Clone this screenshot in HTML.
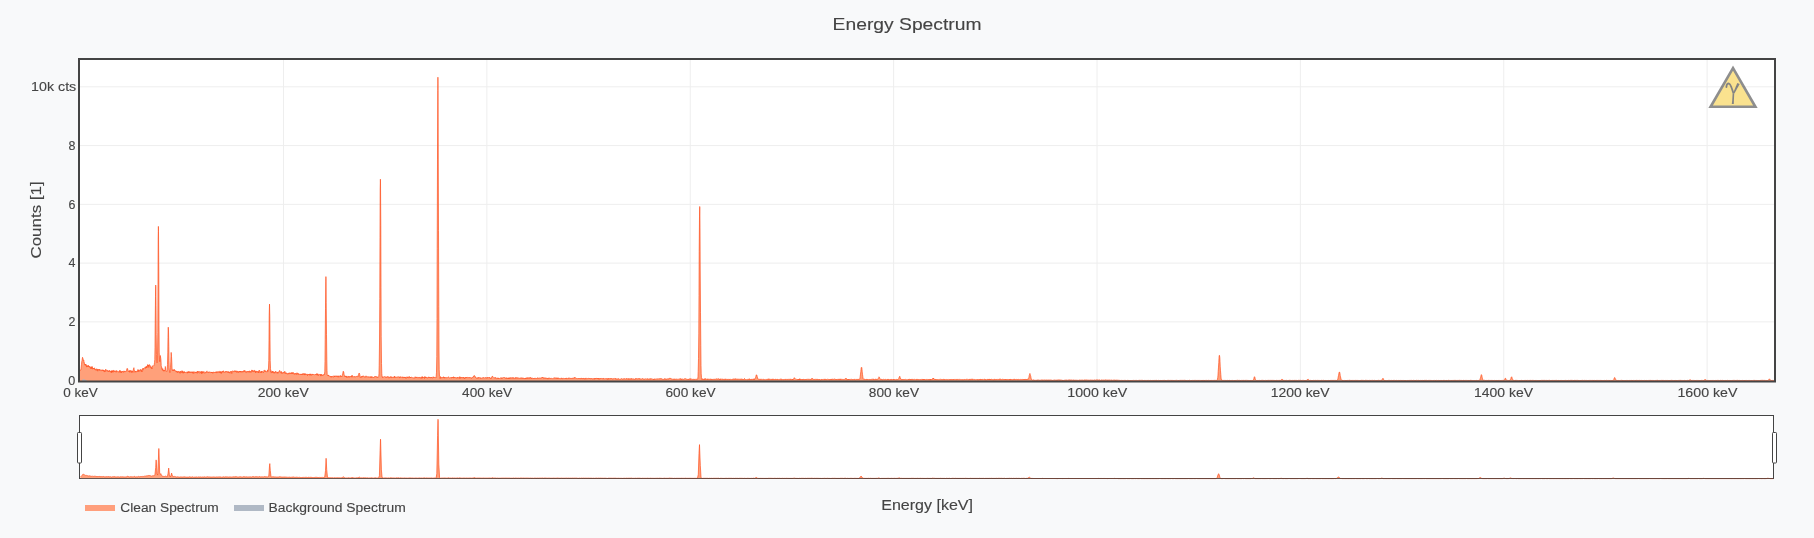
<!DOCTYPE html><html><head><meta charset="utf-8"><title>Energy Spectrum</title><style>html,body{margin:0;padding:0;background:#f8f9fa;overflow:hidden;}svg{display:block;will-change:transform;font-family:"Liberation Sans",sans-serif;}</style></head><body><svg width="1814" height="538" viewBox="0 0 1814 538">
<rect width="1814" height="538" fill="#f8f9fa"/>
<rect x="79.0" y="59.0" width="1696.0" height="322.0" fill="#fff"/>
<path d="M283.50,59.0V381.0 M486.88,59.0V381.0 M690.25,59.0V381.0 M893.62,59.0V381.0 M1097.00,59.0V381.0 M1300.38,59.0V381.0 M1503.75,59.0V381.0 M1707.12,59.0V381.0 M79.0,321.87H1775.0 M79.0,263.11H1775.0 M79.0,204.35H1775.0 M79.0,145.59H1775.0 M79.0,86.83H1775.0" stroke="#eee" stroke-width="1" fill="none"/>
<clipPath id="cp"><rect x="79.0" y="59.0" width="1696.0" height="322.0"/></clipPath>
<g clip-path="url(#cp)">
<path d="M80.0,381.0 L80.0,371.0 80.2,370.2 80.5,370.1 80.8,370.0 81.0,368.6 81.2,367.1 81.5,364.3 81.8,361.3 82.0,361.0 82.2,359.2 82.5,357.3 82.8,358.0 83.0,358.8 83.2,360.3 83.5,360.1 83.8,360.0 84.0,362.4 84.2,362.2 84.5,364.1 84.8,364.1 85.0,365.2 85.2,364.2 85.5,365.3 85.8,364.1 86.0,364.4 86.2,364.9 86.5,367.1 86.8,365.5 87.0,365.2 87.2,365.3 87.5,366.8 87.8,366.1 88.0,366.7 88.2,366.7 88.5,365.3 88.8,367.0 89.0,366.6 89.2,366.0 89.5,367.3 89.8,367.1 90.0,367.1 90.2,367.2 90.5,368.4 90.8,367.4 91.0,366.5 91.2,368.9 91.5,367.1 91.8,367.8 92.0,368.5 92.2,366.5 92.5,367.6 92.8,369.2 93.0,368.3 93.2,368.0 93.5,368.7 93.8,368.1 94.0,368.8 94.2,368.3 94.5,367.8 94.8,369.5 95.0,368.9 95.2,369.5 95.5,369.2 95.8,370.3 96.0,369.9 96.2,369.6 96.5,368.9 96.8,368.7 97.0,370.6 97.2,370.2 97.5,369.2 97.8,371.2 98.0,370.1 98.2,369.9 98.5,369.0 98.8,369.4 99.0,370.2 99.2,370.3 99.5,370.3 99.8,369.0 100.0,370.5 100.2,370.4 100.5,370.0 100.8,370.4 101.0,370.5 101.2,371.1 101.5,370.4 101.8,370.7 102.0,369.6 102.2,370.0 102.5,370.5 102.8,370.0 103.0,370.7 103.2,369.8 103.5,370.5 103.8,370.1 104.0,371.5 104.2,370.3 104.5,371.8 104.8,372.0 105.0,370.8 105.2,371.3 105.5,370.6 105.8,369.1 106.0,371.3 106.2,371.2 106.5,370.6 106.8,370.4 107.0,370.9 107.2,371.0 107.5,370.3 107.8,370.5 108.0,371.6 108.2,370.9 108.5,370.9 108.8,371.6 109.0,370.8 109.2,371.6 109.5,370.3 109.8,370.9 110.0,371.0 110.2,371.4 110.5,371.1 110.8,372.4 111.0,371.9 111.2,370.9 111.5,372.6 111.8,370.6 112.0,372.3 112.2,370.7 112.5,371.8 112.8,370.7 113.0,371.1 113.2,372.3 113.5,370.4 113.8,370.3 114.0,371.3 114.2,371.5 114.5,371.4 114.8,372.0 115.0,370.6 115.2,371.7 115.5,371.4 115.8,371.9 116.0,371.8 116.2,372.3 116.5,370.6 116.8,371.5 117.0,370.8 117.2,371.4 117.5,371.9 117.8,371.7 118.0,371.9 118.2,371.5 118.5,371.8 118.8,371.7 119.0,372.4 119.2,372.1 119.5,370.4 119.8,372.0 120.0,372.3 120.2,371.3 120.5,370.6 120.8,372.5 121.0,371.7 121.2,372.0 121.5,372.8 121.8,371.1 122.0,371.6 122.2,371.6 122.5,372.1 122.8,371.3 123.0,372.0 123.2,371.7 123.5,372.4 123.8,372.5 124.0,370.8 124.2,372.0 124.5,371.5 124.8,371.7 125.0,372.0 125.2,372.0 125.5,371.3 125.8,371.9 126.0,371.7 126.2,371.5 126.5,370.2 126.8,369.5 127.0,368.6 127.2,368.9 127.2,369.4 127.5,368.6 127.8,369.7 128.0,371.3 128.2,371.1 128.5,371.0 128.8,371.0 129.0,370.9 129.2,371.8 129.5,370.5 129.8,372.4 130.0,370.9 130.2,371.2 130.5,370.9 130.8,370.2 131.0,370.5 131.2,372.2 131.5,372.6 131.8,370.9 132.0,372.1 132.2,371.4 132.5,370.9 132.8,372.5 133.0,372.5 133.2,370.2 133.5,369.1 133.8,368.1 133.9,367.7 134.0,368.4 134.2,369.9 134.5,370.3 134.8,371.6 135.0,372.4 135.2,371.0 135.5,371.4 135.8,371.0 136.0,372.0 136.2,371.7 136.5,371.9 136.8,371.7 137.0,370.9 137.2,371.5 137.5,370.7 137.8,370.6 138.0,369.4 138.2,371.7 138.5,370.1 138.8,370.7 139.0,370.6 139.2,371.5 139.5,370.7 139.8,369.8 140.0,370.3 140.2,370.1 140.5,370.3 140.8,369.2 141.0,370.0 141.2,371.5 141.5,370.3 141.8,371.1 142.0,372.0 142.2,369.9 142.5,368.5 142.8,369.3 143.0,370.2 143.2,369.8 143.5,368.1 143.8,368.7 144.0,368.6 144.2,368.5 144.5,368.2 144.8,367.4 145.0,367.5 145.2,367.6 145.5,368.4 145.8,367.0 146.0,367.8 146.2,366.1 146.5,367.9 146.8,366.8 147.0,366.5 147.2,367.4 147.5,364.7 147.8,364.7 148.0,366.2 148.2,365.0 148.5,365.1 148.8,367.5 149.0,364.8 149.2,364.9 149.5,364.6 149.8,365.6 150.0,365.6 150.2,366.2 150.5,365.8 150.8,367.2 151.0,368.1 151.2,367.1 151.5,368.4 151.8,368.0 152.0,368.9 152.2,365.9 152.5,366.1 152.8,365.9 153.0,365.8 153.2,366.0 153.5,365.7 153.8,365.8 154.0,365.5 154.2,364.9 154.5,362.6 154.8,359.6 155.0,347.8 155.2,323.7 155.5,296.3 155.7,285.1 155.8,286.6 156.0,305.4 156.2,334.3 156.5,354.6 156.8,361.6 157.0,362.7 157.2,362.9 157.5,355.9 157.8,332.3 158.0,284.7 158.2,238.0 158.4,226.4 158.5,231.7 158.8,273.0 159.0,325.1 159.2,352.1 159.5,359.8 159.8,361.7 160.0,359.2 160.2,355.7 160.4,355.5 160.5,356.9 160.8,358.7 161.0,361.1 161.2,365.6 161.5,366.9 161.8,368.3 162.0,367.9 162.2,369.6 162.5,370.0 162.8,368.7 163.0,370.8 163.2,369.9 163.5,370.1 163.8,371.3 164.0,371.1 164.2,370.1 164.5,371.1 164.8,370.3 165.0,369.4 165.2,367.5 165.3,366.5 165.5,367.3 165.8,370.0 166.0,371.2 166.2,371.6 166.5,371.3 166.8,371.6 167.0,371.0 167.2,369.4 167.5,364.5 167.8,352.9 168.0,337.3 168.2,327.9 168.3,327.2 168.5,331.0 168.8,346.3 169.0,360.5 169.2,369.2 169.5,370.5 169.8,372.7 170.0,372.3 170.2,369.9 170.5,367.3 170.8,361.9 171.0,355.8 171.2,352.4 171.2,352.7 171.5,356.4 171.8,362.2 172.0,368.0 172.2,370.2 172.5,370.7 172.8,369.7 173.0,369.8 173.2,370.6 173.5,369.8 173.8,370.8 174.0,369.4 174.2,369.5 174.5,369.6 174.8,370.9 175.0,370.3 175.2,370.9 175.5,371.2 175.8,371.3 176.0,372.0 176.2,372.2 176.5,370.9 176.8,371.6 177.0,371.4 177.2,371.0 177.5,372.8 177.8,372.2 178.0,371.7 178.2,371.6 178.5,372.1 178.8,371.3 179.0,371.9 179.2,372.8 179.5,372.7 179.8,371.6 180.0,371.9 180.2,373.4 180.5,371.3 180.8,371.8 181.0,371.3 181.2,372.4 181.5,372.4 181.8,372.9 182.0,370.6 182.2,372.3 182.5,371.2 182.8,372.6 183.0,372.1 183.2,373.3 183.5,372.4 183.8,371.6 184.0,373.0 184.2,371.5 184.5,372.0 184.8,372.9 185.0,372.5 185.2,372.5 185.5,372.2 185.8,372.5 186.0,372.7 186.2,372.4 186.5,372.9 186.8,373.0 187.0,372.2 187.2,371.6 187.5,373.2 187.8,372.2 188.0,372.6 188.2,372.8 188.5,371.7 188.8,372.5 189.0,371.2 189.2,372.7 189.5,372.0 189.8,372.3 190.0,372.7 190.2,371.8 190.5,372.3 190.8,371.8 191.0,372.2 191.2,372.9 191.5,372.3 191.8,372.2 192.0,371.6 192.2,372.8 192.5,372.2 192.8,373.3 193.0,371.8 193.2,372.9 193.5,373.4 193.8,372.2 194.0,371.5 194.2,373.2 194.5,372.9 194.8,372.7 195.0,372.9 195.2,372.0 195.5,372.7 195.8,372.7 196.0,371.8 196.2,372.7 196.5,371.9 196.8,372.8 197.0,373.0 197.2,373.4 197.5,371.0 197.8,372.4 198.0,372.0 198.2,372.2 198.5,372.1 198.8,372.2 199.0,371.0 199.2,372.9 199.5,373.2 199.8,372.8 200.0,373.1 200.2,371.7 200.5,371.7 200.8,372.8 201.0,373.1 201.2,372.4 201.5,371.3 201.8,374.0 202.0,371.8 202.2,372.9 202.5,371.5 202.8,372.9 203.0,372.4 203.2,373.1 203.5,372.8 203.8,371.3 204.0,371.6 204.2,372.4 204.5,372.7 204.8,373.4 205.0,372.4 205.2,372.2 205.5,372.2 205.8,372.2 206.0,372.9 206.2,372.2 206.5,372.2 206.8,371.3 207.0,370.9 207.2,372.2 207.5,372.6 207.8,372.2 208.0,372.5 208.2,372.6 208.5,372.2 208.8,372.8 209.0,371.7 209.2,372.2 209.5,371.9 209.8,372.2 210.0,372.6 210.2,372.7 210.5,372.2 210.8,372.4 211.0,371.9 211.2,372.1 211.5,373.0 211.8,372.0 212.0,372.9 212.2,372.5 212.5,372.3 212.8,373.4 213.0,372.0 213.2,372.0 213.5,372.2 213.8,372.3 214.0,372.3 214.2,372.7 214.5,372.2 214.8,372.4 215.0,372.0 215.2,372.8 215.5,371.9 215.8,372.0 216.0,372.1 216.2,372.3 216.5,371.7 216.8,373.1 217.0,371.7 217.2,371.9 217.5,371.8 217.8,371.8 218.0,372.4 218.2,372.2 218.5,371.6 218.8,371.7 219.0,371.9 219.2,373.0 219.5,371.7 219.8,371.2 220.0,371.3 220.2,371.8 220.5,373.0 220.8,371.4 221.0,372.1 221.2,373.6 221.5,371.7 221.8,372.9 222.0,372.8 222.2,372.4 222.5,371.1 222.8,372.2 223.0,371.8 223.2,370.8 223.5,370.9 223.8,372.0 224.0,372.1 224.2,372.8 224.5,372.4 224.8,371.7 225.0,371.7 225.2,371.8 225.5,371.3 225.8,372.4 226.0,371.9 226.2,371.4 226.5,371.5 226.8,371.2 227.0,371.6 227.2,372.1 227.5,371.7 227.8,372.5 228.0,372.9 228.2,371.5 228.5,371.9 228.8,371.7 229.0,373.0 229.2,372.1 229.5,372.2 229.8,372.4 230.0,373.3 230.2,372.1 230.5,371.3 230.8,371.6 231.0,372.2 231.2,371.8 231.5,371.3 231.8,373.6 232.0,371.9 232.2,371.5 232.5,371.4 232.8,370.7 233.0,371.1 233.2,371.6 233.5,371.6 233.8,371.3 234.0,372.1 234.2,371.8 234.5,371.2 234.8,370.5 235.0,371.9 235.2,371.8 235.5,371.6 235.8,370.9 236.0,371.8 236.2,370.8 236.5,372.4 236.8,371.9 237.0,371.9 237.2,371.2 237.5,371.1 237.8,372.7 238.0,372.3 238.2,371.5 238.5,372.2 238.8,372.7 239.0,371.0 239.2,371.4 239.5,371.4 239.8,372.0 240.0,371.0 240.2,371.9 240.5,371.0 240.8,372.3 241.0,372.3 241.2,371.6 241.5,372.1 241.8,371.2 242.0,371.5 242.2,372.3 242.5,371.6 242.8,371.9 243.0,371.1 243.2,372.1 243.5,372.0 243.8,370.9 244.0,370.2 244.2,370.3 244.5,371.6 244.8,371.5 245.0,370.6 245.2,371.7 245.5,372.3 245.8,371.6 246.0,371.3 246.2,372.2 246.5,372.7 246.8,372.6 247.0,371.2 247.2,372.1 247.5,371.7 247.8,371.5 248.0,371.2 248.2,371.8 248.5,371.3 248.8,372.2 249.0,371.8 249.2,372.3 249.5,370.8 249.8,371.6 250.0,372.1 250.2,371.8 250.5,371.7 250.8,371.1 251.0,372.6 251.2,372.3 251.5,371.8 251.8,369.9 252.0,370.9 252.2,371.6 252.5,371.1 252.8,370.2 253.0,371.7 253.2,371.8 253.5,370.8 253.8,371.2 254.0,371.1 254.2,371.9 254.5,370.3 254.8,370.4 255.0,371.2 255.2,371.1 255.5,372.9 255.8,371.1 256.0,371.7 256.2,371.2 256.5,371.1 256.8,371.7 257.0,372.6 257.2,371.3 257.5,372.0 257.8,371.7 258.0,371.9 258.2,371.7 258.5,373.0 258.8,370.7 259.0,371.3 259.2,370.8 259.5,370.2 259.8,371.5 260.0,372.7 260.2,372.1 260.5,372.3 260.8,371.8 261.0,371.4 261.2,372.8 261.5,371.2 261.8,372.5 262.0,371.3 262.2,371.5 262.5,371.7 262.8,371.5 263.0,371.8 263.2,371.9 263.5,372.6 263.8,371.5 264.0,370.2 264.2,370.1 264.5,370.6 264.8,371.0 265.0,371.9 265.2,370.5 265.5,371.5 265.8,371.5 266.0,371.6 266.2,371.4 266.5,371.7 266.8,371.5 267.0,372.1 267.2,371.7 267.5,369.9 267.8,371.4 268.0,371.5 268.2,370.6 268.5,368.0 268.8,360.6 269.0,340.9 269.2,315.6 269.5,304.1 269.8,316.2 270.0,339.8 270.2,360.5 270.5,368.7 270.8,371.6 271.0,370.7 271.2,373.1 271.5,372.3 271.8,372.2 272.0,371.5 272.2,371.5 272.5,371.0 272.8,373.0 273.0,371.5 273.2,372.2 273.5,372.4 273.8,371.7 274.0,372.6 274.2,373.4 274.5,372.3 274.8,373.0 275.0,372.5 275.2,371.9 275.5,371.9 275.8,371.1 276.0,372.3 276.2,373.2 276.5,372.7 276.8,372.8 277.0,373.0 277.2,372.0 277.5,372.7 277.8,373.5 278.0,371.9 278.2,372.4 278.5,372.1 278.8,372.2 279.0,371.7 279.2,371.7 279.5,370.5 279.8,370.7 279.9,370.7 280.0,370.7 280.2,372.2 280.5,371.8 280.8,372.3 281.0,372.2 281.2,373.3 281.5,371.5 281.8,372.5 282.0,373.3 282.2,373.6 282.5,372.8 282.8,372.7 283.0,373.1 283.2,372.6 283.5,373.1 283.8,372.3 284.0,373.1 284.2,372.7 284.5,372.1 284.8,371.2 285.0,373.4 285.2,373.1 285.5,373.4 285.8,372.4 286.0,373.6 286.2,373.2 286.5,373.0 286.8,373.6 287.0,373.6 287.2,373.3 287.5,374.3 287.8,373.9 288.0,373.3 288.2,373.0 288.5,373.2 288.8,374.2 289.0,373.4 289.2,372.7 289.5,372.9 289.8,373.3 290.0,373.8 290.2,372.9 290.5,373.7 290.8,374.0 291.0,373.8 291.2,372.5 291.5,373.3 291.8,372.7 292.0,373.7 292.2,372.9 292.5,373.9 292.8,373.6 293.0,372.1 293.2,373.1 293.5,373.9 293.8,373.7 294.0,373.5 294.2,373.0 294.5,374.0 294.8,374.7 295.0,373.9 295.2,373.7 295.5,373.7 295.8,373.0 296.0,373.6 296.2,373.4 296.5,374.5 296.8,373.4 297.0,372.7 297.2,373.5 297.5,373.8 297.8,373.9 298.0,373.0 298.2,374.6 298.5,374.1 298.8,373.8 299.0,373.7 299.2,374.4 299.5,374.0 299.8,374.3 300.0,374.1 300.2,374.3 300.5,374.9 300.8,374.3 301.0,373.8 301.2,374.8 301.5,374.4 301.8,374.0 302.0,374.9 302.2,374.2 302.5,374.9 302.8,373.7 303.0,373.1 303.2,373.3 303.5,374.5 303.8,374.0 304.0,374.3 304.2,374.3 304.5,373.6 304.8,375.1 305.0,373.8 305.2,374.5 305.5,373.7 305.8,374.3 306.0,374.8 306.2,374.3 306.5,374.1 306.8,374.4 307.0,374.2 307.2,374.8 307.5,375.7 307.8,374.0 308.0,374.1 308.2,374.4 308.5,374.5 308.8,374.0 309.0,374.8 309.2,374.9 309.5,374.7 309.8,373.9 310.0,375.3 310.2,373.9 310.5,374.9 310.8,375.2 311.0,373.9 311.2,374.7 311.5,375.3 311.8,374.8 312.0,374.1 312.2,374.0 312.5,374.9 312.8,374.4 313.0,374.3 313.2,375.0 313.5,374.5 313.8,374.7 314.0,375.0 314.2,375.0 314.5,374.7 314.8,374.7 315.0,375.0 315.2,374.9 315.5,374.1 315.8,374.6 316.0,374.3 316.2,374.1 316.5,374.4 316.8,373.5 317.0,375.2 317.2,374.3 317.5,375.0 317.8,373.8 318.0,373.9 318.2,375.8 318.5,375.3 318.8,374.5 319.0,374.4 319.2,374.4 319.5,374.9 319.8,374.6 320.0,374.5 320.2,374.9 320.5,374.3 320.8,376.1 321.0,374.5 321.2,375.4 321.5,374.4 321.8,375.0 322.0,375.4 322.2,374.7 322.5,375.4 322.8,375.4 323.0,375.8 323.2,375.0 323.5,374.7 323.8,374.4 324.0,375.0 324.2,374.3 324.5,374.2 324.8,371.3 325.0,361.3 325.2,339.7 325.5,308.8 325.8,281.9 325.9,276.6 326.0,278.9 326.2,302.8 326.5,334.3 326.8,359.1 327.0,370.3 327.2,374.9 327.5,375.3 327.8,375.5 328.0,376.0 328.2,374.9 328.5,375.7 328.8,375.1 329.0,375.6 329.2,376.4 329.5,376.3 329.8,376.0 330.0,376.3 330.2,376.3 330.5,376.4 330.8,377.1 331.0,376.4 331.2,377.3 331.5,376.2 331.8,376.7 332.0,376.7 332.2,376.4 332.5,376.2 332.8,377.0 333.0,377.1 333.2,376.8 333.5,377.3 333.8,376.8 334.0,375.6 334.2,376.8 334.5,376.1 334.8,377.0 335.0,376.2 335.2,376.5 335.5,376.4 335.8,376.1 336.0,375.6 336.2,376.3 336.5,376.3 336.8,376.8 337.0,376.1 337.2,376.5 337.5,376.0 337.8,376.4 338.0,375.6 338.2,377.3 338.5,376.6 338.8,376.0 339.0,376.6 339.2,376.8 339.5,376.6 339.8,377.1 340.0,376.4 340.2,375.3 340.5,375.9 340.8,377.0 341.0,376.8 341.2,376.6 341.5,376.0 341.8,376.7 342.0,376.4 342.2,375.2 342.5,374.2 342.8,373.3 343.0,372.2 343.2,371.6 343.3,371.2 343.5,372.3 343.8,372.2 344.0,374.3 344.2,375.0 344.5,375.2 344.8,375.8 345.0,377.0 345.2,376.1 345.5,376.0 345.8,376.9 346.0,377.0 346.2,376.6 346.5,377.2 346.8,375.9 347.0,377.6 347.2,377.0 347.5,376.7 347.8,376.7 348.0,376.5 348.2,376.4 348.5,376.7 348.8,376.1 349.0,377.5 349.2,376.6 349.5,376.9 349.8,376.5 350.0,376.5 350.2,377.0 350.5,376.9 350.8,376.2 351.0,376.4 351.2,376.9 351.5,375.7 351.8,375.6 352.0,377.3 352.2,376.5 352.5,375.5 352.8,376.3 353.0,376.5 353.2,376.7 353.5,376.9 353.8,376.7 354.0,376.9 354.2,376.3 354.5,376.8 354.8,376.8 355.0,377.2 355.2,376.7 355.5,377.1 355.8,376.7 356.0,376.2 356.2,376.5 356.5,376.5 356.8,376.5 357.0,376.7 357.2,376.7 357.5,376.8 357.8,376.2 358.0,376.7 358.2,375.0 358.5,374.6 358.8,373.9 359.0,373.2 359.1,373.2 359.2,373.0 359.5,374.1 359.8,374.3 360.0,376.1 360.2,377.3 360.5,376.9 360.8,377.6 361.0,376.8 361.2,376.3 361.5,376.5 361.8,377.3 362.0,377.1 362.2,376.0 362.5,376.6 362.8,376.8 363.0,376.3 363.2,375.7 363.5,376.2 363.8,376.7 364.0,376.6 364.2,376.5 364.5,377.1 364.8,377.3 365.0,376.8 365.2,377.2 365.5,376.8 365.8,376.8 366.0,375.8 366.2,377.2 366.5,376.9 366.8,376.9 367.0,376.6 367.2,376.4 367.5,377.0 367.8,377.2 368.0,377.5 368.2,377.2 368.5,376.6 368.8,376.8 369.0,377.3 369.2,377.0 369.5,376.9 369.8,376.7 370.0,377.1 370.2,377.0 370.5,377.7 370.8,377.4 371.0,376.2 371.2,377.8 371.5,377.0 371.8,376.8 372.0,377.1 372.2,377.2 372.5,376.9 372.8,376.9 373.0,376.9 373.2,377.7 373.5,377.0 373.8,377.3 374.0,377.2 374.2,376.8 374.5,376.7 374.8,376.6 375.0,377.2 375.2,376.6 375.5,376.5 375.8,376.5 376.0,376.4 376.2,377.0 376.5,377.0 376.8,376.6 377.0,377.5 377.2,376.9 377.5,377.2 377.8,377.1 378.0,377.7 378.2,377.4 378.5,376.9 378.8,376.1 379.0,373.8 379.2,365.8 379.5,343.0 379.8,298.4 380.0,237.3 380.2,189.0 380.4,179.2 380.5,183.0 380.8,225.6 381.0,287.2 381.2,336.2 381.5,363.4 381.8,373.8 382.0,375.7 382.2,376.8 382.5,377.7 382.8,376.8 383.0,376.5 383.2,377.2 383.5,377.4 383.8,377.2 384.0,377.0 384.2,376.8 384.5,376.6 384.8,376.6 385.0,376.6 385.2,376.5 385.5,376.8 385.8,377.7 386.0,377.2 386.2,377.0 386.5,377.3 386.8,376.7 387.0,377.3 387.2,377.5 387.5,376.5 387.8,376.9 388.0,377.1 388.2,376.8 388.5,376.7 388.8,377.0 389.0,378.2 389.2,377.4 389.5,377.4 389.8,377.6 390.0,377.1 390.2,376.7 390.5,377.4 390.8,377.7 391.0,376.4 391.2,377.4 391.5,377.7 391.8,377.1 392.0,377.0 392.2,377.5 392.5,376.9 392.8,377.4 393.0,377.6 393.2,377.2 393.5,376.9 393.8,377.5 394.0,377.1 394.2,377.3 394.5,376.1 394.8,377.5 395.0,376.7 395.2,377.3 395.5,377.3 395.8,377.0 396.0,376.9 396.2,376.8 396.5,377.1 396.8,377.5 397.0,377.5 397.2,377.1 397.5,377.1 397.8,376.7 398.0,377.1 398.2,376.9 398.5,376.7 398.8,377.3 399.0,377.9 399.2,377.8 399.5,377.9 399.8,376.7 400.0,377.7 400.2,376.9 400.5,377.1 400.8,376.7 401.0,377.0 401.2,377.4 401.5,377.4 401.8,377.3 402.0,377.3 402.2,377.6 402.5,377.4 402.8,376.7 403.0,378.1 403.2,377.3 403.5,377.8 403.8,377.3 404.0,377.1 404.2,377.4 404.5,377.1 404.8,378.0 405.0,377.0 405.2,377.7 405.5,377.2 405.8,377.4 406.0,378.5 406.2,377.7 406.5,377.4 406.8,376.8 407.0,377.3 407.2,377.4 407.5,378.0 407.8,376.9 408.0,376.8 408.2,377.5 408.5,377.6 408.8,378.1 409.0,377.1 409.2,376.4 409.5,377.2 409.8,377.0 410.0,377.3 410.2,377.9 410.5,377.0 410.8,378.0 411.0,377.6 411.2,377.4 411.5,377.2 411.8,377.3 412.0,377.4 412.2,377.8 412.5,378.0 412.8,377.5 413.0,377.8 413.2,378.0 413.5,378.0 413.8,377.7 414.0,378.2 414.2,378.0 414.5,378.2 414.8,377.4 415.0,377.4 415.2,376.7 415.5,378.1 415.8,377.8 416.0,377.2 416.2,377.6 416.5,377.7 416.8,376.9 417.0,377.7 417.2,378.0 417.5,378.0 417.8,377.4 418.0,377.4 418.2,378.1 418.5,377.9 418.8,377.3 419.0,377.3 419.2,377.8 419.5,377.3 419.8,377.3 420.0,378.2 420.2,377.7 420.5,377.4 420.8,377.8 421.0,378.4 421.2,377.7 421.5,377.3 421.8,376.9 422.0,378.4 422.2,376.5 422.5,378.0 422.8,377.2 423.0,377.1 423.2,377.2 423.5,377.5 423.8,378.0 424.0,377.3 424.2,377.8 424.5,378.5 424.8,376.5 425.0,377.3 425.2,376.9 425.5,377.9 425.8,377.0 426.0,376.9 426.2,377.0 426.5,377.6 426.8,378.0 427.0,377.6 427.2,378.4 427.5,378.2 427.8,377.5 428.0,377.9 428.2,377.6 428.5,377.6 428.8,376.8 429.0,377.1 429.2,377.6 429.5,377.1 429.8,377.9 430.0,377.7 430.2,377.2 430.5,378.1 430.8,377.7 431.0,378.1 431.2,377.5 431.5,377.0 431.8,377.9 432.0,377.5 432.2,377.9 432.5,378.0 432.8,378.1 433.0,377.0 433.2,376.7 433.5,377.4 433.8,377.9 434.0,377.3 434.2,377.7 434.5,377.3 434.8,377.5 435.0,377.5 435.2,377.4 435.5,377.8 435.8,377.7 436.0,378.0 436.2,376.5 436.5,372.2 436.8,356.3 437.0,318.5 437.2,248.4 437.5,159.1 437.8,90.7 437.9,77.2 438.0,83.2 438.2,142.0 438.5,230.6 438.8,306.4 439.0,351.0 439.2,369.2 439.5,376.4 439.8,376.7 440.0,377.8 440.2,378.7 440.5,376.6 440.8,377.0 441.0,378.0 441.2,377.6 441.5,377.7 441.8,377.6 442.0,378.2 442.2,377.9 442.5,377.5 442.8,377.6 443.0,377.2 443.2,377.6 443.5,376.7 443.8,377.9 444.0,377.5 444.2,378.4 444.5,378.1 444.8,377.1 445.0,378.0 445.2,377.5 445.5,377.7 445.8,378.1 446.0,377.8 446.2,377.9 446.5,377.8 446.8,377.4 447.0,377.4 447.2,377.9 447.5,378.0 447.8,377.6 448.0,377.7 448.2,377.3 448.5,376.7 448.8,377.4 449.0,377.7 449.2,377.7 449.5,378.0 449.8,378.0 450.0,378.1 450.2,377.8 450.5,377.8 450.8,377.4 451.0,377.8 451.2,377.8 451.5,378.2 451.8,377.1 452.0,377.5 452.2,377.0 452.5,377.4 452.8,377.1 453.0,377.8 453.2,377.4 453.5,376.7 453.8,378.2 454.0,377.3 454.2,377.1 454.5,377.6 454.8,377.4 455.0,377.2 455.2,378.0 455.5,377.6 455.8,378.1 456.0,378.0 456.2,378.0 456.5,377.8 456.8,377.7 457.0,377.6 457.2,378.3 457.5,377.0 457.8,377.3 458.0,377.5 458.2,377.9 458.5,377.8 458.8,377.5 459.0,377.6 459.2,378.4 459.5,377.5 459.8,376.6 460.0,378.5 460.2,377.4 460.5,377.6 460.8,377.8 461.0,377.2 461.2,378.2 461.5,377.7 461.8,377.2 462.0,377.8 462.2,377.9 462.5,377.7 462.8,377.9 463.0,377.2 463.2,378.1 463.5,377.4 463.8,378.2 464.0,377.5 464.2,377.8 464.5,378.8 464.8,377.8 465.0,378.2 465.2,377.9 465.5,377.2 465.8,378.2 466.0,378.2 466.2,377.2 466.5,377.7 466.8,377.2 467.0,377.7 467.2,378.1 467.5,377.8 467.8,377.3 468.0,377.4 468.2,377.8 468.5,377.8 468.8,377.8 469.0,378.0 469.2,377.1 469.5,377.8 469.8,378.2 470.0,378.0 470.2,377.5 470.5,377.6 470.8,377.9 471.0,378.1 471.2,377.8 471.5,378.5 471.8,378.3 472.0,377.5 472.2,378.0 472.5,377.6 472.8,377.2 473.0,377.2 473.2,377.2 473.5,376.1 473.8,376.3 474.0,376.3 474.2,375.6 474.5,375.6 474.8,376.2 475.0,376.1 475.2,376.6 475.5,377.7 475.8,377.3 476.0,377.6 476.2,377.8 476.5,378.4 476.8,377.9 477.0,377.9 477.2,377.8 477.5,378.3 477.8,377.6 478.0,378.3 478.2,377.9 478.5,377.4 478.8,378.1 479.0,378.1 479.2,377.5 479.5,378.0 479.8,378.0 480.0,377.8 480.2,377.5 480.5,378.7 480.8,378.2 481.0,378.3 481.2,378.3 481.5,378.2 481.8,378.2 482.0,377.8 482.2,378.2 482.5,377.8 482.8,377.7 483.0,378.2 483.2,377.8 483.5,377.3 483.8,377.8 484.0,378.1 484.2,377.9 484.5,378.2 484.8,377.8 485.0,377.6 485.2,378.2 485.5,378.0 485.8,377.5 486.0,378.1 486.2,377.8 486.5,378.3 486.8,378.2 487.0,378.1 487.2,377.1 487.5,378.1 487.8,378.1 488.0,378.1 488.2,378.0 488.5,377.7 488.8,377.9 489.0,377.2 489.2,377.9 489.5,377.4 489.8,377.8 490.0,377.7 490.2,378.5 490.5,378.0 490.8,378.0 491.0,378.0 491.2,378.6 491.5,377.3 491.8,377.3 492.0,376.8 492.2,376.3 492.4,376.2 492.5,376.0 492.8,377.0 493.0,377.4 493.2,377.4 493.5,377.7 493.8,378.0 494.0,378.2 494.2,378.3 494.5,378.0 494.8,377.5 495.0,378.3 495.2,377.4 495.5,377.7 495.8,378.1 496.0,377.7 496.2,378.5 496.5,378.6 496.8,378.4 497.0,378.1 497.2,378.1 497.5,378.2 497.8,378.0 498.0,378.8 498.2,377.8 498.5,378.5 498.8,378.2 499.0,378.1 499.2,378.4 499.5,378.5 499.8,378.4 500.0,378.0 500.2,377.8 500.5,377.8 500.8,378.4 501.0,378.3 501.2,378.3 501.5,377.8 501.8,378.7 502.0,377.6 502.2,378.2 502.5,378.3 502.8,377.9 503.0,377.7 503.2,377.9 503.5,377.6 503.8,378.0 504.0,377.6 504.2,377.6 504.5,378.1 504.8,377.5 505.0,378.0 505.2,378.0 505.5,378.4 505.8,378.1 506.0,377.8 506.2,378.5 506.5,377.8 506.8,377.9 507.0,377.9 507.2,378.8 507.5,378.1 507.8,377.8 508.0,378.3 508.2,378.0 508.5,378.9 508.8,377.8 509.0,378.3 509.2,377.8 509.5,378.7 509.8,377.8 510.0,378.2 510.2,377.8 510.5,378.4 510.8,378.3 511.0,377.3 511.2,378.4 511.5,378.3 511.8,378.2 512.0,378.4 512.2,377.7 512.5,377.5 512.8,378.3 513.0,378.7 513.2,377.7 513.5,377.7 513.8,377.8 514.0,377.7 514.2,378.4 514.5,378.2 514.8,378.6 515.0,378.6 515.2,377.8 515.5,378.3 515.8,377.3 516.0,378.1 516.2,378.3 516.5,377.8 516.8,377.5 517.0,377.9 517.2,378.5 517.5,378.0 517.8,377.6 518.0,378.3 518.2,378.4 518.5,377.8 518.8,378.1 519.0,378.5 519.2,378.3 519.5,378.4 519.8,378.0 520.0,378.1 520.2,377.7 520.5,377.9 520.8,378.7 521.0,378.0 521.2,377.8 521.5,378.0 521.8,377.8 522.0,378.3 522.2,378.5 522.5,377.8 522.8,378.5 523.0,378.9 523.2,377.8 523.5,378.4 523.8,378.3 524.0,378.6 524.2,378.6 524.5,378.6 524.8,378.3 525.0,378.0 525.2,379.0 525.5,377.9 525.8,378.6 526.0,378.5 526.2,377.9 526.5,378.2 526.8,378.7 527.0,377.5 527.2,378.5 527.5,378.1 527.8,378.1 528.0,377.7 528.2,378.3 528.5,377.8 528.8,378.4 529.0,377.8 529.2,378.5 529.5,378.3 529.8,377.5 530.0,378.1 530.2,378.2 530.5,377.4 530.8,378.1 531.0,378.5 531.2,378.0 531.5,378.6 531.8,377.8 532.0,377.8 532.2,378.4 532.5,378.4 532.8,378.2 533.0,378.2 533.2,378.6 533.5,378.0 533.8,378.9 534.0,378.4 534.2,378.4 534.5,378.3 534.8,378.1 535.0,378.7 535.2,378.0 535.5,378.3 535.8,378.5 536.0,378.7 536.2,378.6 536.5,378.1 536.8,378.6 537.0,378.2 537.2,377.9 537.5,377.9 537.8,377.7 538.0,378.4 538.2,378.6 538.5,377.9 538.8,378.2 539.0,377.9 539.2,378.3 539.5,377.9 539.8,378.0 540.0,378.0 540.2,378.1 540.5,378.1 540.8,378.2 541.0,378.2 541.2,377.9 541.5,378.3 541.8,377.4 542.0,377.8 542.2,377.3 542.5,377.5 542.8,377.7 543.0,377.1 543.2,378.1 543.5,378.6 543.8,378.5 544.0,378.4 544.2,377.6 544.5,378.2 544.8,378.0 545.0,378.6 545.2,378.2 545.5,378.1 545.8,377.7 546.0,378.5 546.2,378.1 546.5,378.2 546.8,378.7 547.0,378.3 547.2,378.4 547.5,379.1 547.8,378.1 548.0,378.1 548.2,378.5 548.5,378.8 548.8,377.8 549.0,378.2 549.2,378.0 549.5,377.9 549.8,378.5 550.0,378.1 550.2,378.4 550.5,378.4 550.8,378.4 551.0,378.3 551.2,378.0 551.5,378.3 551.8,378.4 552.0,378.4 552.2,378.2 552.5,378.6 552.8,378.5 553.0,378.4 553.2,378.5 553.5,378.4 553.8,378.6 554.0,377.7 554.2,377.9 554.5,378.2 554.8,378.4 555.0,377.6 555.2,378.3 555.5,378.4 555.8,378.3 556.0,378.3 556.2,377.9 556.5,378.4 556.8,377.7 557.0,378.7 557.2,378.2 557.5,378.7 557.8,377.8 558.0,378.5 558.2,378.4 558.5,378.1 558.8,378.0 559.0,378.8 559.2,378.5 559.5,378.9 559.8,378.4 560.0,378.4 560.2,378.5 560.5,378.6 560.8,378.5 561.0,378.7 561.2,378.2 561.5,377.9 561.8,379.0 562.0,378.5 562.2,378.6 562.5,378.3 562.8,378.7 563.0,378.5 563.2,378.8 563.5,378.2 563.8,378.4 564.0,378.5 564.2,378.3 564.5,378.5 564.8,378.9 565.0,378.2 565.2,378.3 565.5,378.5 565.8,378.1 566.0,378.0 566.2,378.8 566.5,378.7 566.8,377.9 567.0,378.0 567.2,378.7 567.5,378.8 567.8,378.5 568.0,378.3 568.2,378.5 568.5,377.9 568.6,378.3 568.8,378.3 569.0,377.8 569.2,378.4 569.5,378.4 569.8,378.2 570.0,378.2 570.2,378.6 570.5,378.5 570.8,378.7 571.0,377.9 571.2,378.3 571.5,378.8 571.8,378.5 572.0,378.2 572.2,378.3 572.5,377.9 572.8,378.0 573.0,378.7 573.2,378.5 573.5,378.9 573.8,378.3 574.0,378.2 574.2,377.2 574.5,377.8 574.8,378.3 575.0,377.7 575.2,377.5 575.5,378.2 575.8,378.3 576.0,378.4 576.2,378.3 576.5,378.5 576.8,378.8 577.0,378.3 577.2,378.7 577.5,378.7 577.8,379.0 578.0,378.8 578.2,378.3 578.5,379.0 578.8,378.6 579.0,378.3 579.2,378.7 579.5,378.5 579.8,378.9 580.0,378.1 580.2,378.2 580.5,378.5 580.8,379.1 581.0,378.9 581.2,378.2 581.5,378.0 581.8,378.5 582.0,378.2 582.2,378.8 582.5,378.6 582.8,378.6 583.0,378.4 583.2,379.1 583.5,378.3 583.8,378.2 584.0,378.9 584.2,379.0 584.5,378.5 584.8,378.8 585.0,379.3 585.2,378.3 585.5,378.5 585.8,378.7 586.0,377.9 586.2,378.6 586.5,378.8 586.8,378.6 587.0,378.9 587.2,378.8 587.5,378.5 587.8,378.8 588.0,378.8 588.2,378.1 588.5,378.4 588.8,378.4 589.0,378.5 589.2,378.5 589.5,378.2 589.8,378.6 590.0,378.1 590.2,378.9 590.5,378.7 590.8,379.1 591.0,378.7 591.2,378.5 591.5,378.2 591.8,378.9 592.0,378.6 592.2,378.8 592.5,378.9 592.8,379.0 593.0,378.6 593.2,379.2 593.5,378.6 593.8,378.7 594.0,378.9 594.2,379.0 594.5,379.1 594.8,378.1 595.0,379.1 595.2,378.2 595.5,378.5 595.8,378.8 596.0,379.0 596.2,378.4 596.5,378.2 596.8,379.0 597.0,378.8 597.2,378.4 597.5,378.6 597.8,378.1 598.0,378.9 598.2,378.5 598.5,379.1 598.8,378.1 599.0,378.9 599.2,379.4 599.5,378.8 599.8,378.8 600.0,378.1 600.2,378.8 600.5,378.7 600.8,378.5 601.0,378.3 601.2,378.8 601.5,378.4 601.8,378.6 602.0,378.8 602.2,378.7 602.5,378.7 602.8,379.0 603.0,378.4 603.2,379.2 603.5,378.4 603.8,378.5 604.0,378.8 604.2,379.0 604.5,378.8 604.8,378.6 605.0,378.5 605.2,378.7 605.5,378.5 605.8,378.9 606.0,378.7 606.2,379.2 606.5,378.6 606.8,378.7 607.0,378.9 607.2,378.4 607.5,378.6 607.8,379.6 608.0,378.8 608.2,379.2 608.5,378.5 608.8,378.1 609.0,379.0 609.2,378.8 609.5,378.9 609.8,378.7 610.0,378.6 610.2,378.4 610.5,379.1 610.8,378.4 611.0,379.1 611.2,378.7 611.5,378.5 611.8,378.6 612.0,379.1 612.2,379.0 612.5,379.0 612.8,378.9 613.0,378.5 613.2,379.2 613.5,378.7 613.8,378.7 614.0,378.7 614.2,378.7 614.5,378.4 614.8,378.7 615.0,378.6 615.2,378.7 615.5,378.3 615.8,379.4 616.0,378.5 616.2,378.9 616.5,379.0 616.8,379.2 617.0,379.4 617.2,379.0 617.5,379.1 617.8,378.7 618.0,379.3 618.2,378.5 618.5,378.8 618.8,379.0 619.0,379.1 619.2,379.1 619.5,379.2 619.8,379.1 620.0,378.9 620.2,379.0 620.5,379.3 620.8,379.0 621.0,379.2 621.2,378.9 621.5,378.4 621.8,378.7 622.0,379.0 622.2,379.4 622.5,379.3 622.8,379.4 623.0,378.7 623.2,379.1 623.5,378.9 623.8,379.1 624.0,378.9 624.2,378.5 624.5,379.1 624.8,379.0 625.0,379.1 625.2,378.7 625.5,379.2 625.8,379.2 626.0,379.3 626.2,379.3 626.5,378.8 626.8,378.2 627.0,379.2 627.2,378.7 627.5,378.9 627.8,379.2 628.0,379.0 628.2,379.0 628.5,379.1 628.8,378.4 629.0,379.5 629.2,378.8 629.5,378.8 629.8,379.1 630.0,378.9 630.2,378.7 630.5,378.9 630.8,378.8 631.0,378.7 631.2,379.5 631.5,378.5 631.8,378.3 632.0,378.7 632.2,378.7 632.5,379.3 632.8,379.0 633.0,379.2 633.2,379.1 633.5,378.7 633.8,379.2 634.0,379.0 634.2,379.5 634.5,379.0 634.8,378.9 635.0,379.2 635.2,379.2 635.5,378.4 635.8,379.3 636.0,379.3 636.2,379.2 636.5,378.6 636.8,378.4 637.0,378.9 637.2,379.2 637.5,379.1 637.8,378.7 638.0,379.2 638.2,378.5 638.5,378.6 638.8,378.9 639.0,378.8 639.2,378.8 639.5,378.5 639.8,379.3 640.0,378.6 640.2,379.1 640.5,379.2 640.8,378.9 641.0,379.0 641.2,379.3 641.5,379.4 641.8,379.2 642.0,378.6 642.2,378.4 642.5,378.8 642.8,378.6 643.0,379.1 643.2,379.0 643.5,378.9 643.8,379.3 644.0,379.3 644.2,379.0 644.5,379.1 644.8,379.3 645.0,378.9 645.2,379.1 645.5,378.7 645.8,379.0 646.0,379.1 646.2,379.0 646.5,379.0 646.8,379.2 647.0,379.1 647.2,378.8 647.5,378.8 647.8,378.6 648.0,379.5 648.2,379.1 648.5,379.1 648.8,378.9 649.0,379.1 649.2,379.1 649.5,378.8 649.8,378.9 650.0,379.3 650.2,378.6 650.5,378.7 650.8,379.2 651.0,378.8 651.2,379.2 651.5,378.7 651.8,379.1 652.0,379.2 652.2,379.1 652.5,379.2 652.8,379.0 653.0,379.0 653.2,379.0 653.5,379.2 653.8,380.0 654.0,379.0 654.2,379.5 654.5,378.9 654.8,378.7 655.0,378.9 655.2,379.1 655.5,379.1 655.8,379.1 656.0,379.2 656.2,379.2 656.5,379.3 656.8,378.7 657.0,379.0 657.2,378.8 657.5,379.1 657.8,379.0 658.0,379.1 658.2,378.9 658.5,378.8 658.8,379.0 659.0,379.2 659.2,379.2 659.5,378.6 659.8,379.1 660.0,379.1 660.2,378.6 660.5,378.7 660.8,378.9 661.0,379.1 661.2,378.4 661.5,378.9 661.8,378.9 662.0,379.1 662.2,379.4 662.5,379.4 662.8,378.9 663.0,378.9 663.2,379.1 663.5,379.4 663.8,379.4 664.0,379.1 664.2,379.5 664.5,378.8 664.8,378.7 665.0,378.3 665.2,378.8 665.5,379.2 665.8,379.3 666.0,380.0 666.2,379.2 666.5,379.1 666.8,378.8 667.0,378.9 667.2,378.9 667.5,379.0 667.8,378.9 668.0,378.7 668.2,379.3 668.5,379.1 668.8,379.3 669.0,378.4 669.2,378.2 669.5,378.1 669.8,378.4 670.0,378.0 670.2,378.2 670.5,378.3 670.8,378.6 671.0,378.7 671.2,379.1 671.5,378.8 671.8,379.0 672.0,379.1 672.2,379.1 672.5,379.2 672.8,378.9 673.0,379.2 673.2,379.0 673.5,379.2 673.8,379.5 674.0,378.8 674.2,379.4 674.5,378.9 674.8,379.0 675.0,379.5 675.2,379.3 675.5,379.2 675.8,379.3 676.0,379.4 676.2,378.9 676.5,379.2 676.8,379.0 677.0,379.2 677.2,379.0 677.5,379.3 677.8,379.1 678.0,378.9 678.2,379.1 678.5,379.2 678.8,379.4 679.0,379.1 679.2,379.0 679.5,379.2 679.8,379.3 680.0,379.0 680.2,378.4 680.5,379.2 680.8,379.0 681.0,379.0 681.2,379.8 681.5,379.1 681.8,379.3 682.0,378.7 682.2,379.2 682.5,379.3 682.8,379.2 683.0,379.1 683.2,379.3 683.5,379.1 683.8,379.5 684.0,379.2 684.2,378.9 684.5,378.6 684.8,378.9 685.0,379.0 685.2,378.8 685.5,378.8 685.8,378.7 686.0,378.8 686.2,379.2 686.5,379.1 686.8,379.1 687.0,379.0 687.2,379.1 687.5,379.3 687.8,379.7 688.0,379.3 688.2,379.7 688.5,379.1 688.8,379.1 689.0,379.6 689.2,378.9 689.5,378.9 689.8,379.1 690.0,378.7 690.2,378.6 690.5,379.5 690.8,378.9 691.0,379.0 691.2,379.0 691.5,378.9 691.8,379.3 692.0,379.3 692.2,379.4 692.5,379.3 692.8,379.2 693.0,379.5 693.2,379.4 693.5,379.0 693.8,379.2 694.0,379.0 694.2,379.7 694.5,379.4 694.8,379.3 695.0,379.1 695.2,379.3 695.5,378.9 695.8,379.2 696.0,379.1 696.2,379.2 696.5,379.0 696.8,379.3 697.0,378.9 697.2,379.0 697.5,379.0 697.8,378.5 698.0,376.7 698.2,371.3 698.5,358.6 698.8,333.9 699.0,295.6 699.2,251.3 699.5,216.1 699.7,206.5 699.8,207.7 700.0,227.8 700.2,269.0 700.5,312.8 700.8,345.7 701.0,365.4 701.2,373.8 701.5,377.6 701.8,379.3 702.0,379.0 702.2,379.3 702.5,378.7 702.8,379.5 703.0,379.8 703.2,379.2 703.5,379.3 703.8,379.3 704.0,379.7 704.2,379.1 704.5,378.7 704.8,379.7 705.0,378.9 705.2,379.3 705.5,378.6 705.8,379.1 706.0,379.2 706.2,378.9 706.5,379.0 706.8,379.3 707.0,379.0 707.2,379.3 707.5,379.7 707.8,378.7 708.0,379.3 708.2,379.4 708.5,379.1 708.8,379.6 709.0,379.6 709.2,379.3 709.5,379.3 709.8,379.2 710.0,378.9 710.2,379.3 710.5,379.1 710.8,379.0 711.0,379.5 711.2,379.1 711.5,379.5 711.8,378.9 712.0,379.1 712.2,379.2 712.5,379.6 712.8,379.2 713.0,379.4 713.2,379.0 713.5,379.2 713.8,379.4 714.0,379.0 714.2,379.0 714.5,379.4 714.8,378.9 715.0,379.3 715.2,379.3 715.5,379.2 715.8,379.4 716.0,379.3 716.2,379.3 716.5,378.8 716.8,378.8 717.0,379.3 717.2,378.8 717.5,379.2 717.8,379.1 718.0,379.0 718.2,379.2 718.5,378.6 718.8,379.2 719.0,379.5 719.2,378.9 719.5,379.3 719.8,379.3 720.0,380.0 720.2,379.0 720.5,379.0 720.8,379.0 721.0,379.0 721.2,378.8 721.5,379.3 721.8,379.0 722.0,379.4 722.2,379.3 722.5,379.0 722.8,379.1 723.0,379.6 723.2,379.2 723.5,379.3 723.8,379.5 724.0,379.1 724.2,379.4 724.5,379.7 724.8,379.5 725.0,378.8 725.2,379.6 725.5,379.2 725.8,379.1 726.0,379.1 726.2,379.6 726.5,379.3 726.8,379.2 727.0,379.1 727.2,379.4 727.5,379.6 727.8,379.0 728.0,379.0 728.2,379.2 728.5,379.4 728.8,379.2 729.0,379.2 729.2,379.0 729.5,379.6 729.8,379.2 730.0,379.3 730.2,379.6 730.5,379.2 730.8,379.3 731.0,379.4 731.2,379.2 731.5,379.6 731.8,379.3 732.0,379.2 732.2,379.2 732.5,379.0 732.8,379.6 733.0,379.7 733.2,379.2 733.5,379.2 733.8,378.7 734.0,379.1 734.2,379.5 734.5,379.1 734.8,379.5 735.0,379.7 735.2,378.6 735.5,379.2 735.8,379.1 736.0,379.1 736.2,378.8 736.5,379.2 736.8,379.0 737.0,379.6 737.2,379.6 737.5,378.9 737.8,378.9 738.0,379.2 738.2,379.2 738.5,379.3 738.8,379.5 739.0,378.9 739.2,379.1 739.5,379.2 739.8,379.2 740.0,379.0 740.2,379.2 740.5,379.1 740.8,379.6 741.0,379.2 741.2,378.7 741.5,379.4 741.8,379.3 742.0,379.1 742.2,379.1 742.5,379.1 742.8,379.7 743.0,379.2 743.2,379.6 743.5,379.5 743.8,379.2 744.0,379.4 744.2,379.1 744.5,378.5 744.8,379.1 745.0,379.1 745.2,379.5 745.5,379.5 745.8,379.6 746.0,379.4 746.2,379.6 746.5,379.5 746.8,379.4 747.0,379.6 747.2,379.7 747.5,379.7 747.8,379.2 748.0,379.3 748.2,379.1 748.5,379.0 748.8,379.4 749.0,379.1 749.2,379.7 749.5,378.7 749.8,379.0 750.0,379.4 750.2,379.6 750.5,379.2 750.8,379.8 751.0,379.5 751.2,379.1 751.5,379.3 751.8,379.4 752.0,379.1 752.2,379.6 752.5,379.2 752.8,379.4 753.0,379.5 753.2,379.2 753.5,379.6 753.8,378.8 754.0,379.5 754.2,378.8 754.5,379.5 754.8,379.0 755.0,379.2 755.2,378.7 755.5,377.6 755.8,376.6 756.0,376.1 756.2,374.8 756.5,375.0 756.8,375.0 757.0,375.7 757.2,376.6 757.5,378.1 757.8,378.0 758.0,378.7 758.2,379.2 758.5,379.5 758.8,379.7 759.0,379.7 759.2,379.2 759.5,379.4 759.8,379.6 760.0,379.5 760.2,378.9 760.5,379.4 760.8,379.5 761.0,379.0 761.2,379.2 761.5,379.3 761.8,379.5 762.0,379.7 762.2,379.6 762.5,379.4 762.8,379.4 763.0,379.2 763.2,379.2 763.5,379.3 763.8,379.3 764.0,379.6 764.2,379.9 764.5,379.5 764.8,379.6 765.0,379.5 765.2,379.4 765.5,379.6 765.8,379.6 766.0,379.4 766.2,379.3 766.5,379.5 766.8,379.2 767.0,379.4 767.2,379.6 767.5,379.3 767.8,378.9 768.0,379.5 768.2,379.0 768.5,379.0 768.8,379.0 769.0,379.5 769.2,378.8 769.5,379.3 769.8,379.4 770.0,379.4 770.2,379.2 770.5,379.3 770.8,379.4 771.0,379.0 771.2,379.5 771.5,379.6 771.8,379.1 772.0,379.2 772.2,379.1 772.5,379.6 772.8,379.1 773.0,379.2 773.2,378.9 773.5,379.7 773.8,379.3 774.0,379.4 774.2,379.7 774.5,379.5 774.8,379.1 775.0,379.5 775.2,379.5 775.5,379.1 775.8,379.1 776.0,379.1 776.2,379.5 776.5,379.4 776.8,379.1 777.0,379.5 777.2,379.5 777.5,379.1 777.8,379.0 778.0,379.6 778.2,380.0 778.5,379.7 778.8,379.6 779.0,379.4 779.2,379.2 779.5,379.4 779.8,379.5 780.0,379.3 780.2,379.6 780.5,379.4 780.8,379.5 781.0,378.7 781.2,379.1 781.5,379.6 781.8,379.6 782.0,379.5 782.2,379.8 782.5,379.5 782.8,379.5 783.0,379.1 783.2,379.5 783.5,379.6 783.8,379.7 784.0,379.6 784.2,379.4 784.5,379.4 784.8,379.1 785.0,379.5 785.2,379.1 785.5,379.3 785.8,379.4 786.0,379.9 786.2,379.7 786.5,379.2 786.8,379.0 787.0,379.3 787.2,379.2 787.5,379.5 787.8,379.5 788.0,379.5 788.2,379.1 788.5,379.3 788.8,379.4 789.0,379.4 789.2,379.2 789.5,379.3 789.8,379.6 790.0,378.9 790.2,379.3 790.5,379.4 790.8,379.0 791.0,379.1 791.2,379.4 791.5,379.2 791.8,379.6 792.0,379.5 792.2,379.9 792.5,379.0 792.8,379.8 793.0,379.1 793.2,379.3 793.5,379.1 793.8,378.6 794.0,378.2 794.2,378.0 794.3,377.7 794.5,378.1 794.8,378.2 795.0,378.9 795.2,378.8 795.5,379.2 795.8,379.4 796.0,379.4 796.2,379.4 796.5,379.3 796.8,379.3 797.0,379.5 797.2,379.6 797.5,379.2 797.8,379.8 798.0,379.5 798.2,379.0 798.5,380.0 798.8,379.5 799.0,379.2 799.2,379.8 799.5,378.7 799.8,380.0 800.0,379.0 800.2,379.0 800.5,379.1 800.8,379.4 801.0,379.3 801.2,379.6 801.5,379.2 801.8,379.7 802.0,379.4 802.2,379.1 802.5,379.7 802.8,379.5 803.0,379.3 803.2,379.7 803.5,379.1 803.8,379.3 804.0,379.8 804.2,379.4 804.5,379.6 804.8,379.5 805.0,379.4 805.2,379.6 805.5,379.1 805.8,379.6 806.0,379.1 806.2,379.4 806.5,379.2 806.8,379.5 807.0,379.5 807.2,379.7 807.5,379.2 807.8,379.2 808.0,378.9 808.2,379.1 808.5,379.3 808.8,379.4 809.0,379.3 809.2,379.4 809.5,379.0 809.8,379.2 810.0,379.6 810.2,379.6 810.5,379.0 810.8,379.3 811.0,379.3 811.2,378.8 811.5,379.0 811.8,378.8 812.0,378.7 812.2,379.0 812.2,378.3 812.5,378.9 812.8,378.9 813.0,379.2 813.2,379.0 813.5,379.3 813.8,379.4 814.0,379.8 814.2,379.4 814.5,379.8 814.8,379.3 815.0,379.3 815.2,379.4 815.5,378.9 815.8,379.3 816.0,379.2 816.2,379.4 816.5,379.4 816.8,379.2 817.0,379.1 817.2,379.7 817.5,379.1 817.8,379.3 818.0,379.2 818.2,379.3 818.5,379.7 818.8,379.7 819.0,379.0 819.2,379.3 819.5,379.7 819.8,379.3 820.0,379.5 820.2,379.9 820.5,380.0 820.8,379.8 821.0,379.3 821.2,379.4 821.5,379.5 821.8,379.3 822.0,379.3 822.2,379.9 822.5,379.5 822.8,379.6 823.0,379.7 823.2,379.5 823.5,379.4 823.8,379.5 824.0,379.8 824.2,379.5 824.5,378.9 824.8,379.7 825.0,379.8 825.2,379.3 825.5,379.3 825.8,379.3 826.0,379.7 826.2,379.2 826.5,379.6 826.8,379.7 827.0,379.6 827.2,379.4 827.5,379.2 827.8,379.3 828.0,379.4 828.2,379.2 828.5,379.4 828.8,379.2 829.0,379.8 829.2,379.8 829.5,379.2 829.8,379.7 830.0,379.5 830.2,379.4 830.5,379.5 830.8,379.5 831.0,379.1 831.2,380.0 831.5,379.2 831.8,378.9 832.0,379.4 832.2,379.4 832.5,379.2 832.8,379.0 833.0,379.7 833.2,379.4 833.5,379.4 833.8,379.2 834.0,379.2 834.2,378.9 834.5,379.0 834.7,378.9 834.8,379.1 835.0,379.1 835.2,379.2 835.5,379.3 835.8,379.6 836.0,379.0 836.2,379.4 836.5,379.8 836.8,379.2 837.0,379.6 837.2,379.3 837.5,379.4 837.8,379.4 838.0,379.4 838.2,379.6 838.5,379.4 838.8,378.9 839.0,380.0 839.2,379.4 839.5,379.3 839.8,379.7 840.0,379.8 840.2,378.9 840.5,379.5 840.8,378.9 841.0,379.3 841.2,379.4 841.5,379.3 841.8,379.3 842.0,379.1 842.2,379.3 842.5,379.4 842.8,379.4 843.0,379.1 843.2,379.2 843.5,379.7 843.8,379.6 844.0,379.3 844.2,379.5 844.5,379.4 844.8,379.4 845.0,379.1 845.2,378.8 845.4,378.7 845.5,378.9 845.8,378.5 846.0,379.2 846.2,378.5 846.5,379.1 846.8,379.3 847.0,379.6 847.2,380.1 847.5,379.5 847.8,379.4 848.0,379.0 848.2,379.8 848.5,379.0 848.8,379.5 849.0,379.3 849.2,380.0 849.5,379.4 849.8,379.5 850.0,379.3 850.2,379.4 850.5,379.7 850.8,379.2 851.0,379.3 851.2,379.3 851.5,379.2 851.8,379.2 852.0,379.4 852.2,379.8 852.5,379.8 852.8,379.1 853.0,379.3 853.2,379.4 853.5,379.5 853.8,379.4 854.0,379.4 854.2,379.5 854.5,379.6 854.8,378.9 855.0,379.4 855.2,379.6 855.5,379.8 855.8,379.6 856.0,379.3 856.2,379.3 856.5,379.5 856.8,379.4 857.0,379.5 857.2,379.7 857.5,379.1 857.8,379.4 858.0,378.9 858.2,379.6 858.5,379.5 858.8,379.2 859.0,379.5 859.2,379.6 859.5,379.3 859.8,378.6 860.0,377.7 860.2,376.4 860.5,374.1 860.8,371.7 861.0,369.5 861.2,367.8 861.5,367.2 861.8,367.6 862.0,369.3 862.2,371.9 862.5,374.3 862.8,376.5 863.0,378.1 863.2,378.9 863.5,378.9 863.8,379.2 864.0,379.0 864.2,379.4 864.5,379.2 864.8,379.1 865.0,379.2 865.2,379.6 865.5,379.5 865.8,379.4 866.0,379.7 866.2,379.3 866.5,379.2 866.8,379.6 867.0,379.0 867.2,379.5 867.5,379.5 867.8,379.5 868.0,379.6 868.2,379.4 868.5,379.5 868.8,379.1 869.0,379.3 869.2,379.3 869.5,379.5 869.8,379.8 870.0,379.5 870.2,379.7 870.5,379.2 870.8,379.5 871.0,379.1 871.2,379.3 871.5,379.3 871.8,379.4 872.0,379.4 872.2,379.3 872.5,379.2 872.8,379.6 873.0,379.3 873.2,378.8 873.5,379.5 873.8,379.5 874.0,379.6 874.2,379.8 874.5,379.2 874.8,379.5 875.0,379.4 875.2,379.0 875.5,378.9 875.8,379.7 876.0,379.2 876.2,379.3 876.5,379.4 876.8,379.4 877.0,379.5 877.2,379.1 877.5,379.3 877.8,379.3 878.0,378.9 878.2,378.6 878.5,378.2 878.8,377.6 879.0,376.8 879.2,377.0 879.2,377.1 879.5,377.6 879.8,378.0 880.0,378.7 880.2,378.9 880.5,379.2 880.8,379.9 881.0,379.4 881.2,379.3 881.5,379.4 881.8,379.7 882.0,379.2 882.2,379.6 882.5,379.8 882.8,379.7 883.0,379.5 883.2,379.2 883.5,379.2 883.8,379.4 884.0,379.8 884.2,379.6 884.5,379.7 884.8,379.5 885.0,379.9 885.2,379.5 885.5,379.3 885.8,379.5 886.0,379.4 886.2,379.7 886.5,379.8 886.8,379.6 887.0,379.2 887.2,379.2 887.5,379.6 887.8,379.2 888.0,379.6 888.2,379.1 888.5,379.4 888.8,379.6 889.0,379.3 889.2,379.7 889.5,379.7 889.8,379.8 890.0,379.4 890.2,379.5 890.5,379.5 890.8,379.6 891.0,379.2 891.2,379.6 891.5,379.7 891.8,379.2 892.0,379.2 892.2,379.4 892.5,379.9 892.8,379.6 893.0,379.3 893.2,379.5 893.5,379.1 893.8,379.8 894.0,379.3 894.2,379.6 894.5,379.2 894.8,379.5 895.0,379.3 895.2,379.6 895.5,379.8 895.8,379.8 896.0,379.6 896.2,379.7 896.5,379.2 896.8,379.2 897.0,379.4 897.2,379.7 897.5,379.5 897.8,379.6 898.0,379.1 898.2,379.2 898.5,378.8 898.8,378.4 899.0,378.0 899.2,377.0 899.5,376.6 899.6,376.2 899.8,376.4 900.0,377.1 900.2,377.8 900.5,378.1 900.8,379.2 901.0,379.5 901.2,379.5 901.5,379.6 901.8,379.6 902.0,379.4 902.2,379.1 902.5,379.9 902.8,379.5 903.0,379.5 903.2,379.5 903.5,379.5 903.8,379.6 904.0,379.3 904.2,379.6 904.5,379.5 904.8,379.5 905.0,379.5 905.2,379.5 905.5,379.3 905.8,379.5 906.0,379.5 906.2,379.5 906.5,379.7 906.8,379.7 907.0,379.7 907.2,379.5 907.5,379.7 907.8,379.7 908.0,379.4 908.2,379.4 908.5,379.9 908.8,379.1 909.0,379.5 909.2,379.5 909.5,379.3 909.8,379.5 910.0,379.6 910.2,379.0 910.5,379.8 910.8,379.5 911.0,379.3 911.2,379.8 911.5,379.5 911.8,379.4 912.0,378.9 912.2,379.7 912.5,379.5 912.8,379.3 913.0,379.5 913.2,379.8 913.5,379.4 913.8,379.5 914.0,379.4 914.2,379.2 914.5,379.3 914.8,379.4 915.0,379.4 915.2,379.8 915.5,379.5 915.8,379.4 916.0,379.6 916.2,379.5 916.5,379.7 916.8,379.1 917.0,379.0 917.2,379.6 917.5,379.4 917.8,379.6 918.0,379.2 918.2,379.4 918.5,379.5 918.8,379.6 919.0,379.5 919.2,379.7 919.5,379.3 919.8,379.7 920.0,379.4 920.2,379.5 920.5,379.2 920.8,379.5 921.0,379.3 921.2,379.7 921.5,379.4 921.8,379.6 922.0,379.5 922.2,379.5 922.5,379.3 922.8,380.0 923.0,379.4 923.2,379.8 923.5,379.2 923.8,380.0 924.0,379.7 924.2,379.9 924.5,379.1 924.8,379.8 925.0,379.5 925.2,379.6 925.5,379.9 925.8,379.6 926.0,379.3 926.2,379.5 926.5,379.3 926.8,379.6 927.0,379.5 927.2,379.6 927.5,379.4 927.8,379.1 928.0,379.4 928.2,379.5 928.5,379.6 928.8,379.7 929.0,379.2 929.2,379.8 929.5,379.7 929.8,379.5 930.0,379.6 930.2,379.0 930.5,380.1 930.8,379.4 931.0,379.3 931.2,379.8 931.5,379.6 931.8,379.3 932.0,379.0 932.2,379.4 932.5,379.3 932.8,378.4 933.0,378.0 933.2,378.4 933.2,378.8 933.5,378.1 933.8,378.8 934.0,378.7 934.2,379.3 934.5,379.5 934.8,379.6 935.0,379.1 935.2,379.2 935.5,380.0 935.8,379.7 936.0,379.1 936.2,379.6 936.5,379.8 936.8,379.5 937.0,379.5 937.2,379.5 937.5,379.6 937.8,379.6 938.0,379.6 938.2,379.4 938.5,379.7 938.8,379.6 939.0,379.5 939.2,379.2 939.5,379.4 939.8,379.5 940.0,379.4 940.2,379.4 940.5,379.2 940.8,379.4 941.0,379.1 941.2,379.2 941.5,379.5 941.8,379.6 942.0,379.3 942.2,379.4 942.5,379.5 942.8,379.8 943.0,379.9 943.2,379.4 943.5,379.3 943.8,379.3 944.0,379.8 944.2,379.3 944.5,379.6 944.8,379.4 945.0,379.4 945.2,379.7 945.5,379.6 945.8,380.0 946.0,379.7 946.2,379.9 946.5,379.4 946.8,379.5 947.0,379.3 947.2,379.4 947.5,379.6 947.8,379.4 948.0,379.6 948.2,379.4 948.5,379.4 948.8,379.7 949.0,379.5 949.2,379.5 949.5,379.6 949.8,379.3 950.0,379.1 950.2,379.6 950.5,379.6 950.8,380.0 951.0,379.5 951.2,379.6 951.5,380.0 951.8,379.4 952.0,379.4 952.2,379.7 952.5,379.6 952.8,379.7 953.0,379.3 953.2,379.9 953.5,379.6 953.8,379.0 954.0,379.5 954.2,379.4 954.5,379.5 954.8,379.8 955.0,379.5 955.2,379.4 955.5,379.7 955.8,379.4 956.0,379.2 956.2,379.2 956.5,379.9 956.8,379.7 957.0,379.9 957.2,379.2 957.5,379.4 957.8,379.3 958.0,379.7 958.2,379.8 958.5,379.5 958.8,379.5 959.0,379.7 959.2,379.5 959.5,379.3 959.8,379.4 960.0,379.7 960.2,380.0 960.5,379.6 960.8,379.5 961.0,379.6 961.2,379.6 961.5,379.7 961.8,379.3 962.0,379.5 962.2,379.5 962.5,379.7 962.8,379.6 963.0,379.5 963.2,379.7 963.5,379.8 963.8,379.6 964.0,379.2 964.2,379.5 964.5,379.2 964.8,379.5 965.0,379.6 965.2,379.8 965.5,379.6 965.8,379.2 966.0,379.4 966.2,379.3 966.5,379.3 966.8,379.5 967.0,379.5 967.2,379.5 967.5,379.3 967.8,379.4 968.0,379.4 968.2,379.5 968.5,379.7 968.8,379.6 969.0,379.7 969.2,379.3 969.5,380.0 969.8,379.6 970.0,378.9 970.2,379.6 970.5,379.8 970.8,379.5 971.0,379.2 971.2,379.5 971.5,379.4 971.8,379.5 972.0,379.6 972.2,378.8 972.5,379.5 972.8,379.6 973.0,379.6 973.2,379.4 973.5,379.4 973.8,379.3 974.0,379.5 974.2,379.8 974.5,379.4 974.8,379.6 975.0,379.6 975.2,379.8 975.5,379.6 975.8,379.7 976.0,379.5 976.2,379.8 976.5,379.5 976.8,379.5 977.0,379.8 977.2,379.6 977.5,379.7 977.8,379.3 978.0,380.1 978.2,379.6 978.5,379.9 978.8,379.6 979.0,379.3 979.2,379.6 979.5,379.5 979.8,379.7 980.0,379.0 980.2,379.3 980.5,379.2 980.8,379.8 981.0,379.8 981.2,379.2 981.5,379.5 981.8,379.6 982.0,379.4 982.2,379.8 982.5,379.3 982.8,379.5 983.0,379.4 983.2,379.7 983.5,379.4 983.8,379.7 984.0,379.3 984.2,379.2 984.5,379.3 984.8,379.4 985.0,379.4 985.2,380.1 985.5,379.3 985.8,379.6 986.0,379.5 986.2,379.6 986.5,379.8 986.8,379.6 987.0,379.3 987.2,379.2 987.5,379.6 987.8,379.7 988.0,379.2 988.2,379.7 988.5,379.0 988.8,379.5 989.0,379.7 989.2,379.3 989.5,379.1 989.8,379.8 990.0,379.1 990.2,379.6 990.5,379.2 990.8,379.6 991.0,379.9 991.2,379.4 991.5,379.3 991.8,379.0 992.0,379.1 992.2,379.3 992.5,379.6 992.8,379.6 993.0,379.6 993.2,379.7 993.5,379.6 993.8,380.1 994.0,379.5 994.2,379.5 994.5,378.9 994.8,379.3 995.0,379.6 995.2,379.4 995.5,379.8 995.8,379.6 996.0,379.9 996.2,379.2 996.5,379.4 996.8,379.8 997.0,379.5 997.2,379.3 997.5,379.4 997.8,379.4 998.0,379.7 998.2,379.6 998.5,379.5 998.8,379.2 999.0,379.5 999.2,379.5 999.5,378.9 999.7,379.3 999.8,378.9 1000.0,379.1 1000.2,379.1 1000.5,379.0 1000.8,379.3 1001.0,379.3 1001.2,379.7 1001.5,379.7 1001.8,379.3 1002.0,379.1 1002.2,379.2 1002.5,379.0 1002.8,379.4 1003.0,379.5 1003.2,379.3 1003.5,379.5 1003.8,379.5 1004.0,379.7 1004.2,379.3 1004.5,379.8 1004.8,379.4 1005.0,379.8 1005.2,379.2 1005.5,379.7 1005.8,379.3 1006.0,379.9 1006.2,379.6 1006.5,379.2 1006.8,379.7 1007.0,379.5 1007.2,379.6 1007.5,380.0 1007.8,379.4 1008.0,379.4 1008.2,379.8 1008.5,379.4 1008.8,379.7 1009.0,379.7 1009.2,379.5 1009.5,379.7 1009.8,379.0 1010.0,379.9 1010.2,379.3 1010.5,379.3 1010.8,380.0 1011.0,379.9 1011.2,379.4 1011.5,379.6 1011.8,379.4 1012.0,379.2 1012.2,379.6 1012.5,379.7 1012.8,380.1 1013.0,379.5 1013.2,379.7 1013.5,379.4 1013.8,379.4 1014.0,379.8 1014.2,379.1 1014.5,379.2 1014.8,379.3 1015.0,379.8 1015.2,379.6 1015.5,379.6 1015.8,379.6 1016.0,379.8 1016.2,379.4 1016.5,379.4 1016.8,379.4 1017.0,379.6 1017.2,379.2 1017.5,379.5 1017.8,380.1 1018.0,379.6 1018.2,379.5 1018.5,379.3 1018.8,379.6 1019.0,379.6 1019.2,379.7 1019.5,379.3 1019.8,379.6 1020.0,379.6 1020.2,379.7 1020.5,379.4 1020.8,379.6 1021.0,379.9 1021.2,379.4 1021.5,379.7 1021.8,379.4 1022.0,379.4 1022.2,379.2 1022.5,379.3 1022.8,379.6 1023.0,379.5 1023.2,379.8 1023.5,379.1 1023.8,379.4 1024.0,379.2 1024.2,379.6 1024.5,380.0 1024.8,379.1 1025.0,379.5 1025.2,379.5 1025.5,379.5 1025.8,379.3 1026.0,379.4 1026.2,379.9 1026.5,379.2 1026.8,379.6 1027.0,379.6 1027.2,379.1 1027.5,379.2 1027.8,379.5 1028.0,379.7 1028.2,378.9 1028.5,378.3 1028.8,377.7 1029.0,376.9 1029.2,375.6 1029.5,374.7 1029.8,373.7 1029.9,373.5 1030.0,373.5 1030.2,374.5 1030.5,375.4 1030.8,376.5 1031.0,377.9 1031.2,378.7 1031.5,378.9 1031.8,379.6 1032.0,379.7 1032.2,380.0 1032.5,380.0 1032.8,380.3 1033.0,380.1 1033.2,379.9 1033.5,379.8 1033.8,379.9 1034.0,380.0 1034.2,380.1 1034.5,380.2 1034.8,380.1 1035.0,380.0 1035.2,380.2 1035.5,380.0 1035.8,380.3 1036.0,380.4 1036.2,380.3 1036.5,380.4 1036.8,380.3 1037.0,379.9 1037.2,380.1 1037.5,380.1 1037.8,379.9 1038.0,379.9 1038.2,380.2 1038.5,379.9 1038.8,380.0 1039.0,380.1 1039.2,380.0 1039.5,380.3 1039.8,380.2 1040.0,380.1 1040.2,380.0 1040.5,380.2 1040.8,380.1 1041.0,379.9 1041.2,379.9 1041.5,380.0 1041.8,379.9 1042.0,380.2 1042.2,380.1 1042.5,380.0 1042.8,380.1 1043.0,380.2 1043.2,379.8 1043.5,380.1 1043.8,380.3 1044.0,380.0 1044.2,379.8 1044.5,380.1 1044.8,379.9 1045.0,380.2 1045.2,380.2 1045.5,380.2 1045.8,380.1 1046.0,379.8 1046.2,380.3 1046.5,379.8 1046.8,380.3 1047.0,380.1 1047.2,380.0 1047.5,380.0 1047.8,380.1 1048.0,380.4 1048.2,380.0 1048.5,380.3 1048.8,379.7 1049.0,380.1 1049.2,380.1 1049.5,380.3 1049.8,380.2 1050.0,380.3 1050.2,379.9 1050.5,380.1 1050.8,380.0 1051.0,380.2 1051.2,380.2 1051.5,379.9 1051.8,380.3 1052.0,380.4 1052.2,380.0 1052.5,380.3 1052.8,380.2 1053.0,380.0 1053.2,380.2 1053.5,380.0 1053.8,380.2 1054.0,379.9 1054.2,379.9 1054.5,380.2 1054.8,380.1 1055.0,380.2 1055.2,380.1 1055.5,379.9 1055.8,380.3 1056.0,380.0 1056.2,380.3 1056.5,380.2 1056.8,380.4 1057.0,379.8 1057.2,380.1 1057.5,380.1 1057.8,380.2 1058.0,379.9 1058.2,380.4 1058.5,380.1 1058.8,379.7 1059.0,380.2 1059.2,380.1 1059.5,380.0 1059.8,380.2 1060.0,380.1 1060.2,379.9 1060.5,380.1 1060.8,380.0 1061.0,380.2 1061.2,380.0 1061.5,380.1 1061.8,379.9 1062.0,380.0 1062.2,380.1 1062.5,380.5 1062.8,380.0 1063.0,380.0 1063.2,380.2 1063.5,380.4 1063.8,380.3 1064.0,380.0 1064.2,380.3 1064.5,380.2 1064.8,380.1 1065.0,379.9 1065.2,380.1 1065.5,380.1 1065.8,380.2 1066.0,379.8 1066.2,379.9 1066.5,380.1 1066.8,380.3 1067.0,380.2 1067.2,380.0 1067.5,380.2 1067.8,380.0 1068.0,380.0 1068.2,380.1 1068.5,380.0 1068.8,380.0 1069.0,380.2 1069.2,380.2 1069.5,379.7 1069.8,380.3 1070.0,380.2 1070.2,379.9 1070.5,380.1 1070.8,380.2 1071.0,380.3 1071.2,380.0 1071.5,379.9 1071.8,379.9 1072.0,380.1 1072.2,379.9 1072.5,380.3 1072.8,380.1 1073.0,380.2 1073.2,380.1 1073.5,380.0 1073.8,379.9 1074.0,380.3 1074.2,379.9 1074.5,380.2 1074.8,380.3 1075.0,380.1 1075.2,380.3 1075.5,380.1 1075.8,380.1 1076.0,380.1 1076.2,380.0 1076.5,380.2 1076.8,380.1 1077.0,380.3 1077.2,380.1 1077.5,380.2 1077.8,380.2 1078.0,380.1 1078.2,380.1 1078.5,380.4 1078.8,380.4 1079.0,380.1 1079.2,380.0 1079.5,380.0 1079.8,380.0 1080.0,379.9 1080.2,380.0 1080.5,380.1 1080.8,380.3 1081.0,380.3 1081.2,380.2 1081.5,380.1 1081.8,380.1 1082.0,380.1 1082.2,380.1 1082.5,380.0 1082.8,380.1 1083.0,380.1 1083.2,380.1 1083.5,380.2 1083.8,380.3 1084.0,380.0 1084.2,380.0 1084.5,380.1 1084.8,380.2 1085.0,379.7 1085.2,380.2 1085.5,380.1 1085.8,380.1 1086.0,380.3 1086.2,380.1 1086.5,379.8 1086.8,380.0 1087.0,380.0 1087.2,380.0 1087.5,380.1 1087.8,379.9 1088.0,380.1 1088.2,380.2 1088.5,380.1 1088.8,380.0 1089.0,380.0 1089.2,380.0 1089.5,380.4 1089.8,379.9 1090.0,379.7 1090.2,379.9 1090.5,380.2 1090.8,380.2 1091.0,380.1 1091.2,380.3 1091.5,380.0 1091.8,380.2 1092.0,379.9 1092.2,379.9 1092.5,380.4 1092.8,380.1 1093.0,380.2 1093.2,380.3 1093.5,380.2 1093.8,380.1 1094.0,379.9 1094.2,380.3 1094.5,379.9 1094.8,379.8 1095.0,380.0 1095.2,380.0 1095.5,380.1 1095.8,380.3 1096.0,380.0 1096.2,380.0 1096.5,380.0 1096.8,379.7 1097.0,380.0 1097.2,380.0 1097.5,379.8 1097.8,380.3 1098.0,380.3 1098.2,380.2 1098.5,380.2 1098.8,380.0 1099.0,380.2 1099.2,379.8 1099.5,379.9 1099.8,380.0 1100.0,380.2 1100.2,380.0 1100.5,380.0 1100.8,380.3 1101.0,380.0 1101.2,380.0 1101.5,380.1 1101.8,379.8 1102.0,379.9 1102.2,380.2 1102.5,380.1 1102.8,380.2 1103.0,380.0 1103.2,380.2 1103.5,380.0 1103.8,380.0 1104.0,379.9 1104.2,380.1 1104.5,380.3 1104.8,379.8 1105.0,380.1 1105.2,379.9 1105.5,380.0 1105.8,380.0 1106.0,379.8 1106.2,380.0 1106.5,379.9 1106.8,380.3 1107.0,380.0 1107.2,380.1 1107.5,380.1 1107.8,380.1 1108.0,380.0 1108.2,379.8 1108.5,380.4 1108.8,380.1 1109.0,380.2 1109.2,379.9 1109.5,380.2 1109.8,380.0 1110.0,380.2 1110.2,380.0 1110.5,379.9 1110.8,380.2 1111.0,380.1 1111.2,380.3 1111.5,380.1 1111.8,380.0 1112.0,380.2 1112.2,379.9 1112.5,380.4 1112.8,380.4 1113.0,380.3 1113.2,380.2 1113.5,380.1 1113.8,380.1 1114.0,380.1 1114.2,380.0 1114.5,380.2 1114.8,380.3 1115.0,380.3 1115.2,379.8 1115.5,380.5 1115.8,380.1 1116.0,379.9 1116.2,380.0 1116.5,380.2 1116.8,380.1 1117.0,380.0 1117.2,380.0 1117.5,380.3 1117.8,380.1 1118.0,380.2 1118.2,380.2 1118.5,380.2 1118.8,380.4 1119.0,380.6 1119.2,380.4 1119.5,380.3 1119.8,380.4 1120.0,380.4 1120.2,380.2 1120.5,380.5 1120.8,380.4 1121.0,380.5 1121.2,380.4 1121.5,380.4 1121.8,380.3 1122.0,380.5 1122.2,380.5 1122.5,380.6 1122.8,380.4 1123.0,380.5 1123.2,380.4 1123.5,380.6 1123.8,380.5 1124.0,380.4 1124.2,380.5 1124.5,380.4 1124.8,380.4 1125.0,380.5 1125.2,380.6 1125.5,380.4 1125.8,380.4 1126.0,380.4 1126.2,380.6 1126.5,380.6 1126.8,380.6 1127.0,380.5 1127.2,380.4 1127.5,380.4 1127.8,380.5 1128.0,380.4 1128.2,380.4 1128.5,380.5 1128.8,380.4 1129.0,380.4 1129.2,380.6 1129.5,380.5 1129.8,380.3 1130.0,380.5 1130.2,380.5 1130.5,380.5 1130.8,380.5 1131.0,380.3 1131.2,380.5 1131.5,380.5 1131.8,380.6 1132.0,380.5 1132.2,380.6 1132.5,380.6 1132.8,380.4 1133.0,380.4 1133.2,380.6 1133.5,380.4 1133.8,380.4 1134.0,380.5 1134.2,380.4 1134.5,380.6 1134.8,380.6 1135.0,380.6 1135.2,380.6 1135.5,380.4 1135.8,380.6 1136.0,380.6 1136.2,380.5 1136.5,380.4 1136.8,380.5 1137.0,380.4 1137.2,380.5 1137.5,380.6 1137.8,380.5 1138.0,380.4 1138.2,380.5 1138.5,380.4 1138.8,380.3 1139.0,380.5 1139.2,380.4 1139.5,380.3 1139.8,380.5 1140.0,380.5 1140.2,380.6 1140.5,380.4 1140.8,380.4 1141.0,380.5 1141.2,380.4 1141.5,380.3 1141.8,380.4 1142.0,380.6 1142.2,380.5 1142.5,380.4 1142.8,380.4 1143.0,380.5 1143.2,380.5 1143.5,380.5 1143.8,380.6 1144.0,380.5 1144.2,380.5 1144.5,380.4 1144.8,380.5 1145.0,380.5 1145.2,380.5 1145.5,380.6 1145.8,380.4 1146.0,380.5 1146.2,380.4 1146.5,380.6 1146.8,380.4 1147.0,380.6 1147.2,380.5 1147.5,380.5 1147.8,380.4 1148.0,380.4 1148.2,380.5 1148.5,380.4 1148.8,380.4 1149.0,380.4 1149.2,380.4 1149.5,380.5 1149.8,380.5 1150.0,380.4 1150.2,380.5 1150.5,380.4 1150.8,380.4 1151.0,380.4 1151.2,380.5 1151.5,380.6 1151.8,380.5 1152.0,380.5 1152.2,380.4 1152.5,380.5 1152.8,380.5 1153.0,380.4 1153.2,380.5 1153.5,380.5 1153.8,380.3 1154.0,380.3 1154.2,380.4 1154.5,380.4 1154.8,380.5 1155.0,380.4 1155.2,380.5 1155.5,380.4 1155.8,380.5 1156.0,380.5 1156.2,380.5 1156.5,380.4 1156.8,380.3 1157.0,380.4 1157.2,380.6 1157.5,380.5 1157.8,380.6 1158.0,380.5 1158.2,380.4 1158.5,380.4 1158.8,380.5 1159.0,380.4 1159.2,380.5 1159.5,380.6 1159.8,380.6 1160.0,380.5 1160.2,380.3 1160.5,380.6 1160.8,380.3 1161.0,380.3 1161.2,380.5 1161.5,380.5 1161.8,380.5 1162.0,380.5 1162.2,380.4 1162.5,380.5 1162.8,380.4 1163.0,380.3 1163.2,380.4 1163.5,380.4 1163.8,380.5 1164.0,380.4 1164.2,380.6 1164.5,380.4 1164.8,380.4 1165.0,380.5 1165.2,380.3 1165.5,380.5 1165.8,380.5 1166.0,380.4 1166.2,380.6 1166.5,380.5 1166.8,380.6 1167.0,380.5 1167.2,380.5 1167.5,380.4 1167.8,380.4 1168.0,380.4 1168.2,380.3 1168.5,380.4 1168.8,380.5 1169.0,380.4 1169.2,380.5 1169.5,380.5 1169.8,380.3 1170.0,380.4 1170.2,380.4 1170.5,380.4 1170.8,380.4 1171.0,380.6 1171.2,380.5 1171.5,380.6 1171.8,380.4 1172.0,380.5 1172.2,380.3 1172.5,380.4 1172.8,380.5 1173.0,380.5 1173.2,380.6 1173.5,380.5 1173.8,380.4 1174.0,380.4 1174.2,380.6 1174.5,380.5 1174.8,380.4 1175.0,380.4 1175.2,380.4 1175.5,380.6 1175.8,380.4 1176.0,380.5 1176.2,380.4 1176.5,380.4 1176.8,380.4 1177.0,380.5 1177.2,380.4 1177.5,380.6 1177.8,380.6 1178.0,380.4 1178.2,380.5 1178.5,380.6 1178.8,380.5 1179.0,380.5 1179.2,380.3 1179.5,380.4 1179.8,380.4 1180.0,380.6 1180.2,380.5 1180.5,380.4 1180.8,380.4 1181.0,380.4 1181.2,380.5 1181.5,380.3 1181.8,380.3 1182.0,380.5 1182.2,380.6 1182.5,380.3 1182.8,380.5 1183.0,380.4 1183.2,380.3 1183.5,380.5 1183.8,380.4 1184.0,380.5 1184.2,380.4 1184.5,380.4 1184.8,380.3 1185.0,380.4 1185.2,380.5 1185.5,380.4 1185.8,380.5 1186.0,380.5 1186.2,380.3 1186.5,380.5 1186.8,380.5 1187.0,380.5 1187.2,380.6 1187.5,380.6 1187.8,380.4 1188.0,380.5 1188.2,380.5 1188.5,380.5 1188.8,380.6 1189.0,380.6 1189.2,380.4 1189.5,380.2 1189.8,380.4 1190.0,380.4 1190.2,380.6 1190.5,380.5 1190.8,380.6 1191.0,380.4 1191.2,380.5 1191.5,380.5 1191.8,380.5 1192.0,380.5 1192.2,380.6 1192.5,380.4 1192.8,380.6 1193.0,380.6 1193.2,380.5 1193.5,380.5 1193.8,380.4 1194.0,380.4 1194.2,380.4 1194.5,380.4 1194.8,380.5 1195.0,380.4 1195.2,380.6 1195.5,380.4 1195.8,380.5 1196.0,380.6 1196.2,380.5 1196.5,380.5 1196.8,380.4 1197.0,380.4 1197.2,380.6 1197.5,380.5 1197.8,380.3 1198.0,380.4 1198.2,380.3 1198.5,380.5 1198.8,380.6 1199.0,380.6 1199.2,380.4 1199.5,380.4 1199.8,380.5 1200.0,380.5 1200.2,380.4 1200.5,380.6 1200.8,380.5 1201.0,380.3 1201.2,380.3 1201.5,380.5 1201.8,380.3 1202.0,380.5 1202.2,380.5 1202.5,380.6 1202.8,380.4 1203.0,380.5 1203.2,380.2 1203.5,380.4 1203.8,380.4 1204.0,380.6 1204.2,380.3 1204.5,380.5 1204.8,380.5 1205.0,380.6 1205.2,380.4 1205.5,380.4 1205.8,380.5 1206.0,380.5 1206.2,380.4 1206.5,380.4 1206.8,380.5 1207.0,380.3 1207.2,380.5 1207.5,380.5 1207.8,380.5 1208.0,380.6 1208.2,380.5 1208.5,380.4 1208.8,380.4 1209.0,380.5 1209.2,380.4 1209.5,380.6 1209.8,380.5 1210.0,380.4 1210.2,380.4 1210.5,380.5 1210.8,380.4 1211.0,380.3 1211.2,380.5 1211.5,380.4 1211.8,380.6 1212.0,380.6 1212.2,380.4 1212.5,380.5 1212.8,380.4 1213.0,380.5 1213.2,380.5 1213.5,380.4 1213.8,380.3 1214.0,380.5 1214.2,380.6 1214.5,380.3 1214.8,380.4 1215.0,380.4 1215.2,380.4 1215.5,380.2 1215.8,380.5 1216.0,380.4 1216.2,380.6 1216.5,380.5 1216.8,380.4 1217.0,380.2 1217.2,379.8 1217.5,379.0 1217.8,377.3 1218.0,375.1 1218.2,371.6 1218.5,367.1 1218.8,362.5 1219.0,358.2 1219.2,355.7 1219.4,355.3 1219.5,355.3 1219.8,357.6 1220.0,361.4 1220.2,366.2 1220.5,370.8 1220.8,374.5 1221.0,377.1 1221.2,378.8 1221.5,379.6 1221.8,380.3 1222.0,380.4 1222.2,380.6 1222.5,380.3 1222.8,380.5 1223.0,380.5 1223.2,380.6 1223.5,380.4 1223.8,380.5 1224.0,380.4 1224.2,380.6 1224.5,380.4 1224.8,380.4 1225.0,380.4 1225.2,380.3 1225.5,380.5 1225.8,380.5 1226.0,380.4 1226.2,380.4 1226.5,380.5 1226.8,380.5 1227.0,380.5 1227.2,380.4 1227.5,380.4 1227.8,380.5 1228.0,380.3 1228.2,380.6 1228.5,380.5 1228.8,380.3 1229.0,380.5 1229.2,380.6 1229.5,380.3 1229.8,380.4 1230.0,380.6 1230.2,380.4 1230.5,380.6 1230.8,380.6 1231.0,380.5 1231.2,380.5 1231.5,380.6 1231.8,380.5 1232.0,380.6 1232.2,380.5 1232.5,380.5 1232.8,380.4 1233.0,380.5 1233.2,380.6 1233.5,380.6 1233.8,380.5 1234.0,380.3 1234.2,380.4 1234.5,380.5 1234.8,380.4 1235.0,380.6 1235.2,380.4 1235.5,380.5 1235.8,380.4 1236.0,380.4 1236.2,380.5 1236.5,380.4 1236.8,380.6 1237.0,380.5 1237.2,380.4 1237.5,380.1 1237.8,380.4 1238.0,380.5 1238.2,380.6 1238.5,380.4 1238.8,380.6 1239.0,380.5 1239.2,380.4 1239.5,380.6 1239.8,380.3 1240.0,380.4 1240.2,380.5 1240.5,380.5 1240.8,380.6 1241.0,380.6 1241.2,380.4 1241.5,380.4 1241.8,380.4 1242.0,380.4 1242.2,380.5 1242.5,380.4 1242.8,380.6 1243.0,380.5 1243.2,380.3 1243.5,380.3 1243.8,380.5 1244.0,380.5 1244.2,380.3 1244.5,380.3 1244.8,380.6 1245.0,380.5 1245.2,380.4 1245.5,380.4 1245.8,380.5 1246.0,380.4 1246.2,380.5 1246.5,380.2 1246.8,380.4 1247.0,380.5 1247.2,380.5 1247.5,380.4 1247.8,380.4 1248.0,380.6 1248.2,380.4 1248.5,380.6 1248.8,380.5 1249.0,380.6 1249.2,380.6 1249.5,380.5 1249.8,380.6 1250.0,380.4 1250.2,380.4 1250.5,380.5 1250.8,380.6 1251.0,380.4 1251.2,380.6 1251.5,380.6 1251.8,380.4 1252.0,380.4 1252.2,380.4 1252.5,380.5 1252.8,380.5 1253.0,380.3 1253.2,380.0 1253.5,379.6 1253.8,378.9 1254.0,378.0 1254.2,377.2 1254.5,376.7 1254.8,377.1 1255.0,378.0 1255.2,378.9 1255.5,379.6 1255.8,380.0 1256.0,380.4 1256.2,380.4 1256.5,380.6 1256.8,380.6 1257.0,380.4 1257.2,380.4 1257.5,380.6 1257.8,380.5 1258.0,380.4 1258.2,380.5 1258.5,380.5 1258.8,380.4 1259.0,380.4 1259.2,380.4 1259.5,380.4 1259.8,380.5 1260.0,380.5 1260.2,380.5 1260.5,380.6 1260.8,380.6 1261.0,380.4 1261.2,380.6 1261.5,380.4 1261.8,380.4 1262.0,380.5 1262.2,380.4 1262.5,380.4 1262.8,380.4 1263.0,380.5 1263.2,380.5 1263.5,380.5 1263.8,380.3 1264.0,380.4 1264.2,380.5 1264.5,380.5 1264.8,380.5 1265.0,380.5 1265.2,380.4 1265.5,380.3 1265.8,380.6 1266.0,380.4 1266.2,380.4 1266.5,380.5 1266.8,380.5 1267.0,380.5 1267.2,380.5 1267.5,380.4 1267.8,380.6 1268.0,380.3 1268.2,380.5 1268.5,380.3 1268.8,380.4 1269.0,380.4 1269.2,380.4 1269.5,380.4 1269.8,380.5 1270.0,380.5 1270.2,380.4 1270.5,380.4 1270.8,380.3 1271.0,380.6 1271.2,380.5 1271.5,380.4 1271.8,380.6 1272.0,380.5 1272.2,380.3 1272.5,380.3 1272.8,380.5 1273.0,380.3 1273.2,380.4 1273.5,380.4 1273.8,380.4 1274.0,380.4 1274.2,380.5 1274.5,380.5 1274.8,380.4 1275.0,380.5 1275.2,380.3 1275.5,380.5 1275.8,380.6 1276.0,380.5 1276.2,380.4 1276.5,380.4 1276.8,380.5 1277.0,380.5 1277.2,380.3 1277.5,380.5 1277.8,380.4 1278.0,380.5 1278.2,380.6 1278.5,380.3 1278.8,380.6 1279.0,380.5 1279.2,380.4 1279.5,380.5 1279.8,380.4 1280.0,380.5 1280.2,380.5 1280.5,380.2 1280.8,380.3 1281.0,380.1 1281.2,379.9 1281.5,379.6 1281.8,379.2 1282.0,379.1 1282.2,379.2 1282.5,379.6 1282.8,379.8 1283.0,380.3 1283.2,380.3 1283.5,380.4 1283.8,380.5 1284.0,380.4 1284.2,380.5 1284.5,380.5 1284.8,380.3 1285.0,380.4 1285.2,380.4 1285.5,380.5 1285.8,380.4 1286.0,380.4 1286.2,380.4 1286.5,380.3 1286.8,380.5 1287.0,380.4 1287.2,380.5 1287.5,380.6 1287.8,380.6 1288.0,380.5 1288.2,380.4 1288.5,380.5 1288.8,380.4 1289.0,380.3 1289.2,380.5 1289.5,380.3 1289.8,380.3 1290.0,380.4 1290.2,380.6 1290.5,380.3 1290.8,380.5 1291.0,380.5 1291.2,380.5 1291.5,380.5 1291.8,380.4 1292.0,380.4 1292.2,380.4 1292.5,380.4 1292.8,380.5 1293.0,380.5 1293.2,380.4 1293.5,380.5 1293.8,380.2 1294.0,380.5 1294.2,380.5 1294.5,380.4 1294.8,380.4 1295.0,380.5 1295.2,380.5 1295.5,380.4 1295.8,380.4 1296.0,380.4 1296.2,380.5 1296.5,380.4 1296.8,380.4 1297.0,380.4 1297.2,380.6 1297.5,380.5 1297.8,380.5 1298.0,380.5 1298.2,380.4 1298.5,380.4 1298.8,380.4 1299.0,380.5 1299.2,380.5 1299.5,380.3 1299.8,380.5 1300.0,380.4 1300.2,380.3 1300.5,380.4 1300.8,380.6 1301.0,380.4 1301.2,380.5 1301.5,380.5 1301.8,380.4 1302.0,380.4 1302.2,380.5 1302.5,380.4 1302.8,380.4 1303.0,380.5 1303.2,380.4 1303.5,380.4 1303.8,380.5 1304.0,380.5 1304.2,380.5 1304.5,380.5 1304.8,380.6 1305.0,380.3 1305.2,380.5 1305.5,380.5 1305.8,380.5 1306.0,380.5 1306.2,380.4 1306.5,380.4 1306.8,380.4 1307.0,380.1 1307.2,380.0 1307.5,379.5 1307.8,379.6 1308.0,379.4 1308.2,379.3 1308.5,379.7 1308.8,380.0 1309.0,380.1 1309.2,380.4 1309.5,380.4 1309.8,380.6 1310.0,380.5 1310.2,380.5 1310.5,380.4 1310.8,380.4 1311.0,380.5 1311.2,380.3 1311.5,380.5 1311.8,380.6 1312.0,380.6 1312.2,380.3 1312.5,380.5 1312.8,380.5 1313.0,380.5 1313.2,380.6 1313.5,380.3 1313.8,380.5 1314.0,380.3 1314.2,380.5 1314.5,380.6 1314.8,380.4 1315.0,380.5 1315.2,380.5 1315.5,380.3 1315.8,380.5 1316.0,380.4 1316.2,380.5 1316.5,380.5 1316.8,380.4 1317.0,380.5 1317.2,380.4 1317.5,380.4 1317.8,380.5 1318.0,380.4 1318.2,380.4 1318.5,380.5 1318.8,380.4 1319.0,380.5 1319.2,380.4 1319.5,380.6 1319.8,380.5 1320.0,380.4 1320.2,380.5 1320.5,380.5 1320.8,380.5 1321.0,380.4 1321.2,380.5 1321.5,380.4 1321.8,380.3 1322.0,380.4 1322.2,380.6 1322.5,380.5 1322.8,380.4 1323.0,380.5 1323.2,380.4 1323.5,380.4 1323.8,380.4 1324.0,380.5 1324.2,380.5 1324.5,380.5 1324.8,380.5 1325.0,380.4 1325.2,380.4 1325.5,380.5 1325.8,380.5 1326.0,380.4 1326.2,380.6 1326.5,380.5 1326.8,380.5 1327.0,380.5 1327.2,380.5 1327.5,380.5 1327.8,380.5 1328.0,380.4 1328.2,380.4 1328.5,380.6 1328.8,380.5 1329.0,380.6 1329.2,380.3 1329.5,380.5 1329.8,380.5 1330.0,380.5 1330.2,380.5 1330.5,380.5 1330.8,380.3 1331.0,380.4 1331.2,380.4 1331.5,380.4 1331.8,380.6 1332.0,380.3 1332.2,380.4 1332.5,380.4 1332.8,380.5 1333.0,380.4 1333.2,380.4 1333.5,380.5 1333.8,380.3 1334.0,380.4 1334.2,380.5 1334.5,380.4 1334.8,380.4 1335.0,380.4 1335.2,380.4 1335.5,380.4 1335.8,380.3 1336.0,380.6 1336.2,380.5 1336.5,380.5 1336.8,380.4 1337.0,380.2 1337.2,380.1 1337.5,379.9 1337.8,379.2 1338.0,378.2 1338.2,377.1 1338.5,375.6 1338.8,374.1 1339.0,373.0 1339.2,372.1 1339.4,372.0 1339.5,372.0 1339.8,372.8 1340.0,373.9 1340.2,375.4 1340.5,376.8 1340.8,378.1 1341.0,379.0 1341.2,379.5 1341.5,379.9 1341.8,380.3 1342.0,380.4 1342.2,380.3 1342.5,380.5 1342.8,380.3 1343.0,380.3 1343.2,380.5 1343.5,380.5 1343.8,380.5 1344.0,380.5 1344.2,380.6 1344.5,380.5 1344.8,380.4 1345.0,380.5 1345.2,380.5 1345.5,380.5 1345.8,380.6 1346.0,380.3 1346.2,380.6 1346.5,380.5 1346.8,380.4 1347.0,380.6 1347.2,380.4 1347.5,380.4 1347.8,380.5 1348.0,380.4 1348.2,380.6 1348.5,380.4 1348.8,380.5 1349.0,380.4 1349.2,380.3 1349.5,380.4 1349.8,380.3 1350.0,380.4 1350.2,380.6 1350.5,380.4 1350.8,380.4 1351.0,380.6 1351.2,380.3 1351.5,380.5 1351.8,380.4 1352.0,380.5 1352.2,380.5 1352.5,380.4 1352.8,380.5 1353.0,380.5 1353.2,380.6 1353.5,380.3 1353.8,380.6 1354.0,380.6 1354.2,380.6 1354.5,380.5 1354.8,380.4 1355.0,380.5 1355.2,380.4 1355.5,380.6 1355.8,380.3 1356.0,380.4 1356.2,380.3 1356.5,380.6 1356.8,380.4 1357.0,380.6 1357.2,380.4 1357.5,380.4 1357.8,380.6 1358.0,380.6 1358.2,380.6 1358.5,380.6 1358.8,380.5 1359.0,380.6 1359.2,380.6 1359.5,380.5 1359.8,380.4 1360.0,380.6 1360.2,380.5 1360.5,380.5 1360.8,380.5 1361.0,380.5 1361.2,380.4 1361.5,380.4 1361.8,380.4 1362.0,380.5 1362.2,380.3 1362.5,380.3 1362.8,380.5 1363.0,380.5 1363.2,380.4 1363.5,380.5 1363.8,380.4 1364.0,380.5 1364.2,380.5 1364.5,380.5 1364.8,380.6 1365.0,380.5 1365.2,380.6 1365.5,380.3 1365.8,380.3 1366.0,380.4 1366.2,380.4 1366.5,380.4 1366.8,380.4 1367.0,380.4 1367.2,380.4 1367.5,380.5 1367.8,380.4 1368.0,380.5 1368.2,380.6 1368.5,380.6 1368.8,380.4 1369.0,380.4 1369.2,380.6 1369.5,380.3 1369.8,380.3 1370.0,380.5 1370.2,380.5 1370.5,380.5 1370.8,380.4 1371.0,380.5 1371.2,380.6 1371.5,380.4 1371.8,380.6 1372.0,380.5 1372.2,380.4 1372.5,380.4 1372.8,380.4 1373.0,380.4 1373.2,380.4 1373.5,380.5 1373.8,380.5 1374.0,380.5 1374.2,380.5 1374.5,380.4 1374.8,380.3 1375.0,380.4 1375.2,380.5 1375.5,380.5 1375.8,380.5 1376.0,380.3 1376.2,380.4 1376.5,380.5 1376.8,380.5 1377.0,380.4 1377.2,380.4 1377.5,380.5 1377.8,380.5 1378.0,380.3 1378.2,380.5 1378.5,380.3 1378.8,380.4 1379.0,380.5 1379.2,380.4 1379.5,380.5 1379.8,380.5 1380.0,380.5 1380.2,380.5 1380.5,380.4 1380.8,380.5 1381.0,380.4 1381.2,380.3 1381.5,380.6 1381.8,380.1 1382.0,379.9 1382.2,379.2 1382.5,378.8 1382.8,378.4 1382.9,378.2 1383.0,378.5 1383.2,378.6 1383.5,379.2 1383.8,379.8 1384.0,380.0 1384.2,380.3 1384.5,380.5 1384.8,380.5 1385.0,380.2 1385.2,380.5 1385.5,380.6 1385.8,380.6 1386.0,380.5 1386.2,380.5 1386.5,380.5 1386.8,380.6 1387.0,380.4 1387.2,380.5 1387.5,380.6 1387.8,380.5 1388.0,380.5 1388.2,380.4 1388.5,380.4 1388.8,380.5 1389.0,380.5 1389.2,380.5 1389.5,380.3 1389.8,380.5 1390.0,380.4 1390.2,380.4 1390.5,380.6 1390.8,380.5 1391.0,380.5 1391.2,380.5 1391.5,380.4 1391.8,380.4 1392.0,380.4 1392.2,380.5 1392.5,380.5 1392.8,380.3 1393.0,380.6 1393.2,380.5 1393.5,380.4 1393.8,380.5 1394.0,380.4 1394.2,380.5 1394.5,380.4 1394.8,380.4 1395.0,380.5 1395.2,380.5 1395.5,380.5 1395.8,380.5 1396.0,380.5 1396.2,380.6 1396.5,380.4 1396.8,380.3 1397.0,380.3 1397.2,380.4 1397.5,380.6 1397.8,380.3 1398.0,380.5 1398.2,380.5 1398.5,380.3 1398.8,380.6 1399.0,380.4 1399.2,380.4 1399.5,380.5 1399.8,380.5 1400.0,380.4 1400.2,380.5 1400.5,380.4 1400.8,380.4 1401.0,380.6 1401.2,380.5 1401.5,380.5 1401.8,380.6 1402.0,380.6 1402.2,380.5 1402.5,380.5 1402.8,380.6 1403.0,380.5 1403.2,380.4 1403.5,380.6 1403.8,380.6 1404.0,380.3 1404.2,380.4 1404.5,380.6 1404.8,380.6 1405.0,380.4 1405.2,380.6 1405.5,380.5 1405.8,380.5 1406.0,380.4 1406.2,380.6 1406.5,380.6 1406.8,380.6 1407.0,380.4 1407.2,380.5 1407.5,380.6 1407.8,380.4 1408.0,380.4 1408.2,380.5 1408.5,380.5 1408.8,380.4 1409.0,380.4 1409.2,380.5 1409.5,380.4 1409.8,380.5 1410.0,380.5 1410.2,380.6 1410.5,380.4 1410.8,380.5 1411.0,380.5 1411.2,380.4 1411.5,380.4 1411.8,380.4 1412.0,380.6 1412.2,380.4 1412.5,380.5 1412.8,380.5 1413.0,380.5 1413.2,380.4 1413.5,380.4 1413.8,380.5 1414.0,380.6 1414.2,380.5 1414.5,380.5 1414.8,380.3 1415.0,380.6 1415.2,380.6 1415.5,380.5 1415.8,380.5 1416.0,380.5 1416.2,380.4 1416.5,380.3 1416.8,380.5 1417.0,380.5 1417.2,380.6 1417.5,380.5 1417.8,380.4 1418.0,380.5 1418.2,380.4 1418.5,380.5 1418.8,380.3 1419.0,380.4 1419.2,380.6 1419.5,380.5 1419.8,380.6 1420.0,380.6 1420.2,380.4 1420.5,380.4 1420.8,380.3 1421.0,380.5 1421.2,380.5 1421.5,380.6 1421.8,380.4 1422.0,380.4 1422.2,380.5 1422.5,380.4 1422.8,380.4 1423.0,380.6 1423.2,380.4 1423.5,380.5 1423.8,380.5 1424.0,380.5 1424.2,380.3 1424.5,380.3 1424.8,380.3 1425.0,380.6 1425.2,380.5 1425.5,380.4 1425.8,380.6 1426.0,380.5 1426.2,380.6 1426.5,380.3 1426.8,380.4 1427.0,380.4 1427.2,380.5 1427.5,380.5 1427.8,380.5 1428.0,380.4 1428.2,380.5 1428.5,380.4 1428.8,380.5 1429.0,380.5 1429.2,380.4 1429.5,380.5 1429.8,380.4 1430.0,380.5 1430.2,380.6 1430.5,380.4 1430.8,380.6 1431.0,380.4 1431.2,380.6 1431.5,380.6 1431.8,380.4 1432.0,380.4 1432.2,380.5 1432.5,380.6 1432.8,380.4 1433.0,380.6 1433.2,380.5 1433.5,380.5 1433.8,380.5 1434.0,380.4 1434.2,380.5 1434.5,380.4 1434.8,380.4 1435.0,380.6 1435.2,380.6 1435.5,380.5 1435.8,380.5 1436.0,380.4 1436.2,380.6 1436.5,380.4 1436.8,380.4 1437.0,380.5 1437.2,380.6 1437.5,380.5 1437.8,380.5 1438.0,380.4 1438.2,380.5 1438.5,380.4 1438.8,380.5 1439.0,380.3 1439.2,380.6 1439.5,380.6 1439.8,380.4 1440.0,380.6 1440.2,380.4 1440.5,380.6 1440.8,380.5 1441.0,380.6 1441.2,380.5 1441.5,380.5 1441.8,380.5 1442.0,380.5 1442.2,380.3 1442.5,380.5 1442.8,380.6 1443.0,380.4 1443.2,380.4 1443.5,380.4 1443.8,380.3 1444.0,380.6 1444.2,380.4 1444.5,380.4 1444.8,380.5 1445.0,380.5 1445.2,380.6 1445.5,380.5 1445.8,380.3 1446.0,380.6 1446.2,380.5 1446.5,380.5 1446.8,380.4 1447.0,380.3 1447.2,380.6 1447.5,380.5 1447.8,380.4 1448.0,380.6 1448.2,380.5 1448.5,380.3 1448.8,380.4 1449.0,380.4 1449.2,380.6 1449.5,380.5 1449.8,380.4 1450.0,380.5 1450.2,380.5 1450.5,380.2 1450.8,380.5 1451.0,380.6 1451.2,380.5 1451.5,380.5 1451.8,380.5 1452.0,380.5 1452.2,380.4 1452.5,380.5 1452.8,380.6 1453.0,380.5 1453.2,380.4 1453.5,380.5 1453.8,380.4 1454.0,380.4 1454.2,380.6 1454.5,380.4 1454.8,380.3 1455.0,380.3 1455.2,380.5 1455.5,380.4 1455.8,380.5 1456.0,380.6 1456.2,380.4 1456.5,380.5 1456.8,380.4 1457.0,380.5 1457.2,380.4 1457.5,380.5 1457.8,380.4 1458.0,380.4 1458.2,380.5 1458.5,380.4 1458.8,380.6 1459.0,380.5 1459.2,380.4 1459.5,380.3 1459.8,380.5 1460.0,380.5 1460.2,380.6 1460.5,380.4 1460.8,380.4 1461.0,380.6 1461.2,380.4 1461.5,380.4 1461.8,380.4 1462.0,380.6 1462.2,380.4 1462.5,380.6 1462.8,380.3 1463.0,380.5 1463.2,380.6 1463.5,380.4 1463.8,380.4 1464.0,380.5 1464.2,380.3 1464.5,380.6 1464.8,380.4 1465.0,380.4 1465.2,380.6 1465.5,380.4 1465.8,380.5 1466.0,380.5 1466.2,380.6 1466.5,380.4 1466.8,380.6 1467.0,380.6 1467.2,380.5 1467.5,380.6 1467.8,380.3 1468.0,380.6 1468.2,380.5 1468.5,380.5 1468.8,380.5 1469.0,380.4 1469.2,380.4 1469.5,380.5 1469.8,380.5 1470.0,380.5 1470.2,380.4 1470.5,380.4 1470.8,380.5 1471.0,380.6 1471.2,380.3 1471.5,380.4 1471.8,380.5 1472.0,380.4 1472.2,380.5 1472.5,380.6 1472.8,380.5 1473.0,380.5 1473.2,380.5 1473.5,380.6 1473.8,380.5 1474.0,380.4 1474.2,380.5 1474.5,380.5 1474.8,380.6 1475.0,380.5 1475.2,380.5 1475.5,380.6 1475.8,380.6 1476.0,380.4 1476.2,380.5 1476.5,380.4 1476.8,380.5 1477.0,380.4 1477.2,380.5 1477.5,380.6 1477.8,380.5 1478.0,380.5 1478.2,380.4 1478.5,380.5 1478.8,380.5 1479.0,380.4 1479.2,380.3 1479.5,380.2 1479.8,379.9 1480.0,379.4 1480.2,378.7 1480.5,377.6 1480.8,376.5 1481.0,375.5 1481.2,374.9 1481.4,374.6 1481.5,374.8 1481.8,375.4 1482.0,376.4 1482.2,377.5 1482.5,378.5 1482.8,379.5 1483.0,380.1 1483.2,380.2 1483.5,380.5 1483.8,380.4 1484.0,380.5 1484.2,380.4 1484.5,380.3 1484.8,380.4 1485.0,380.5 1485.2,380.6 1485.5,380.5 1485.8,380.5 1486.0,380.6 1486.2,380.5 1486.5,380.5 1486.8,380.4 1487.0,380.5 1487.2,380.5 1487.5,380.5 1487.8,380.5 1488.0,380.6 1488.2,380.5 1488.5,380.3 1488.8,380.5 1489.0,380.4 1489.2,380.6 1489.5,380.4 1489.8,380.5 1490.0,380.4 1490.2,380.5 1490.5,380.6 1490.8,380.4 1491.0,380.5 1491.2,380.5 1491.5,380.4 1491.8,380.5 1492.0,380.5 1492.2,380.4 1492.5,380.5 1492.8,380.5 1493.0,380.5 1493.2,380.6 1493.5,380.5 1493.8,380.5 1494.0,380.5 1494.2,380.4 1494.5,380.6 1494.8,380.5 1495.0,380.6 1495.2,380.6 1495.5,380.5 1495.8,380.6 1496.0,380.6 1496.2,380.5 1496.5,380.5 1496.8,380.5 1497.0,380.5 1497.2,380.3 1497.5,380.5 1497.8,380.6 1498.0,380.3 1498.2,380.4 1498.5,380.5 1498.8,380.4 1499.0,380.5 1499.2,380.4 1499.5,380.5 1499.8,380.6 1500.0,380.4 1500.2,380.5 1500.5,380.6 1500.8,380.5 1501.0,380.4 1501.2,380.5 1501.5,380.5 1501.8,380.4 1502.0,380.5 1502.2,380.6 1502.5,380.4 1502.8,380.4 1503.0,380.4 1503.2,380.3 1503.5,380.4 1503.8,380.4 1504.0,380.3 1504.2,380.3 1504.5,379.8 1504.8,379.2 1505.0,378.7 1505.2,378.2 1505.4,378.2 1505.5,378.4 1505.8,378.6 1506.0,379.2 1506.2,379.8 1506.5,380.2 1506.8,380.3 1507.0,380.4 1507.2,380.5 1507.5,380.4 1507.8,380.4 1508.0,380.5 1508.2,380.5 1508.5,380.5 1508.8,380.5 1509.0,380.4 1509.2,380.4 1509.5,380.3 1509.8,380.3 1510.0,380.2 1510.2,380.0 1510.5,379.5 1510.8,378.9 1511.0,378.0 1511.2,377.3 1511.5,376.9 1511.6,376.8 1511.8,376.9 1512.0,377.5 1512.2,378.4 1512.5,379.0 1512.8,379.7 1513.0,380.1 1513.2,380.3 1513.5,380.4 1513.8,380.5 1514.0,380.5 1514.2,380.6 1514.5,380.6 1514.8,380.6 1515.0,380.3 1515.2,380.6 1515.5,380.4 1515.8,380.4 1516.0,380.5 1516.2,380.3 1516.5,380.3 1516.8,380.4 1517.0,380.3 1517.2,380.4 1517.5,380.5 1517.8,380.4 1518.0,380.5 1518.2,380.6 1518.5,380.6 1518.8,380.3 1519.0,380.5 1519.2,380.5 1519.5,380.5 1519.8,380.5 1520.0,380.5 1520.2,380.5 1520.5,380.6 1520.8,380.6 1521.0,380.5 1521.2,380.5 1521.5,380.3 1521.8,380.4 1522.0,380.3 1522.2,380.4 1522.5,380.5 1522.8,380.6 1523.0,380.5 1523.2,380.6 1523.5,380.5 1523.8,380.3 1524.0,380.5 1524.2,380.4 1524.5,380.5 1524.8,380.6 1525.0,380.5 1525.2,380.5 1525.5,380.4 1525.8,380.3 1526.0,380.5 1526.2,380.5 1526.5,380.5 1526.8,380.5 1527.0,380.6 1527.2,380.5 1527.5,380.4 1527.8,380.4 1528.0,380.6 1528.2,380.5 1528.5,380.6 1528.8,380.4 1529.0,380.6 1529.2,380.5 1529.5,380.5 1529.8,380.5 1530.0,380.6 1530.2,380.6 1530.5,380.3 1530.8,380.5 1531.0,380.5 1531.2,380.3 1531.5,380.5 1531.8,380.4 1532.0,380.5 1532.2,380.4 1532.5,380.4 1532.8,380.5 1533.0,380.5 1533.2,380.5 1533.5,380.4 1533.8,380.6 1534.0,380.5 1534.2,380.5 1534.5,380.5 1534.8,380.6 1535.0,380.4 1535.2,380.6 1535.5,380.5 1535.8,380.5 1536.0,380.6 1536.2,380.5 1536.5,380.6 1536.8,380.6 1537.0,380.5 1537.2,380.5 1537.5,380.5 1537.8,380.5 1538.0,380.3 1538.2,380.4 1538.5,380.6 1538.8,380.5 1539.0,380.5 1539.2,380.5 1539.5,380.5 1539.8,380.6 1540.0,380.3 1540.2,380.5 1540.5,380.5 1540.8,380.5 1541.0,380.5 1541.2,380.4 1541.5,380.4 1541.8,380.4 1542.0,380.6 1542.2,380.5 1542.5,380.4 1542.8,380.3 1543.0,380.5 1543.2,380.6 1543.5,380.4 1543.8,380.5 1544.0,380.6 1544.2,380.5 1544.5,380.4 1544.8,380.4 1545.0,380.4 1545.2,380.6 1545.5,380.3 1545.8,380.6 1546.0,380.5 1546.2,380.6 1546.5,380.4 1546.8,380.4 1547.0,380.4 1547.2,380.5 1547.5,380.5 1547.8,380.5 1548.0,380.6 1548.2,380.4 1548.5,380.4 1548.8,380.5 1549.0,380.5 1549.2,380.5 1549.5,380.3 1549.8,380.4 1550.0,380.5 1550.2,380.5 1550.5,380.6 1550.8,380.5 1551.0,380.5 1551.2,380.5 1551.5,380.5 1551.8,380.4 1552.0,380.4 1552.2,380.5 1552.5,380.4 1552.8,380.5 1553.0,380.5 1553.2,380.4 1553.5,380.6 1553.8,380.4 1554.0,380.6 1554.2,380.4 1554.5,380.5 1554.8,380.4 1555.0,380.5 1555.2,380.6 1555.5,380.4 1555.8,380.5 1556.0,380.5 1556.2,380.5 1556.5,380.4 1556.8,380.4 1557.0,380.5 1557.2,380.6 1557.5,380.5 1557.8,380.5 1558.0,380.3 1558.2,380.4 1558.5,380.5 1558.8,380.4 1559.0,380.5 1559.2,380.5 1559.5,380.5 1559.8,380.6 1560.0,380.4 1560.2,380.4 1560.5,380.5 1560.8,380.6 1561.0,380.5 1561.2,380.4 1561.5,380.5 1561.8,380.6 1562.0,380.4 1562.2,380.6 1562.5,380.6 1562.8,380.5 1563.0,380.5 1563.2,380.5 1563.5,380.5 1563.8,380.5 1564.0,380.5 1564.2,380.5 1564.5,380.5 1564.8,380.4 1565.0,380.4 1565.2,380.4 1565.5,380.4 1565.8,380.6 1566.0,380.6 1566.2,380.5 1566.5,380.5 1566.8,380.6 1567.0,380.4 1567.2,380.5 1567.5,380.5 1567.8,380.5 1568.0,380.5 1568.2,380.5 1568.5,380.4 1568.8,380.5 1569.0,380.6 1569.2,380.5 1569.5,380.5 1569.8,380.6 1570.0,380.4 1570.2,380.6 1570.5,380.3 1570.8,380.4 1571.0,380.6 1571.2,380.5 1571.5,380.4 1571.8,380.5 1572.0,380.6 1572.2,380.5 1572.5,380.3 1572.8,380.6 1573.0,380.4 1573.2,380.5 1573.5,380.5 1573.8,380.5 1574.0,380.5 1574.2,380.4 1574.5,380.4 1574.8,380.6 1575.0,380.3 1575.2,380.6 1575.5,380.4 1575.8,380.5 1576.0,380.4 1576.2,380.4 1576.5,380.4 1576.8,380.5 1577.0,380.4 1577.2,380.5 1577.5,380.3 1577.8,380.5 1578.0,380.4 1578.2,380.4 1578.5,380.5 1578.8,380.5 1579.0,380.4 1579.2,380.6 1579.5,380.6 1579.8,380.4 1580.0,380.6 1580.2,380.4 1580.5,380.5 1580.8,380.5 1581.0,380.5 1581.2,380.4 1581.5,380.5 1581.8,380.5 1582.0,380.5 1582.2,380.4 1582.5,380.4 1582.8,380.4 1583.0,380.4 1583.2,380.5 1583.5,380.6 1583.8,380.4 1584.0,380.4 1584.2,380.5 1584.5,380.4 1584.8,380.4 1585.0,380.5 1585.2,380.4 1585.5,380.5 1585.8,380.6 1586.0,380.5 1586.2,380.5 1586.5,380.4 1586.8,380.6 1587.0,380.5 1587.2,380.6 1587.5,380.5 1587.8,380.5 1588.0,380.4 1588.2,380.4 1588.5,380.5 1588.8,380.5 1589.0,380.5 1589.2,380.5 1589.5,380.4 1589.8,380.6 1590.0,380.5 1590.2,380.5 1590.5,380.4 1590.8,380.6 1591.0,380.5 1591.2,380.4 1591.5,380.5 1591.8,380.6 1592.0,380.5 1592.2,380.6 1592.5,380.4 1592.8,380.6 1593.0,380.3 1593.2,380.5 1593.5,380.5 1593.8,380.5 1594.0,380.6 1594.2,380.4 1594.5,380.4 1594.8,380.5 1595.0,380.4 1595.2,380.6 1595.5,380.5 1595.8,380.3 1596.0,380.6 1596.2,380.4 1596.5,380.4 1596.8,380.6 1597.0,380.6 1597.2,380.6 1597.5,380.4 1597.8,380.5 1598.0,380.5 1598.2,380.4 1598.5,380.5 1598.8,380.5 1599.0,380.5 1599.2,380.4 1599.5,380.5 1599.8,380.3 1600.0,380.5 1600.2,380.5 1600.5,380.4 1600.8,380.4 1601.0,380.6 1601.2,380.5 1601.5,380.6 1601.8,380.5 1602.0,380.4 1602.2,380.6 1602.5,380.5 1602.8,380.5 1603.0,380.3 1603.2,380.5 1603.5,380.6 1603.8,380.6 1604.0,380.6 1604.2,380.5 1604.5,380.5 1604.8,380.4 1605.0,380.5 1605.2,380.5 1605.5,380.5 1605.8,380.5 1606.0,380.5 1606.2,380.4 1606.5,380.4 1606.8,380.5 1607.0,380.6 1607.2,380.5 1607.5,380.5 1607.8,380.6 1608.0,380.5 1608.2,380.4 1608.5,380.5 1608.8,380.6 1609.0,380.3 1609.2,380.4 1609.5,380.5 1609.8,380.4 1610.0,380.4 1610.2,380.6 1610.5,380.3 1610.8,380.6 1611.0,380.5 1611.2,380.6 1611.5,380.5 1611.8,380.6 1612.0,380.5 1612.2,380.4 1612.5,380.5 1612.8,380.5 1613.0,380.3 1613.2,380.3 1613.5,379.9 1613.8,379.5 1614.0,378.8 1614.2,378.1 1614.5,377.6 1614.7,377.5 1614.8,377.6 1615.0,377.8 1615.2,378.4 1615.5,379.1 1615.8,379.8 1616.0,380.1 1616.2,380.4 1616.5,380.4 1616.8,380.4 1617.0,380.5 1617.2,380.5 1617.5,380.5 1617.8,380.6 1618.0,380.6 1618.2,380.5 1618.5,380.6 1618.8,380.6 1619.0,380.6 1619.2,380.4 1619.5,380.6 1619.8,380.5 1620.0,380.5 1620.2,380.6 1620.5,380.6 1620.8,380.4 1621.0,380.5 1621.2,380.4 1621.5,380.3 1621.8,380.5 1622.0,380.5 1622.2,380.5 1622.5,380.5 1622.8,380.5 1623.0,380.6 1623.2,380.3 1623.5,380.6 1623.8,380.5 1624.0,380.5 1624.2,380.5 1624.5,380.6 1624.8,380.5 1625.0,380.5 1625.2,380.6 1625.5,380.5 1625.8,380.5 1626.0,380.5 1626.2,380.4 1626.5,380.6 1626.8,380.5 1627.0,380.5 1627.2,380.5 1627.5,380.5 1627.8,380.5 1628.0,380.6 1628.2,380.6 1628.5,380.6 1628.8,380.5 1629.0,380.4 1629.2,380.4 1629.5,380.5 1629.8,380.5 1630.0,380.6 1630.2,380.6 1630.5,380.6 1630.8,380.5 1631.0,380.6 1631.2,380.6 1631.5,380.4 1631.8,380.6 1632.0,380.6 1632.2,380.3 1632.5,380.5 1632.8,380.5 1633.0,380.4 1633.2,380.6 1633.5,380.4 1633.8,380.6 1634.0,380.6 1634.2,380.5 1634.5,380.6 1634.8,380.4 1635.0,380.6 1635.2,380.6 1635.5,380.5 1635.8,380.4 1636.0,380.4 1636.2,380.5 1636.5,380.3 1636.8,380.5 1637.0,380.5 1637.2,380.4 1637.5,380.5 1637.8,380.5 1638.0,380.5 1638.2,380.5 1638.5,380.6 1638.8,380.5 1639.0,380.6 1639.2,380.5 1639.5,380.6 1639.8,380.3 1640.0,380.4 1640.2,380.4 1640.5,380.5 1640.8,380.5 1641.0,380.4 1641.2,380.5 1641.5,380.4 1641.8,380.6 1642.0,380.4 1642.2,380.6 1642.5,380.5 1642.8,380.6 1643.0,380.5 1643.2,380.5 1643.5,380.5 1643.8,380.5 1644.0,380.4 1644.2,380.5 1644.5,380.4 1644.8,380.6 1645.0,380.4 1645.2,380.5 1645.5,380.6 1645.8,380.6 1646.0,380.4 1646.2,380.6 1646.5,380.5 1646.8,380.4 1647.0,380.5 1647.2,380.5 1647.5,380.6 1647.8,380.5 1648.0,380.4 1648.2,380.5 1648.5,380.6 1648.8,380.4 1649.0,380.5 1649.2,380.6 1649.5,380.4 1649.8,380.6 1650.0,380.3 1650.2,380.5 1650.5,380.4 1650.8,380.5 1651.0,380.6 1651.2,380.5 1651.5,380.5 1651.8,380.5 1652.0,380.4 1652.2,380.6 1652.5,380.5 1652.8,380.4 1653.0,380.5 1653.2,380.6 1653.5,380.6 1653.8,380.4 1654.0,380.4 1654.2,380.6 1654.5,380.6 1654.8,380.4 1655.0,380.6 1655.2,380.5 1655.5,380.6 1655.8,380.6 1656.0,380.5 1656.2,380.5 1656.5,380.4 1656.8,380.3 1657.0,380.5 1657.2,380.4 1657.5,380.4 1657.8,380.5 1658.0,380.6 1658.2,380.4 1658.5,380.5 1658.8,380.5 1659.0,380.5 1659.2,380.5 1659.5,380.5 1659.8,380.4 1660.0,380.4 1660.2,380.5 1660.5,380.6 1660.8,380.5 1661.0,380.6 1661.2,380.5 1661.5,380.4 1661.8,380.3 1662.0,380.5 1662.2,380.6 1662.5,380.4 1662.8,380.6 1663.0,380.6 1663.2,380.4 1663.5,380.4 1663.8,380.6 1664.0,380.6 1664.2,380.4 1664.5,380.5 1664.8,380.5 1665.0,380.5 1665.2,380.5 1665.5,380.6 1665.8,380.4 1666.0,380.5 1666.2,380.6 1666.5,380.6 1666.8,380.5 1667.0,380.6 1667.2,380.4 1667.5,380.5 1667.8,380.4 1668.0,380.5 1668.2,380.5 1668.5,380.6 1668.8,380.6 1669.0,380.4 1669.2,380.2 1669.5,380.6 1669.8,380.6 1670.0,380.5 1670.2,380.5 1670.5,380.6 1670.8,380.5 1671.0,380.6 1671.2,380.5 1671.5,380.4 1671.8,380.4 1672.0,380.5 1672.2,380.5 1672.5,380.5 1672.8,380.4 1673.0,380.5 1673.2,380.6 1673.5,380.5 1673.8,380.4 1674.0,380.6 1674.2,380.6 1674.5,380.5 1674.8,380.5 1675.0,380.4 1675.2,380.5 1675.5,380.5 1675.8,380.5 1676.0,380.6 1676.2,380.6 1676.5,380.5 1676.8,380.5 1677.0,380.4 1677.2,380.6 1677.5,380.5 1677.8,380.5 1678.0,380.4 1678.2,380.5 1678.5,380.5 1678.8,380.4 1679.0,380.5 1679.2,380.5 1679.5,380.4 1679.8,380.4 1680.0,380.4 1680.2,380.4 1680.5,380.4 1680.8,380.5 1681.0,380.6 1681.2,380.4 1681.5,380.5 1681.8,380.4 1682.0,380.5 1682.2,380.6 1682.5,380.6 1682.8,380.4 1683.0,380.4 1683.2,380.5 1683.5,380.5 1683.8,380.4 1684.0,380.6 1684.2,380.5 1684.5,380.6 1684.8,380.4 1685.0,380.5 1685.2,380.5 1685.5,380.6 1685.8,380.5 1686.0,380.4 1686.2,380.5 1686.5,380.5 1686.8,380.4 1687.0,380.6 1687.2,380.5 1687.5,380.4 1687.8,380.6 1688.0,380.6 1688.2,380.5 1688.5,380.5 1688.8,380.4 1689.0,380.3 1689.2,380.1 1689.5,380.0 1689.8,379.8 1690.0,379.7 1690.2,379.7 1690.5,379.8 1690.8,380.2 1691.0,380.2 1691.2,380.3 1691.5,380.5 1691.8,380.4 1692.0,380.4 1692.2,380.4 1692.5,380.6 1692.8,380.4 1693.0,380.5 1693.2,380.5 1693.5,380.4 1693.8,380.4 1694.0,380.6 1694.2,380.5 1694.5,380.5 1694.8,380.6 1695.0,380.4 1695.2,380.5 1695.5,380.5 1695.8,380.5 1696.0,380.4 1696.2,380.5 1696.5,380.5 1696.8,380.4 1697.0,380.5 1697.2,380.5 1697.5,380.6 1697.8,380.4 1698.0,380.5 1698.2,380.5 1698.5,380.5 1698.8,380.5 1699.0,380.6 1699.2,380.6 1699.5,380.5 1699.8,380.5 1700.0,380.4 1700.2,380.6 1700.5,380.5 1700.8,380.6 1701.0,380.4 1701.2,380.6 1701.5,380.4 1701.8,380.4 1702.0,380.5 1702.2,380.4 1702.5,380.6 1702.8,380.5 1703.0,380.6 1703.2,380.5 1703.5,380.5 1703.8,380.4 1704.0,380.2 1704.2,380.0 1704.5,379.8 1704.8,379.6 1705.0,379.6 1705.2,379.6 1705.5,379.6 1705.8,380.1 1706.0,380.2 1706.2,380.4 1706.5,380.4 1706.8,380.4 1707.0,380.5 1707.2,380.6 1707.5,380.5 1707.8,380.4 1708.0,380.5 1708.2,380.4 1708.5,380.5 1708.8,380.6 1709.0,380.5 1709.2,380.5 1709.5,380.5 1709.8,380.5 1710.0,380.5 1710.2,380.5 1710.5,380.5 1710.8,380.5 1711.0,380.6 1711.2,380.5 1711.5,380.5 1711.8,380.6 1712.0,380.5 1712.2,380.5 1712.5,380.5 1712.8,380.4 1713.0,380.5 1713.2,380.6 1713.5,380.6 1713.8,380.4 1714.0,380.5 1714.2,380.6 1714.5,380.5 1714.8,380.5 1715.0,380.5 1715.2,380.4 1715.5,380.6 1715.8,380.5 1716.0,380.5 1716.2,380.5 1716.5,380.6 1716.8,380.5 1717.0,380.6 1717.2,380.4 1717.5,380.4 1717.8,380.4 1718.0,380.4 1718.2,380.5 1718.5,380.4 1718.8,380.5 1719.0,380.4 1719.2,380.6 1719.5,380.5 1719.8,380.5 1720.0,380.4 1720.2,380.5 1720.5,380.3 1720.8,380.3 1721.0,380.6 1721.2,380.5 1721.5,380.6 1721.8,380.5 1722.0,380.5 1722.2,380.5 1722.5,380.4 1722.8,380.4 1723.0,380.5 1723.2,380.5 1723.5,380.5 1723.8,380.5 1724.0,380.5 1724.2,380.5 1724.5,380.5 1724.8,380.6 1725.0,380.4 1725.2,380.4 1725.5,380.5 1725.8,380.6 1726.0,380.4 1726.2,380.5 1726.5,380.6 1726.8,380.5 1727.0,380.4 1727.2,380.5 1727.5,380.4 1727.8,380.4 1728.0,380.5 1728.2,380.6 1728.5,380.6 1728.8,380.5 1729.0,380.4 1729.2,380.6 1729.5,380.5 1729.8,380.5 1730.0,380.6 1730.2,380.6 1730.5,380.5 1730.8,380.5 1731.0,380.5 1731.2,380.6 1731.5,380.5 1731.8,380.6 1732.0,380.4 1732.2,380.5 1732.5,380.5 1732.8,380.4 1733.0,380.5 1733.2,380.4 1733.5,380.4 1733.8,380.5 1734.0,380.4 1734.2,380.5 1734.5,380.4 1734.8,380.5 1735.0,380.6 1735.2,380.5 1735.5,380.5 1735.8,380.5 1736.0,380.5 1736.2,380.4 1736.5,380.5 1736.8,380.5 1737.0,380.6 1737.2,380.5 1737.5,380.4 1737.8,380.4 1738.0,380.5 1738.2,380.5 1738.5,380.6 1738.8,380.5 1739.0,380.6 1739.2,380.6 1739.5,380.4 1739.8,380.6 1740.0,380.4 1740.2,380.6 1740.5,380.5 1740.8,380.6 1741.0,380.5 1741.2,380.6 1741.5,380.5 1741.8,380.5 1742.0,380.5 1742.2,380.5 1742.5,380.4 1742.8,380.5 1743.0,380.4 1743.2,380.5 1743.5,380.5 1743.8,380.3 1744.0,380.6 1744.2,380.6 1744.5,380.6 1744.8,380.5 1745.0,380.5 1745.2,380.2 1745.5,380.5 1745.8,380.4 1746.0,380.4 1746.2,380.5 1746.5,380.5 1746.8,380.4 1747.0,380.5 1747.2,380.5 1747.5,380.5 1747.8,380.6 1748.0,380.6 1748.2,380.5 1748.5,380.5 1748.8,380.6 1749.0,380.5 1749.2,380.5 1749.5,380.5 1749.8,380.4 1750.0,380.5 1750.2,380.5 1750.5,380.6 1750.8,380.6 1751.0,380.5 1751.2,380.6 1751.5,380.5 1751.8,380.6 1752.0,380.6 1752.2,380.4 1752.5,380.6 1752.8,380.6 1753.0,380.6 1753.2,380.5 1753.5,380.3 1753.8,380.6 1754.0,380.5 1754.2,380.5 1754.5,380.4 1754.8,380.5 1755.0,380.6 1755.2,380.4 1755.5,380.6 1755.8,380.5 1756.0,380.6 1756.2,380.6 1756.5,380.5 1756.8,380.4 1757.0,380.4 1757.2,380.5 1757.5,380.5 1757.8,380.5 1758.0,380.5 1758.2,380.5 1758.5,380.5 1758.8,380.5 1759.0,380.5 1759.2,380.5 1759.5,380.5 1759.8,380.6 1760.0,380.4 1760.2,380.5 1760.5,380.4 1760.8,380.5 1761.0,380.4 1761.2,380.6 1761.5,380.3 1761.8,380.5 1762.0,380.6 1762.2,380.5 1762.5,380.3 1762.8,380.5 1763.0,380.6 1763.2,380.5 1763.5,380.4 1763.8,380.6 1764.0,380.5 1764.2,380.5 1764.5,380.3 1764.8,380.5 1765.0,380.4 1765.2,380.6 1765.5,380.6 1765.8,380.4 1766.0,380.5 1766.2,380.6 1766.5,380.5 1766.8,380.5 1767.0,380.5 1767.2,380.5 1767.5,380.5 1767.8,380.5 1768.0,380.4 1768.2,380.3 1768.5,380.0 1768.8,379.7 1769.0,379.2 1769.2,379.1 1769.4,378.9 1769.5,378.9 1769.8,379.2 1770.0,379.5 1770.2,379.8 1770.5,380.1 1770.8,380.5 1771.0,380.4 1771.2,380.5 1771.5,380.5 1771.8,380.5 1772.0,380.5 1772.2,380.4 1772.5,380.5 1772.8,380.5 1773.0,380.6 1773.2,380.5 1773.5,380.5 1773.8,380.4 1774.0,380.6 1774.2,380.5 1774.5,380.5 1774.8,380.6 1775.0,380.5 L1775.0,381.0 Z" fill="#ffa07a"/>
<path d="M80.0,371.0 80.2,370.2 80.5,370.1 80.8,370.0 81.0,368.6 81.2,367.1 81.5,364.3 81.8,361.3 82.0,361.0 82.2,359.2 82.5,357.3 82.8,358.0 83.0,358.8 83.2,360.3 83.5,360.1 83.8,360.0 84.0,362.4 84.2,362.2 84.5,364.1 84.8,364.1 85.0,365.2 85.2,364.2 85.5,365.3 85.8,364.1 86.0,364.4 86.2,364.9 86.5,367.1 86.8,365.5 87.0,365.2 87.2,365.3 87.5,366.8 87.8,366.1 88.0,366.7 88.2,366.7 88.5,365.3 88.8,367.0 89.0,366.6 89.2,366.0 89.5,367.3 89.8,367.1 90.0,367.1 90.2,367.2 90.5,368.4 90.8,367.4 91.0,366.5 91.2,368.9 91.5,367.1 91.8,367.8 92.0,368.5 92.2,366.5 92.5,367.6 92.8,369.2 93.0,368.3 93.2,368.0 93.5,368.7 93.8,368.1 94.0,368.8 94.2,368.3 94.5,367.8 94.8,369.5 95.0,368.9 95.2,369.5 95.5,369.2 95.8,370.3 96.0,369.9 96.2,369.6 96.5,368.9 96.8,368.7 97.0,370.6 97.2,370.2 97.5,369.2 97.8,371.2 98.0,370.1 98.2,369.9 98.5,369.0 98.8,369.4 99.0,370.2 99.2,370.3 99.5,370.3 99.8,369.0 100.0,370.5 100.2,370.4 100.5,370.0 100.8,370.4 101.0,370.5 101.2,371.1 101.5,370.4 101.8,370.7 102.0,369.6 102.2,370.0 102.5,370.5 102.8,370.0 103.0,370.7 103.2,369.8 103.5,370.5 103.8,370.1 104.0,371.5 104.2,370.3 104.5,371.8 104.8,372.0 105.0,370.8 105.2,371.3 105.5,370.6 105.8,369.1 106.0,371.3 106.2,371.2 106.5,370.6 106.8,370.4 107.0,370.9 107.2,371.0 107.5,370.3 107.8,370.5 108.0,371.6 108.2,370.9 108.5,370.9 108.8,371.6 109.0,370.8 109.2,371.6 109.5,370.3 109.8,370.9 110.0,371.0 110.2,371.4 110.5,371.1 110.8,372.4 111.0,371.9 111.2,370.9 111.5,372.6 111.8,370.6 112.0,372.3 112.2,370.7 112.5,371.8 112.8,370.7 113.0,371.1 113.2,372.3 113.5,370.4 113.8,370.3 114.0,371.3 114.2,371.5 114.5,371.4 114.8,372.0 115.0,370.6 115.2,371.7 115.5,371.4 115.8,371.9 116.0,371.8 116.2,372.3 116.5,370.6 116.8,371.5 117.0,370.8 117.2,371.4 117.5,371.9 117.8,371.7 118.0,371.9 118.2,371.5 118.5,371.8 118.8,371.7 119.0,372.4 119.2,372.1 119.5,370.4 119.8,372.0 120.0,372.3 120.2,371.3 120.5,370.6 120.8,372.5 121.0,371.7 121.2,372.0 121.5,372.8 121.8,371.1 122.0,371.6 122.2,371.6 122.5,372.1 122.8,371.3 123.0,372.0 123.2,371.7 123.5,372.4 123.8,372.5 124.0,370.8 124.2,372.0 124.5,371.5 124.8,371.7 125.0,372.0 125.2,372.0 125.5,371.3 125.8,371.9 126.0,371.7 126.2,371.5 126.5,370.2 126.8,369.5 127.0,368.6 127.2,368.9 127.2,369.4 127.5,368.6 127.8,369.7 128.0,371.3 128.2,371.1 128.5,371.0 128.8,371.0 129.0,370.9 129.2,371.8 129.5,370.5 129.8,372.4 130.0,370.9 130.2,371.2 130.5,370.9 130.8,370.2 131.0,370.5 131.2,372.2 131.5,372.6 131.8,370.9 132.0,372.1 132.2,371.4 132.5,370.9 132.8,372.5 133.0,372.5 133.2,370.2 133.5,369.1 133.8,368.1 133.9,367.7 134.0,368.4 134.2,369.9 134.5,370.3 134.8,371.6 135.0,372.4 135.2,371.0 135.5,371.4 135.8,371.0 136.0,372.0 136.2,371.7 136.5,371.9 136.8,371.7 137.0,370.9 137.2,371.5 137.5,370.7 137.8,370.6 138.0,369.4 138.2,371.7 138.5,370.1 138.8,370.7 139.0,370.6 139.2,371.5 139.5,370.7 139.8,369.8 140.0,370.3 140.2,370.1 140.5,370.3 140.8,369.2 141.0,370.0 141.2,371.5 141.5,370.3 141.8,371.1 142.0,372.0 142.2,369.9 142.5,368.5 142.8,369.3 143.0,370.2 143.2,369.8 143.5,368.1 143.8,368.7 144.0,368.6 144.2,368.5 144.5,368.2 144.8,367.4 145.0,367.5 145.2,367.6 145.5,368.4 145.8,367.0 146.0,367.8 146.2,366.1 146.5,367.9 146.8,366.8 147.0,366.5 147.2,367.4 147.5,364.7 147.8,364.7 148.0,366.2 148.2,365.0 148.5,365.1 148.8,367.5 149.0,364.8 149.2,364.9 149.5,364.6 149.8,365.6 150.0,365.6 150.2,366.2 150.5,365.8 150.8,367.2 151.0,368.1 151.2,367.1 151.5,368.4 151.8,368.0 152.0,368.9 152.2,365.9 152.5,366.1 152.8,365.9 153.0,365.8 153.2,366.0 153.5,365.7 153.8,365.8 154.0,365.5 154.2,364.9 154.5,362.6 154.8,359.6 155.0,347.8 155.2,323.7 155.5,296.3 155.7,285.1 155.8,286.6 156.0,305.4 156.2,334.3 156.5,354.6 156.8,361.6 157.0,362.7 157.2,362.9 157.5,355.9 157.8,332.3 158.0,284.7 158.2,238.0 158.4,226.4 158.5,231.7 158.8,273.0 159.0,325.1 159.2,352.1 159.5,359.8 159.8,361.7 160.0,359.2 160.2,355.7 160.4,355.5 160.5,356.9 160.8,358.7 161.0,361.1 161.2,365.6 161.5,366.9 161.8,368.3 162.0,367.9 162.2,369.6 162.5,370.0 162.8,368.7 163.0,370.8 163.2,369.9 163.5,370.1 163.8,371.3 164.0,371.1 164.2,370.1 164.5,371.1 164.8,370.3 165.0,369.4 165.2,367.5 165.3,366.5 165.5,367.3 165.8,370.0 166.0,371.2 166.2,371.6 166.5,371.3 166.8,371.6 167.0,371.0 167.2,369.4 167.5,364.5 167.8,352.9 168.0,337.3 168.2,327.9 168.3,327.2 168.5,331.0 168.8,346.3 169.0,360.5 169.2,369.2 169.5,370.5 169.8,372.7 170.0,372.3 170.2,369.9 170.5,367.3 170.8,361.9 171.0,355.8 171.2,352.4 171.2,352.7 171.5,356.4 171.8,362.2 172.0,368.0 172.2,370.2 172.5,370.7 172.8,369.7 173.0,369.8 173.2,370.6 173.5,369.8 173.8,370.8 174.0,369.4 174.2,369.5 174.5,369.6 174.8,370.9 175.0,370.3 175.2,370.9 175.5,371.2 175.8,371.3 176.0,372.0 176.2,372.2 176.5,370.9 176.8,371.6 177.0,371.4 177.2,371.0 177.5,372.8 177.8,372.2 178.0,371.7 178.2,371.6 178.5,372.1 178.8,371.3 179.0,371.9 179.2,372.8 179.5,372.7 179.8,371.6 180.0,371.9 180.2,373.4 180.5,371.3 180.8,371.8 181.0,371.3 181.2,372.4 181.5,372.4 181.8,372.9 182.0,370.6 182.2,372.3 182.5,371.2 182.8,372.6 183.0,372.1 183.2,373.3 183.5,372.4 183.8,371.6 184.0,373.0 184.2,371.5 184.5,372.0 184.8,372.9 185.0,372.5 185.2,372.5 185.5,372.2 185.8,372.5 186.0,372.7 186.2,372.4 186.5,372.9 186.8,373.0 187.0,372.2 187.2,371.6 187.5,373.2 187.8,372.2 188.0,372.6 188.2,372.8 188.5,371.7 188.8,372.5 189.0,371.2 189.2,372.7 189.5,372.0 189.8,372.3 190.0,372.7 190.2,371.8 190.5,372.3 190.8,371.8 191.0,372.2 191.2,372.9 191.5,372.3 191.8,372.2 192.0,371.6 192.2,372.8 192.5,372.2 192.8,373.3 193.0,371.8 193.2,372.9 193.5,373.4 193.8,372.2 194.0,371.5 194.2,373.2 194.5,372.9 194.8,372.7 195.0,372.9 195.2,372.0 195.5,372.7 195.8,372.7 196.0,371.8 196.2,372.7 196.5,371.9 196.8,372.8 197.0,373.0 197.2,373.4 197.5,371.0 197.8,372.4 198.0,372.0 198.2,372.2 198.5,372.1 198.8,372.2 199.0,371.0 199.2,372.9 199.5,373.2 199.8,372.8 200.0,373.1 200.2,371.7 200.5,371.7 200.8,372.8 201.0,373.1 201.2,372.4 201.5,371.3 201.8,374.0 202.0,371.8 202.2,372.9 202.5,371.5 202.8,372.9 203.0,372.4 203.2,373.1 203.5,372.8 203.8,371.3 204.0,371.6 204.2,372.4 204.5,372.7 204.8,373.4 205.0,372.4 205.2,372.2 205.5,372.2 205.8,372.2 206.0,372.9 206.2,372.2 206.5,372.2 206.8,371.3 207.0,370.9 207.2,372.2 207.5,372.6 207.8,372.2 208.0,372.5 208.2,372.6 208.5,372.2 208.8,372.8 209.0,371.7 209.2,372.2 209.5,371.9 209.8,372.2 210.0,372.6 210.2,372.7 210.5,372.2 210.8,372.4 211.0,371.9 211.2,372.1 211.5,373.0 211.8,372.0 212.0,372.9 212.2,372.5 212.5,372.3 212.8,373.4 213.0,372.0 213.2,372.0 213.5,372.2 213.8,372.3 214.0,372.3 214.2,372.7 214.5,372.2 214.8,372.4 215.0,372.0 215.2,372.8 215.5,371.9 215.8,372.0 216.0,372.1 216.2,372.3 216.5,371.7 216.8,373.1 217.0,371.7 217.2,371.9 217.5,371.8 217.8,371.8 218.0,372.4 218.2,372.2 218.5,371.6 218.8,371.7 219.0,371.9 219.2,373.0 219.5,371.7 219.8,371.2 220.0,371.3 220.2,371.8 220.5,373.0 220.8,371.4 221.0,372.1 221.2,373.6 221.5,371.7 221.8,372.9 222.0,372.8 222.2,372.4 222.5,371.1 222.8,372.2 223.0,371.8 223.2,370.8 223.5,370.9 223.8,372.0 224.0,372.1 224.2,372.8 224.5,372.4 224.8,371.7 225.0,371.7 225.2,371.8 225.5,371.3 225.8,372.4 226.0,371.9 226.2,371.4 226.5,371.5 226.8,371.2 227.0,371.6 227.2,372.1 227.5,371.7 227.8,372.5 228.0,372.9 228.2,371.5 228.5,371.9 228.8,371.7 229.0,373.0 229.2,372.1 229.5,372.2 229.8,372.4 230.0,373.3 230.2,372.1 230.5,371.3 230.8,371.6 231.0,372.2 231.2,371.8 231.5,371.3 231.8,373.6 232.0,371.9 232.2,371.5 232.5,371.4 232.8,370.7 233.0,371.1 233.2,371.6 233.5,371.6 233.8,371.3 234.0,372.1 234.2,371.8 234.5,371.2 234.8,370.5 235.0,371.9 235.2,371.8 235.5,371.6 235.8,370.9 236.0,371.8 236.2,370.8 236.5,372.4 236.8,371.9 237.0,371.9 237.2,371.2 237.5,371.1 237.8,372.7 238.0,372.3 238.2,371.5 238.5,372.2 238.8,372.7 239.0,371.0 239.2,371.4 239.5,371.4 239.8,372.0 240.0,371.0 240.2,371.9 240.5,371.0 240.8,372.3 241.0,372.3 241.2,371.6 241.5,372.1 241.8,371.2 242.0,371.5 242.2,372.3 242.5,371.6 242.8,371.9 243.0,371.1 243.2,372.1 243.5,372.0 243.8,370.9 244.0,370.2 244.2,370.3 244.5,371.6 244.8,371.5 245.0,370.6 245.2,371.7 245.5,372.3 245.8,371.6 246.0,371.3 246.2,372.2 246.5,372.7 246.8,372.6 247.0,371.2 247.2,372.1 247.5,371.7 247.8,371.5 248.0,371.2 248.2,371.8 248.5,371.3 248.8,372.2 249.0,371.8 249.2,372.3 249.5,370.8 249.8,371.6 250.0,372.1 250.2,371.8 250.5,371.7 250.8,371.1 251.0,372.6 251.2,372.3 251.5,371.8 251.8,369.9 252.0,370.9 252.2,371.6 252.5,371.1 252.8,370.2 253.0,371.7 253.2,371.8 253.5,370.8 253.8,371.2 254.0,371.1 254.2,371.9 254.5,370.3 254.8,370.4 255.0,371.2 255.2,371.1 255.5,372.9 255.8,371.1 256.0,371.7 256.2,371.2 256.5,371.1 256.8,371.7 257.0,372.6 257.2,371.3 257.5,372.0 257.8,371.7 258.0,371.9 258.2,371.7 258.5,373.0 258.8,370.7 259.0,371.3 259.2,370.8 259.5,370.2 259.8,371.5 260.0,372.7 260.2,372.1 260.5,372.3 260.8,371.8 261.0,371.4 261.2,372.8 261.5,371.2 261.8,372.5 262.0,371.3 262.2,371.5 262.5,371.7 262.8,371.5 263.0,371.8 263.2,371.9 263.5,372.6 263.8,371.5 264.0,370.2 264.2,370.1 264.5,370.6 264.8,371.0 265.0,371.9 265.2,370.5 265.5,371.5 265.8,371.5 266.0,371.6 266.2,371.4 266.5,371.7 266.8,371.5 267.0,372.1 267.2,371.7 267.5,369.9 267.8,371.4 268.0,371.5 268.2,370.6 268.5,368.0 268.8,360.6 269.0,340.9 269.2,315.6 269.5,304.1 269.8,316.2 270.0,339.8 270.2,360.5 270.5,368.7 270.8,371.6 271.0,370.7 271.2,373.1 271.5,372.3 271.8,372.2 272.0,371.5 272.2,371.5 272.5,371.0 272.8,373.0 273.0,371.5 273.2,372.2 273.5,372.4 273.8,371.7 274.0,372.6 274.2,373.4 274.5,372.3 274.8,373.0 275.0,372.5 275.2,371.9 275.5,371.9 275.8,371.1 276.0,372.3 276.2,373.2 276.5,372.7 276.8,372.8 277.0,373.0 277.2,372.0 277.5,372.7 277.8,373.5 278.0,371.9 278.2,372.4 278.5,372.1 278.8,372.2 279.0,371.7 279.2,371.7 279.5,370.5 279.8,370.7 279.9,370.7 280.0,370.7 280.2,372.2 280.5,371.8 280.8,372.3 281.0,372.2 281.2,373.3 281.5,371.5 281.8,372.5 282.0,373.3 282.2,373.6 282.5,372.8 282.8,372.7 283.0,373.1 283.2,372.6 283.5,373.1 283.8,372.3 284.0,373.1 284.2,372.7 284.5,372.1 284.8,371.2 285.0,373.4 285.2,373.1 285.5,373.4 285.8,372.4 286.0,373.6 286.2,373.2 286.5,373.0 286.8,373.6 287.0,373.6 287.2,373.3 287.5,374.3 287.8,373.9 288.0,373.3 288.2,373.0 288.5,373.2 288.8,374.2 289.0,373.4 289.2,372.7 289.5,372.9 289.8,373.3 290.0,373.8 290.2,372.9 290.5,373.7 290.8,374.0 291.0,373.8 291.2,372.5 291.5,373.3 291.8,372.7 292.0,373.7 292.2,372.9 292.5,373.9 292.8,373.6 293.0,372.1 293.2,373.1 293.5,373.9 293.8,373.7 294.0,373.5 294.2,373.0 294.5,374.0 294.8,374.7 295.0,373.9 295.2,373.7 295.5,373.7 295.8,373.0 296.0,373.6 296.2,373.4 296.5,374.5 296.8,373.4 297.0,372.7 297.2,373.5 297.5,373.8 297.8,373.9 298.0,373.0 298.2,374.6 298.5,374.1 298.8,373.8 299.0,373.7 299.2,374.4 299.5,374.0 299.8,374.3 300.0,374.1 300.2,374.3 300.5,374.9 300.8,374.3 301.0,373.8 301.2,374.8 301.5,374.4 301.8,374.0 302.0,374.9 302.2,374.2 302.5,374.9 302.8,373.7 303.0,373.1 303.2,373.3 303.5,374.5 303.8,374.0 304.0,374.3 304.2,374.3 304.5,373.6 304.8,375.1 305.0,373.8 305.2,374.5 305.5,373.7 305.8,374.3 306.0,374.8 306.2,374.3 306.5,374.1 306.8,374.4 307.0,374.2 307.2,374.8 307.5,375.7 307.8,374.0 308.0,374.1 308.2,374.4 308.5,374.5 308.8,374.0 309.0,374.8 309.2,374.9 309.5,374.7 309.8,373.9 310.0,375.3 310.2,373.9 310.5,374.9 310.8,375.2 311.0,373.9 311.2,374.7 311.5,375.3 311.8,374.8 312.0,374.1 312.2,374.0 312.5,374.9 312.8,374.4 313.0,374.3 313.2,375.0 313.5,374.5 313.8,374.7 314.0,375.0 314.2,375.0 314.5,374.7 314.8,374.7 315.0,375.0 315.2,374.9 315.5,374.1 315.8,374.6 316.0,374.3 316.2,374.1 316.5,374.4 316.8,373.5 317.0,375.2 317.2,374.3 317.5,375.0 317.8,373.8 318.0,373.9 318.2,375.8 318.5,375.3 318.8,374.5 319.0,374.4 319.2,374.4 319.5,374.9 319.8,374.6 320.0,374.5 320.2,374.9 320.5,374.3 320.8,376.1 321.0,374.5 321.2,375.4 321.5,374.4 321.8,375.0 322.0,375.4 322.2,374.7 322.5,375.4 322.8,375.4 323.0,375.8 323.2,375.0 323.5,374.7 323.8,374.4 324.0,375.0 324.2,374.3 324.5,374.2 324.8,371.3 325.0,361.3 325.2,339.7 325.5,308.8 325.8,281.9 325.9,276.6 326.0,278.9 326.2,302.8 326.5,334.3 326.8,359.1 327.0,370.3 327.2,374.9 327.5,375.3 327.8,375.5 328.0,376.0 328.2,374.9 328.5,375.7 328.8,375.1 329.0,375.6 329.2,376.4 329.5,376.3 329.8,376.0 330.0,376.3 330.2,376.3 330.5,376.4 330.8,377.1 331.0,376.4 331.2,377.3 331.5,376.2 331.8,376.7 332.0,376.7 332.2,376.4 332.5,376.2 332.8,377.0 333.0,377.1 333.2,376.8 333.5,377.3 333.8,376.8 334.0,375.6 334.2,376.8 334.5,376.1 334.8,377.0 335.0,376.2 335.2,376.5 335.5,376.4 335.8,376.1 336.0,375.6 336.2,376.3 336.5,376.3 336.8,376.8 337.0,376.1 337.2,376.5 337.5,376.0 337.8,376.4 338.0,375.6 338.2,377.3 338.5,376.6 338.8,376.0 339.0,376.6 339.2,376.8 339.5,376.6 339.8,377.1 340.0,376.4 340.2,375.3 340.5,375.9 340.8,377.0 341.0,376.8 341.2,376.6 341.5,376.0 341.8,376.7 342.0,376.4 342.2,375.2 342.5,374.2 342.8,373.3 343.0,372.2 343.2,371.6 343.3,371.2 343.5,372.3 343.8,372.2 344.0,374.3 344.2,375.0 344.5,375.2 344.8,375.8 345.0,377.0 345.2,376.1 345.5,376.0 345.8,376.9 346.0,377.0 346.2,376.6 346.5,377.2 346.8,375.9 347.0,377.6 347.2,377.0 347.5,376.7 347.8,376.7 348.0,376.5 348.2,376.4 348.5,376.7 348.8,376.1 349.0,377.5 349.2,376.6 349.5,376.9 349.8,376.5 350.0,376.5 350.2,377.0 350.5,376.9 350.8,376.2 351.0,376.4 351.2,376.9 351.5,375.7 351.8,375.6 352.0,377.3 352.2,376.5 352.5,375.5 352.8,376.3 353.0,376.5 353.2,376.7 353.5,376.9 353.8,376.7 354.0,376.9 354.2,376.3 354.5,376.8 354.8,376.8 355.0,377.2 355.2,376.7 355.5,377.1 355.8,376.7 356.0,376.2 356.2,376.5 356.5,376.5 356.8,376.5 357.0,376.7 357.2,376.7 357.5,376.8 357.8,376.2 358.0,376.7 358.2,375.0 358.5,374.6 358.8,373.9 359.0,373.2 359.1,373.2 359.2,373.0 359.5,374.1 359.8,374.3 360.0,376.1 360.2,377.3 360.5,376.9 360.8,377.6 361.0,376.8 361.2,376.3 361.5,376.5 361.8,377.3 362.0,377.1 362.2,376.0 362.5,376.6 362.8,376.8 363.0,376.3 363.2,375.7 363.5,376.2 363.8,376.7 364.0,376.6 364.2,376.5 364.5,377.1 364.8,377.3 365.0,376.8 365.2,377.2 365.5,376.8 365.8,376.8 366.0,375.8 366.2,377.2 366.5,376.9 366.8,376.9 367.0,376.6 367.2,376.4 367.5,377.0 367.8,377.2 368.0,377.5 368.2,377.2 368.5,376.6 368.8,376.8 369.0,377.3 369.2,377.0 369.5,376.9 369.8,376.7 370.0,377.1 370.2,377.0 370.5,377.7 370.8,377.4 371.0,376.2 371.2,377.8 371.5,377.0 371.8,376.8 372.0,377.1 372.2,377.2 372.5,376.9 372.8,376.9 373.0,376.9 373.2,377.7 373.5,377.0 373.8,377.3 374.0,377.2 374.2,376.8 374.5,376.7 374.8,376.6 375.0,377.2 375.2,376.6 375.5,376.5 375.8,376.5 376.0,376.4 376.2,377.0 376.5,377.0 376.8,376.6 377.0,377.5 377.2,376.9 377.5,377.2 377.8,377.1 378.0,377.7 378.2,377.4 378.5,376.9 378.8,376.1 379.0,373.8 379.2,365.8 379.5,343.0 379.8,298.4 380.0,237.3 380.2,189.0 380.4,179.2 380.5,183.0 380.8,225.6 381.0,287.2 381.2,336.2 381.5,363.4 381.8,373.8 382.0,375.7 382.2,376.8 382.5,377.7 382.8,376.8 383.0,376.5 383.2,377.2 383.5,377.4 383.8,377.2 384.0,377.0 384.2,376.8 384.5,376.6 384.8,376.6 385.0,376.6 385.2,376.5 385.5,376.8 385.8,377.7 386.0,377.2 386.2,377.0 386.5,377.3 386.8,376.7 387.0,377.3 387.2,377.5 387.5,376.5 387.8,376.9 388.0,377.1 388.2,376.8 388.5,376.7 388.8,377.0 389.0,378.2 389.2,377.4 389.5,377.4 389.8,377.6 390.0,377.1 390.2,376.7 390.5,377.4 390.8,377.7 391.0,376.4 391.2,377.4 391.5,377.7 391.8,377.1 392.0,377.0 392.2,377.5 392.5,376.9 392.8,377.4 393.0,377.6 393.2,377.2 393.5,376.9 393.8,377.5 394.0,377.1 394.2,377.3 394.5,376.1 394.8,377.5 395.0,376.7 395.2,377.3 395.5,377.3 395.8,377.0 396.0,376.9 396.2,376.8 396.5,377.1 396.8,377.5 397.0,377.5 397.2,377.1 397.5,377.1 397.8,376.7 398.0,377.1 398.2,376.9 398.5,376.7 398.8,377.3 399.0,377.9 399.2,377.8 399.5,377.9 399.8,376.7 400.0,377.7 400.2,376.9 400.5,377.1 400.8,376.7 401.0,377.0 401.2,377.4 401.5,377.4 401.8,377.3 402.0,377.3 402.2,377.6 402.5,377.4 402.8,376.7 403.0,378.1 403.2,377.3 403.5,377.8 403.8,377.3 404.0,377.1 404.2,377.4 404.5,377.1 404.8,378.0 405.0,377.0 405.2,377.7 405.5,377.2 405.8,377.4 406.0,378.5 406.2,377.7 406.5,377.4 406.8,376.8 407.0,377.3 407.2,377.4 407.5,378.0 407.8,376.9 408.0,376.8 408.2,377.5 408.5,377.6 408.8,378.1 409.0,377.1 409.2,376.4 409.5,377.2 409.8,377.0 410.0,377.3 410.2,377.9 410.5,377.0 410.8,378.0 411.0,377.6 411.2,377.4 411.5,377.2 411.8,377.3 412.0,377.4 412.2,377.8 412.5,378.0 412.8,377.5 413.0,377.8 413.2,378.0 413.5,378.0 413.8,377.7 414.0,378.2 414.2,378.0 414.5,378.2 414.8,377.4 415.0,377.4 415.2,376.7 415.5,378.1 415.8,377.8 416.0,377.2 416.2,377.6 416.5,377.7 416.8,376.9 417.0,377.7 417.2,378.0 417.5,378.0 417.8,377.4 418.0,377.4 418.2,378.1 418.5,377.9 418.8,377.3 419.0,377.3 419.2,377.8 419.5,377.3 419.8,377.3 420.0,378.2 420.2,377.7 420.5,377.4 420.8,377.8 421.0,378.4 421.2,377.7 421.5,377.3 421.8,376.9 422.0,378.4 422.2,376.5 422.5,378.0 422.8,377.2 423.0,377.1 423.2,377.2 423.5,377.5 423.8,378.0 424.0,377.3 424.2,377.8 424.5,378.5 424.8,376.5 425.0,377.3 425.2,376.9 425.5,377.9 425.8,377.0 426.0,376.9 426.2,377.0 426.5,377.6 426.8,378.0 427.0,377.6 427.2,378.4 427.5,378.2 427.8,377.5 428.0,377.9 428.2,377.6 428.5,377.6 428.8,376.8 429.0,377.1 429.2,377.6 429.5,377.1 429.8,377.9 430.0,377.7 430.2,377.2 430.5,378.1 430.8,377.7 431.0,378.1 431.2,377.5 431.5,377.0 431.8,377.9 432.0,377.5 432.2,377.9 432.5,378.0 432.8,378.1 433.0,377.0 433.2,376.7 433.5,377.4 433.8,377.9 434.0,377.3 434.2,377.7 434.5,377.3 434.8,377.5 435.0,377.5 435.2,377.4 435.5,377.8 435.8,377.7 436.0,378.0 436.2,376.5 436.5,372.2 436.8,356.3 437.0,318.5 437.2,248.4 437.5,159.1 437.8,90.7 437.9,77.2 438.0,83.2 438.2,142.0 438.5,230.6 438.8,306.4 439.0,351.0 439.2,369.2 439.5,376.4 439.8,376.7 440.0,377.8 440.2,378.7 440.5,376.6 440.8,377.0 441.0,378.0 441.2,377.6 441.5,377.7 441.8,377.6 442.0,378.2 442.2,377.9 442.5,377.5 442.8,377.6 443.0,377.2 443.2,377.6 443.5,376.7 443.8,377.9 444.0,377.5 444.2,378.4 444.5,378.1 444.8,377.1 445.0,378.0 445.2,377.5 445.5,377.7 445.8,378.1 446.0,377.8 446.2,377.9 446.5,377.8 446.8,377.4 447.0,377.4 447.2,377.9 447.5,378.0 447.8,377.6 448.0,377.7 448.2,377.3 448.5,376.7 448.8,377.4 449.0,377.7 449.2,377.7 449.5,378.0 449.8,378.0 450.0,378.1 450.2,377.8 450.5,377.8 450.8,377.4 451.0,377.8 451.2,377.8 451.5,378.2 451.8,377.1 452.0,377.5 452.2,377.0 452.5,377.4 452.8,377.1 453.0,377.8 453.2,377.4 453.5,376.7 453.8,378.2 454.0,377.3 454.2,377.1 454.5,377.6 454.8,377.4 455.0,377.2 455.2,378.0 455.5,377.6 455.8,378.1 456.0,378.0 456.2,378.0 456.5,377.8 456.8,377.7 457.0,377.6 457.2,378.3 457.5,377.0 457.8,377.3 458.0,377.5 458.2,377.9 458.5,377.8 458.8,377.5 459.0,377.6 459.2,378.4 459.5,377.5 459.8,376.6 460.0,378.5 460.2,377.4 460.5,377.6 460.8,377.8 461.0,377.2 461.2,378.2 461.5,377.7 461.8,377.2 462.0,377.8 462.2,377.9 462.5,377.7 462.8,377.9 463.0,377.2 463.2,378.1 463.5,377.4 463.8,378.2 464.0,377.5 464.2,377.8 464.5,378.8 464.8,377.8 465.0,378.2 465.2,377.9 465.5,377.2 465.8,378.2 466.0,378.2 466.2,377.2 466.5,377.7 466.8,377.2 467.0,377.7 467.2,378.1 467.5,377.8 467.8,377.3 468.0,377.4 468.2,377.8 468.5,377.8 468.8,377.8 469.0,378.0 469.2,377.1 469.5,377.8 469.8,378.2 470.0,378.0 470.2,377.5 470.5,377.6 470.8,377.9 471.0,378.1 471.2,377.8 471.5,378.5 471.8,378.3 472.0,377.5 472.2,378.0 472.5,377.6 472.8,377.2 473.0,377.2 473.2,377.2 473.5,376.1 473.8,376.3 474.0,376.3 474.2,375.6 474.5,375.6 474.8,376.2 475.0,376.1 475.2,376.6 475.5,377.7 475.8,377.3 476.0,377.6 476.2,377.8 476.5,378.4 476.8,377.9 477.0,377.9 477.2,377.8 477.5,378.3 477.8,377.6 478.0,378.3 478.2,377.9 478.5,377.4 478.8,378.1 479.0,378.1 479.2,377.5 479.5,378.0 479.8,378.0 480.0,377.8 480.2,377.5 480.5,378.7 480.8,378.2 481.0,378.3 481.2,378.3 481.5,378.2 481.8,378.2 482.0,377.8 482.2,378.2 482.5,377.8 482.8,377.7 483.0,378.2 483.2,377.8 483.5,377.3 483.8,377.8 484.0,378.1 484.2,377.9 484.5,378.2 484.8,377.8 485.0,377.6 485.2,378.2 485.5,378.0 485.8,377.5 486.0,378.1 486.2,377.8 486.5,378.3 486.8,378.2 487.0,378.1 487.2,377.1 487.5,378.1 487.8,378.1 488.0,378.1 488.2,378.0 488.5,377.7 488.8,377.9 489.0,377.2 489.2,377.9 489.5,377.4 489.8,377.8 490.0,377.7 490.2,378.5 490.5,378.0 490.8,378.0 491.0,378.0 491.2,378.6 491.5,377.3 491.8,377.3 492.0,376.8 492.2,376.3 492.4,376.2 492.5,376.0 492.8,377.0 493.0,377.4 493.2,377.4 493.5,377.7 493.8,378.0 494.0,378.2 494.2,378.3 494.5,378.0 494.8,377.5 495.0,378.3 495.2,377.4 495.5,377.7 495.8,378.1 496.0,377.7 496.2,378.5 496.5,378.6 496.8,378.4 497.0,378.1 497.2,378.1 497.5,378.2 497.8,378.0 498.0,378.8 498.2,377.8 498.5,378.5 498.8,378.2 499.0,378.1 499.2,378.4 499.5,378.5 499.8,378.4 500.0,378.0 500.2,377.8 500.5,377.8 500.8,378.4 501.0,378.3 501.2,378.3 501.5,377.8 501.8,378.7 502.0,377.6 502.2,378.2 502.5,378.3 502.8,377.9 503.0,377.7 503.2,377.9 503.5,377.6 503.8,378.0 504.0,377.6 504.2,377.6 504.5,378.1 504.8,377.5 505.0,378.0 505.2,378.0 505.5,378.4 505.8,378.1 506.0,377.8 506.2,378.5 506.5,377.8 506.8,377.9 507.0,377.9 507.2,378.8 507.5,378.1 507.8,377.8 508.0,378.3 508.2,378.0 508.5,378.9 508.8,377.8 509.0,378.3 509.2,377.8 509.5,378.7 509.8,377.8 510.0,378.2 510.2,377.8 510.5,378.4 510.8,378.3 511.0,377.3 511.2,378.4 511.5,378.3 511.8,378.2 512.0,378.4 512.2,377.7 512.5,377.5 512.8,378.3 513.0,378.7 513.2,377.7 513.5,377.7 513.8,377.8 514.0,377.7 514.2,378.4 514.5,378.2 514.8,378.6 515.0,378.6 515.2,377.8 515.5,378.3 515.8,377.3 516.0,378.1 516.2,378.3 516.5,377.8 516.8,377.5 517.0,377.9 517.2,378.5 517.5,378.0 517.8,377.6 518.0,378.3 518.2,378.4 518.5,377.8 518.8,378.1 519.0,378.5 519.2,378.3 519.5,378.4 519.8,378.0 520.0,378.1 520.2,377.7 520.5,377.9 520.8,378.7 521.0,378.0 521.2,377.8 521.5,378.0 521.8,377.8 522.0,378.3 522.2,378.5 522.5,377.8 522.8,378.5 523.0,378.9 523.2,377.8 523.5,378.4 523.8,378.3 524.0,378.6 524.2,378.6 524.5,378.6 524.8,378.3 525.0,378.0 525.2,379.0 525.5,377.9 525.8,378.6 526.0,378.5 526.2,377.9 526.5,378.2 526.8,378.7 527.0,377.5 527.2,378.5 527.5,378.1 527.8,378.1 528.0,377.7 528.2,378.3 528.5,377.8 528.8,378.4 529.0,377.8 529.2,378.5 529.5,378.3 529.8,377.5 530.0,378.1 530.2,378.2 530.5,377.4 530.8,378.1 531.0,378.5 531.2,378.0 531.5,378.6 531.8,377.8 532.0,377.8 532.2,378.4 532.5,378.4 532.8,378.2 533.0,378.2 533.2,378.6 533.5,378.0 533.8,378.9 534.0,378.4 534.2,378.4 534.5,378.3 534.8,378.1 535.0,378.7 535.2,378.0 535.5,378.3 535.8,378.5 536.0,378.7 536.2,378.6 536.5,378.1 536.8,378.6 537.0,378.2 537.2,377.9 537.5,377.9 537.8,377.7 538.0,378.4 538.2,378.6 538.5,377.9 538.8,378.2 539.0,377.9 539.2,378.3 539.5,377.9 539.8,378.0 540.0,378.0 540.2,378.1 540.5,378.1 540.8,378.2 541.0,378.2 541.2,377.9 541.5,378.3 541.8,377.4 542.0,377.8 542.2,377.3 542.5,377.5 542.8,377.7 543.0,377.1 543.2,378.1 543.5,378.6 543.8,378.5 544.0,378.4 544.2,377.6 544.5,378.2 544.8,378.0 545.0,378.6 545.2,378.2 545.5,378.1 545.8,377.7 546.0,378.5 546.2,378.1 546.5,378.2 546.8,378.7 547.0,378.3 547.2,378.4 547.5,379.1 547.8,378.1 548.0,378.1 548.2,378.5 548.5,378.8 548.8,377.8 549.0,378.2 549.2,378.0 549.5,377.9 549.8,378.5 550.0,378.1 550.2,378.4 550.5,378.4 550.8,378.4 551.0,378.3 551.2,378.0 551.5,378.3 551.8,378.4 552.0,378.4 552.2,378.2 552.5,378.6 552.8,378.5 553.0,378.4 553.2,378.5 553.5,378.4 553.8,378.6 554.0,377.7 554.2,377.9 554.5,378.2 554.8,378.4 555.0,377.6 555.2,378.3 555.5,378.4 555.8,378.3 556.0,378.3 556.2,377.9 556.5,378.4 556.8,377.7 557.0,378.7 557.2,378.2 557.5,378.7 557.8,377.8 558.0,378.5 558.2,378.4 558.5,378.1 558.8,378.0 559.0,378.8 559.2,378.5 559.5,378.9 559.8,378.4 560.0,378.4 560.2,378.5 560.5,378.6 560.8,378.5 561.0,378.7 561.2,378.2 561.5,377.9 561.8,379.0 562.0,378.5 562.2,378.6 562.5,378.3 562.8,378.7 563.0,378.5 563.2,378.8 563.5,378.2 563.8,378.4 564.0,378.5 564.2,378.3 564.5,378.5 564.8,378.9 565.0,378.2 565.2,378.3 565.5,378.5 565.8,378.1 566.0,378.0 566.2,378.8 566.5,378.7 566.8,377.9 567.0,378.0 567.2,378.7 567.5,378.8 567.8,378.5 568.0,378.3 568.2,378.5 568.5,377.9 568.6,378.3 568.8,378.3 569.0,377.8 569.2,378.4 569.5,378.4 569.8,378.2 570.0,378.2 570.2,378.6 570.5,378.5 570.8,378.7 571.0,377.9 571.2,378.3 571.5,378.8 571.8,378.5 572.0,378.2 572.2,378.3 572.5,377.9 572.8,378.0 573.0,378.7 573.2,378.5 573.5,378.9 573.8,378.3 574.0,378.2 574.2,377.2 574.5,377.8 574.8,378.3 575.0,377.7 575.2,377.5 575.5,378.2 575.8,378.3 576.0,378.4 576.2,378.3 576.5,378.5 576.8,378.8 577.0,378.3 577.2,378.7 577.5,378.7 577.8,379.0 578.0,378.8 578.2,378.3 578.5,379.0 578.8,378.6 579.0,378.3 579.2,378.7 579.5,378.5 579.8,378.9 580.0,378.1 580.2,378.2 580.5,378.5 580.8,379.1 581.0,378.9 581.2,378.2 581.5,378.0 581.8,378.5 582.0,378.2 582.2,378.8 582.5,378.6 582.8,378.6 583.0,378.4 583.2,379.1 583.5,378.3 583.8,378.2 584.0,378.9 584.2,379.0 584.5,378.5 584.8,378.8 585.0,379.3 585.2,378.3 585.5,378.5 585.8,378.7 586.0,377.9 586.2,378.6 586.5,378.8 586.8,378.6 587.0,378.9 587.2,378.8 587.5,378.5 587.8,378.8 588.0,378.8 588.2,378.1 588.5,378.4 588.8,378.4 589.0,378.5 589.2,378.5 589.5,378.2 589.8,378.6 590.0,378.1 590.2,378.9 590.5,378.7 590.8,379.1 591.0,378.7 591.2,378.5 591.5,378.2 591.8,378.9 592.0,378.6 592.2,378.8 592.5,378.9 592.8,379.0 593.0,378.6 593.2,379.2 593.5,378.6 593.8,378.7 594.0,378.9 594.2,379.0 594.5,379.1 594.8,378.1 595.0,379.1 595.2,378.2 595.5,378.5 595.8,378.8 596.0,379.0 596.2,378.4 596.5,378.2 596.8,379.0 597.0,378.8 597.2,378.4 597.5,378.6 597.8,378.1 598.0,378.9 598.2,378.5 598.5,379.1 598.8,378.1 599.0,378.9 599.2,379.4 599.5,378.8 599.8,378.8 600.0,378.1 600.2,378.8 600.5,378.7 600.8,378.5 601.0,378.3 601.2,378.8 601.5,378.4 601.8,378.6 602.0,378.8 602.2,378.7 602.5,378.7 602.8,379.0 603.0,378.4 603.2,379.2 603.5,378.4 603.8,378.5 604.0,378.8 604.2,379.0 604.5,378.8 604.8,378.6 605.0,378.5 605.2,378.7 605.5,378.5 605.8,378.9 606.0,378.7 606.2,379.2 606.5,378.6 606.8,378.7 607.0,378.9 607.2,378.4 607.5,378.6 607.8,379.6 608.0,378.8 608.2,379.2 608.5,378.5 608.8,378.1 609.0,379.0 609.2,378.8 609.5,378.9 609.8,378.7 610.0,378.6 610.2,378.4 610.5,379.1 610.8,378.4 611.0,379.1 611.2,378.7 611.5,378.5 611.8,378.6 612.0,379.1 612.2,379.0 612.5,379.0 612.8,378.9 613.0,378.5 613.2,379.2 613.5,378.7 613.8,378.7 614.0,378.7 614.2,378.7 614.5,378.4 614.8,378.7 615.0,378.6 615.2,378.7 615.5,378.3 615.8,379.4 616.0,378.5 616.2,378.9 616.5,379.0 616.8,379.2 617.0,379.4 617.2,379.0 617.5,379.1 617.8,378.7 618.0,379.3 618.2,378.5 618.5,378.8 618.8,379.0 619.0,379.1 619.2,379.1 619.5,379.2 619.8,379.1 620.0,378.9 620.2,379.0 620.5,379.3 620.8,379.0 621.0,379.2 621.2,378.9 621.5,378.4 621.8,378.7 622.0,379.0 622.2,379.4 622.5,379.3 622.8,379.4 623.0,378.7 623.2,379.1 623.5,378.9 623.8,379.1 624.0,378.9 624.2,378.5 624.5,379.1 624.8,379.0 625.0,379.1 625.2,378.7 625.5,379.2 625.8,379.2 626.0,379.3 626.2,379.3 626.5,378.8 626.8,378.2 627.0,379.2 627.2,378.7 627.5,378.9 627.8,379.2 628.0,379.0 628.2,379.0 628.5,379.1 628.8,378.4 629.0,379.5 629.2,378.8 629.5,378.8 629.8,379.1 630.0,378.9 630.2,378.7 630.5,378.9 630.8,378.8 631.0,378.7 631.2,379.5 631.5,378.5 631.8,378.3 632.0,378.7 632.2,378.7 632.5,379.3 632.8,379.0 633.0,379.2 633.2,379.1 633.5,378.7 633.8,379.2 634.0,379.0 634.2,379.5 634.5,379.0 634.8,378.9 635.0,379.2 635.2,379.2 635.5,378.4 635.8,379.3 636.0,379.3 636.2,379.2 636.5,378.6 636.8,378.4 637.0,378.9 637.2,379.2 637.5,379.1 637.8,378.7 638.0,379.2 638.2,378.5 638.5,378.6 638.8,378.9 639.0,378.8 639.2,378.8 639.5,378.5 639.8,379.3 640.0,378.6 640.2,379.1 640.5,379.2 640.8,378.9 641.0,379.0 641.2,379.3 641.5,379.4 641.8,379.2 642.0,378.6 642.2,378.4 642.5,378.8 642.8,378.6 643.0,379.1 643.2,379.0 643.5,378.9 643.8,379.3 644.0,379.3 644.2,379.0 644.5,379.1 644.8,379.3 645.0,378.9 645.2,379.1 645.5,378.7 645.8,379.0 646.0,379.1 646.2,379.0 646.5,379.0 646.8,379.2 647.0,379.1 647.2,378.8 647.5,378.8 647.8,378.6 648.0,379.5 648.2,379.1 648.5,379.1 648.8,378.9 649.0,379.1 649.2,379.1 649.5,378.8 649.8,378.9 650.0,379.3 650.2,378.6 650.5,378.7 650.8,379.2 651.0,378.8 651.2,379.2 651.5,378.7 651.8,379.1 652.0,379.2 652.2,379.1 652.5,379.2 652.8,379.0 653.0,379.0 653.2,379.0 653.5,379.2 653.8,380.0 654.0,379.0 654.2,379.5 654.5,378.9 654.8,378.7 655.0,378.9 655.2,379.1 655.5,379.1 655.8,379.1 656.0,379.2 656.2,379.2 656.5,379.3 656.8,378.7 657.0,379.0 657.2,378.8 657.5,379.1 657.8,379.0 658.0,379.1 658.2,378.9 658.5,378.8 658.8,379.0 659.0,379.2 659.2,379.2 659.5,378.6 659.8,379.1 660.0,379.1 660.2,378.6 660.5,378.7 660.8,378.9 661.0,379.1 661.2,378.4 661.5,378.9 661.8,378.9 662.0,379.1 662.2,379.4 662.5,379.4 662.8,378.9 663.0,378.9 663.2,379.1 663.5,379.4 663.8,379.4 664.0,379.1 664.2,379.5 664.5,378.8 664.8,378.7 665.0,378.3 665.2,378.8 665.5,379.2 665.8,379.3 666.0,380.0 666.2,379.2 666.5,379.1 666.8,378.8 667.0,378.9 667.2,378.9 667.5,379.0 667.8,378.9 668.0,378.7 668.2,379.3 668.5,379.1 668.8,379.3 669.0,378.4 669.2,378.2 669.5,378.1 669.8,378.4 670.0,378.0 670.2,378.2 670.5,378.3 670.8,378.6 671.0,378.7 671.2,379.1 671.5,378.8 671.8,379.0 672.0,379.1 672.2,379.1 672.5,379.2 672.8,378.9 673.0,379.2 673.2,379.0 673.5,379.2 673.8,379.5 674.0,378.8 674.2,379.4 674.5,378.9 674.8,379.0 675.0,379.5 675.2,379.3 675.5,379.2 675.8,379.3 676.0,379.4 676.2,378.9 676.5,379.2 676.8,379.0 677.0,379.2 677.2,379.0 677.5,379.3 677.8,379.1 678.0,378.9 678.2,379.1 678.5,379.2 678.8,379.4 679.0,379.1 679.2,379.0 679.5,379.2 679.8,379.3 680.0,379.0 680.2,378.4 680.5,379.2 680.8,379.0 681.0,379.0 681.2,379.8 681.5,379.1 681.8,379.3 682.0,378.7 682.2,379.2 682.5,379.3 682.8,379.2 683.0,379.1 683.2,379.3 683.5,379.1 683.8,379.5 684.0,379.2 684.2,378.9 684.5,378.6 684.8,378.9 685.0,379.0 685.2,378.8 685.5,378.8 685.8,378.7 686.0,378.8 686.2,379.2 686.5,379.1 686.8,379.1 687.0,379.0 687.2,379.1 687.5,379.3 687.8,379.7 688.0,379.3 688.2,379.7 688.5,379.1 688.8,379.1 689.0,379.6 689.2,378.9 689.5,378.9 689.8,379.1 690.0,378.7 690.2,378.6 690.5,379.5 690.8,378.9 691.0,379.0 691.2,379.0 691.5,378.9 691.8,379.3 692.0,379.3 692.2,379.4 692.5,379.3 692.8,379.2 693.0,379.5 693.2,379.4 693.5,379.0 693.8,379.2 694.0,379.0 694.2,379.7 694.5,379.4 694.8,379.3 695.0,379.1 695.2,379.3 695.5,378.9 695.8,379.2 696.0,379.1 696.2,379.2 696.5,379.0 696.8,379.3 697.0,378.9 697.2,379.0 697.5,379.0 697.8,378.5 698.0,376.7 698.2,371.3 698.5,358.6 698.8,333.9 699.0,295.6 699.2,251.3 699.5,216.1 699.7,206.5 699.8,207.7 700.0,227.8 700.2,269.0 700.5,312.8 700.8,345.7 701.0,365.4 701.2,373.8 701.5,377.6 701.8,379.3 702.0,379.0 702.2,379.3 702.5,378.7 702.8,379.5 703.0,379.8 703.2,379.2 703.5,379.3 703.8,379.3 704.0,379.7 704.2,379.1 704.5,378.7 704.8,379.7 705.0,378.9 705.2,379.3 705.5,378.6 705.8,379.1 706.0,379.2 706.2,378.9 706.5,379.0 706.8,379.3 707.0,379.0 707.2,379.3 707.5,379.7 707.8,378.7 708.0,379.3 708.2,379.4 708.5,379.1 708.8,379.6 709.0,379.6 709.2,379.3 709.5,379.3 709.8,379.2 710.0,378.9 710.2,379.3 710.5,379.1 710.8,379.0 711.0,379.5 711.2,379.1 711.5,379.5 711.8,378.9 712.0,379.1 712.2,379.2 712.5,379.6 712.8,379.2 713.0,379.4 713.2,379.0 713.5,379.2 713.8,379.4 714.0,379.0 714.2,379.0 714.5,379.4 714.8,378.9 715.0,379.3 715.2,379.3 715.5,379.2 715.8,379.4 716.0,379.3 716.2,379.3 716.5,378.8 716.8,378.8 717.0,379.3 717.2,378.8 717.5,379.2 717.8,379.1 718.0,379.0 718.2,379.2 718.5,378.6 718.8,379.2 719.0,379.5 719.2,378.9 719.5,379.3 719.8,379.3 720.0,380.0 720.2,379.0 720.5,379.0 720.8,379.0 721.0,379.0 721.2,378.8 721.5,379.3 721.8,379.0 722.0,379.4 722.2,379.3 722.5,379.0 722.8,379.1 723.0,379.6 723.2,379.2 723.5,379.3 723.8,379.5 724.0,379.1 724.2,379.4 724.5,379.7 724.8,379.5 725.0,378.8 725.2,379.6 725.5,379.2 725.8,379.1 726.0,379.1 726.2,379.6 726.5,379.3 726.8,379.2 727.0,379.1 727.2,379.4 727.5,379.6 727.8,379.0 728.0,379.0 728.2,379.2 728.5,379.4 728.8,379.2 729.0,379.2 729.2,379.0 729.5,379.6 729.8,379.2 730.0,379.3 730.2,379.6 730.5,379.2 730.8,379.3 731.0,379.4 731.2,379.2 731.5,379.6 731.8,379.3 732.0,379.2 732.2,379.2 732.5,379.0 732.8,379.6 733.0,379.7 733.2,379.2 733.5,379.2 733.8,378.7 734.0,379.1 734.2,379.5 734.5,379.1 734.8,379.5 735.0,379.7 735.2,378.6 735.5,379.2 735.8,379.1 736.0,379.1 736.2,378.8 736.5,379.2 736.8,379.0 737.0,379.6 737.2,379.6 737.5,378.9 737.8,378.9 738.0,379.2 738.2,379.2 738.5,379.3 738.8,379.5 739.0,378.9 739.2,379.1 739.5,379.2 739.8,379.2 740.0,379.0 740.2,379.2 740.5,379.1 740.8,379.6 741.0,379.2 741.2,378.7 741.5,379.4 741.8,379.3 742.0,379.1 742.2,379.1 742.5,379.1 742.8,379.7 743.0,379.2 743.2,379.6 743.5,379.5 743.8,379.2 744.0,379.4 744.2,379.1 744.5,378.5 744.8,379.1 745.0,379.1 745.2,379.5 745.5,379.5 745.8,379.6 746.0,379.4 746.2,379.6 746.5,379.5 746.8,379.4 747.0,379.6 747.2,379.7 747.5,379.7 747.8,379.2 748.0,379.3 748.2,379.1 748.5,379.0 748.8,379.4 749.0,379.1 749.2,379.7 749.5,378.7 749.8,379.0 750.0,379.4 750.2,379.6 750.5,379.2 750.8,379.8 751.0,379.5 751.2,379.1 751.5,379.3 751.8,379.4 752.0,379.1 752.2,379.6 752.5,379.2 752.8,379.4 753.0,379.5 753.2,379.2 753.5,379.6 753.8,378.8 754.0,379.5 754.2,378.8 754.5,379.5 754.8,379.0 755.0,379.2 755.2,378.7 755.5,377.6 755.8,376.6 756.0,376.1 756.2,374.8 756.5,375.0 756.8,375.0 757.0,375.7 757.2,376.6 757.5,378.1 757.8,378.0 758.0,378.7 758.2,379.2 758.5,379.5 758.8,379.7 759.0,379.7 759.2,379.2 759.5,379.4 759.8,379.6 760.0,379.5 760.2,378.9 760.5,379.4 760.8,379.5 761.0,379.0 761.2,379.2 761.5,379.3 761.8,379.5 762.0,379.7 762.2,379.6 762.5,379.4 762.8,379.4 763.0,379.2 763.2,379.2 763.5,379.3 763.8,379.3 764.0,379.6 764.2,379.9 764.5,379.5 764.8,379.6 765.0,379.5 765.2,379.4 765.5,379.6 765.8,379.6 766.0,379.4 766.2,379.3 766.5,379.5 766.8,379.2 767.0,379.4 767.2,379.6 767.5,379.3 767.8,378.9 768.0,379.5 768.2,379.0 768.5,379.0 768.8,379.0 769.0,379.5 769.2,378.8 769.5,379.3 769.8,379.4 770.0,379.4 770.2,379.2 770.5,379.3 770.8,379.4 771.0,379.0 771.2,379.5 771.5,379.6 771.8,379.1 772.0,379.2 772.2,379.1 772.5,379.6 772.8,379.1 773.0,379.2 773.2,378.9 773.5,379.7 773.8,379.3 774.0,379.4 774.2,379.7 774.5,379.5 774.8,379.1 775.0,379.5 775.2,379.5 775.5,379.1 775.8,379.1 776.0,379.1 776.2,379.5 776.5,379.4 776.8,379.1 777.0,379.5 777.2,379.5 777.5,379.1 777.8,379.0 778.0,379.6 778.2,380.0 778.5,379.7 778.8,379.6 779.0,379.4 779.2,379.2 779.5,379.4 779.8,379.5 780.0,379.3 780.2,379.6 780.5,379.4 780.8,379.5 781.0,378.7 781.2,379.1 781.5,379.6 781.8,379.6 782.0,379.5 782.2,379.8 782.5,379.5 782.8,379.5 783.0,379.1 783.2,379.5 783.5,379.6 783.8,379.7 784.0,379.6 784.2,379.4 784.5,379.4 784.8,379.1 785.0,379.5 785.2,379.1 785.5,379.3 785.8,379.4 786.0,379.9 786.2,379.7 786.5,379.2 786.8,379.0 787.0,379.3 787.2,379.2 787.5,379.5 787.8,379.5 788.0,379.5 788.2,379.1 788.5,379.3 788.8,379.4 789.0,379.4 789.2,379.2 789.5,379.3 789.8,379.6 790.0,378.9 790.2,379.3 790.5,379.4 790.8,379.0 791.0,379.1 791.2,379.4 791.5,379.2 791.8,379.6 792.0,379.5 792.2,379.9 792.5,379.0 792.8,379.8 793.0,379.1 793.2,379.3 793.5,379.1 793.8,378.6 794.0,378.2 794.2,378.0 794.3,377.7 794.5,378.1 794.8,378.2 795.0,378.9 795.2,378.8 795.5,379.2 795.8,379.4 796.0,379.4 796.2,379.4 796.5,379.3 796.8,379.3 797.0,379.5 797.2,379.6 797.5,379.2 797.8,379.8 798.0,379.5 798.2,379.0 798.5,380.0 798.8,379.5 799.0,379.2 799.2,379.8 799.5,378.7 799.8,380.0 800.0,379.0 800.2,379.0 800.5,379.1 800.8,379.4 801.0,379.3 801.2,379.6 801.5,379.2 801.8,379.7 802.0,379.4 802.2,379.1 802.5,379.7 802.8,379.5 803.0,379.3 803.2,379.7 803.5,379.1 803.8,379.3 804.0,379.8 804.2,379.4 804.5,379.6 804.8,379.5 805.0,379.4 805.2,379.6 805.5,379.1 805.8,379.6 806.0,379.1 806.2,379.4 806.5,379.2 806.8,379.5 807.0,379.5 807.2,379.7 807.5,379.2 807.8,379.2 808.0,378.9 808.2,379.1 808.5,379.3 808.8,379.4 809.0,379.3 809.2,379.4 809.5,379.0 809.8,379.2 810.0,379.6 810.2,379.6 810.5,379.0 810.8,379.3 811.0,379.3 811.2,378.8 811.5,379.0 811.8,378.8 812.0,378.7 812.2,379.0 812.2,378.3 812.5,378.9 812.8,378.9 813.0,379.2 813.2,379.0 813.5,379.3 813.8,379.4 814.0,379.8 814.2,379.4 814.5,379.8 814.8,379.3 815.0,379.3 815.2,379.4 815.5,378.9 815.8,379.3 816.0,379.2 816.2,379.4 816.5,379.4 816.8,379.2 817.0,379.1 817.2,379.7 817.5,379.1 817.8,379.3 818.0,379.2 818.2,379.3 818.5,379.7 818.8,379.7 819.0,379.0 819.2,379.3 819.5,379.7 819.8,379.3 820.0,379.5 820.2,379.9 820.5,380.0 820.8,379.8 821.0,379.3 821.2,379.4 821.5,379.5 821.8,379.3 822.0,379.3 822.2,379.9 822.5,379.5 822.8,379.6 823.0,379.7 823.2,379.5 823.5,379.4 823.8,379.5 824.0,379.8 824.2,379.5 824.5,378.9 824.8,379.7 825.0,379.8 825.2,379.3 825.5,379.3 825.8,379.3 826.0,379.7 826.2,379.2 826.5,379.6 826.8,379.7 827.0,379.6 827.2,379.4 827.5,379.2 827.8,379.3 828.0,379.4 828.2,379.2 828.5,379.4 828.8,379.2 829.0,379.8 829.2,379.8 829.5,379.2 829.8,379.7 830.0,379.5 830.2,379.4 830.5,379.5 830.8,379.5 831.0,379.1 831.2,380.0 831.5,379.2 831.8,378.9 832.0,379.4 832.2,379.4 832.5,379.2 832.8,379.0 833.0,379.7 833.2,379.4 833.5,379.4 833.8,379.2 834.0,379.2 834.2,378.9 834.5,379.0 834.7,378.9 834.8,379.1 835.0,379.1 835.2,379.2 835.5,379.3 835.8,379.6 836.0,379.0 836.2,379.4 836.5,379.8 836.8,379.2 837.0,379.6 837.2,379.3 837.5,379.4 837.8,379.4 838.0,379.4 838.2,379.6 838.5,379.4 838.8,378.9 839.0,380.0 839.2,379.4 839.5,379.3 839.8,379.7 840.0,379.8 840.2,378.9 840.5,379.5 840.8,378.9 841.0,379.3 841.2,379.4 841.5,379.3 841.8,379.3 842.0,379.1 842.2,379.3 842.5,379.4 842.8,379.4 843.0,379.1 843.2,379.2 843.5,379.7 843.8,379.6 844.0,379.3 844.2,379.5 844.5,379.4 844.8,379.4 845.0,379.1 845.2,378.8 845.4,378.7 845.5,378.9 845.8,378.5 846.0,379.2 846.2,378.5 846.5,379.1 846.8,379.3 847.0,379.6 847.2,380.1 847.5,379.5 847.8,379.4 848.0,379.0 848.2,379.8 848.5,379.0 848.8,379.5 849.0,379.3 849.2,380.0 849.5,379.4 849.8,379.5 850.0,379.3 850.2,379.4 850.5,379.7 850.8,379.2 851.0,379.3 851.2,379.3 851.5,379.2 851.8,379.2 852.0,379.4 852.2,379.8 852.5,379.8 852.8,379.1 853.0,379.3 853.2,379.4 853.5,379.5 853.8,379.4 854.0,379.4 854.2,379.5 854.5,379.6 854.8,378.9 855.0,379.4 855.2,379.6 855.5,379.8 855.8,379.6 856.0,379.3 856.2,379.3 856.5,379.5 856.8,379.4 857.0,379.5 857.2,379.7 857.5,379.1 857.8,379.4 858.0,378.9 858.2,379.6 858.5,379.5 858.8,379.2 859.0,379.5 859.2,379.6 859.5,379.3 859.8,378.6 860.0,377.7 860.2,376.4 860.5,374.1 860.8,371.7 861.0,369.5 861.2,367.8 861.5,367.2 861.8,367.6 862.0,369.3 862.2,371.9 862.5,374.3 862.8,376.5 863.0,378.1 863.2,378.9 863.5,378.9 863.8,379.2 864.0,379.0 864.2,379.4 864.5,379.2 864.8,379.1 865.0,379.2 865.2,379.6 865.5,379.5 865.8,379.4 866.0,379.7 866.2,379.3 866.5,379.2 866.8,379.6 867.0,379.0 867.2,379.5 867.5,379.5 867.8,379.5 868.0,379.6 868.2,379.4 868.5,379.5 868.8,379.1 869.0,379.3 869.2,379.3 869.5,379.5 869.8,379.8 870.0,379.5 870.2,379.7 870.5,379.2 870.8,379.5 871.0,379.1 871.2,379.3 871.5,379.3 871.8,379.4 872.0,379.4 872.2,379.3 872.5,379.2 872.8,379.6 873.0,379.3 873.2,378.8 873.5,379.5 873.8,379.5 874.0,379.6 874.2,379.8 874.5,379.2 874.8,379.5 875.0,379.4 875.2,379.0 875.5,378.9 875.8,379.7 876.0,379.2 876.2,379.3 876.5,379.4 876.8,379.4 877.0,379.5 877.2,379.1 877.5,379.3 877.8,379.3 878.0,378.9 878.2,378.6 878.5,378.2 878.8,377.6 879.0,376.8 879.2,377.0 879.2,377.1 879.5,377.6 879.8,378.0 880.0,378.7 880.2,378.9 880.5,379.2 880.8,379.9 881.0,379.4 881.2,379.3 881.5,379.4 881.8,379.7 882.0,379.2 882.2,379.6 882.5,379.8 882.8,379.7 883.0,379.5 883.2,379.2 883.5,379.2 883.8,379.4 884.0,379.8 884.2,379.6 884.5,379.7 884.8,379.5 885.0,379.9 885.2,379.5 885.5,379.3 885.8,379.5 886.0,379.4 886.2,379.7 886.5,379.8 886.8,379.6 887.0,379.2 887.2,379.2 887.5,379.6 887.8,379.2 888.0,379.6 888.2,379.1 888.5,379.4 888.8,379.6 889.0,379.3 889.2,379.7 889.5,379.7 889.8,379.8 890.0,379.4 890.2,379.5 890.5,379.5 890.8,379.6 891.0,379.2 891.2,379.6 891.5,379.7 891.8,379.2 892.0,379.2 892.2,379.4 892.5,379.9 892.8,379.6 893.0,379.3 893.2,379.5 893.5,379.1 893.8,379.8 894.0,379.3 894.2,379.6 894.5,379.2 894.8,379.5 895.0,379.3 895.2,379.6 895.5,379.8 895.8,379.8 896.0,379.6 896.2,379.7 896.5,379.2 896.8,379.2 897.0,379.4 897.2,379.7 897.5,379.5 897.8,379.6 898.0,379.1 898.2,379.2 898.5,378.8 898.8,378.4 899.0,378.0 899.2,377.0 899.5,376.6 899.6,376.2 899.8,376.4 900.0,377.1 900.2,377.8 900.5,378.1 900.8,379.2 901.0,379.5 901.2,379.5 901.5,379.6 901.8,379.6 902.0,379.4 902.2,379.1 902.5,379.9 902.8,379.5 903.0,379.5 903.2,379.5 903.5,379.5 903.8,379.6 904.0,379.3 904.2,379.6 904.5,379.5 904.8,379.5 905.0,379.5 905.2,379.5 905.5,379.3 905.8,379.5 906.0,379.5 906.2,379.5 906.5,379.7 906.8,379.7 907.0,379.7 907.2,379.5 907.5,379.7 907.8,379.7 908.0,379.4 908.2,379.4 908.5,379.9 908.8,379.1 909.0,379.5 909.2,379.5 909.5,379.3 909.8,379.5 910.0,379.6 910.2,379.0 910.5,379.8 910.8,379.5 911.0,379.3 911.2,379.8 911.5,379.5 911.8,379.4 912.0,378.9 912.2,379.7 912.5,379.5 912.8,379.3 913.0,379.5 913.2,379.8 913.5,379.4 913.8,379.5 914.0,379.4 914.2,379.2 914.5,379.3 914.8,379.4 915.0,379.4 915.2,379.8 915.5,379.5 915.8,379.4 916.0,379.6 916.2,379.5 916.5,379.7 916.8,379.1 917.0,379.0 917.2,379.6 917.5,379.4 917.8,379.6 918.0,379.2 918.2,379.4 918.5,379.5 918.8,379.6 919.0,379.5 919.2,379.7 919.5,379.3 919.8,379.7 920.0,379.4 920.2,379.5 920.5,379.2 920.8,379.5 921.0,379.3 921.2,379.7 921.5,379.4 921.8,379.6 922.0,379.5 922.2,379.5 922.5,379.3 922.8,380.0 923.0,379.4 923.2,379.8 923.5,379.2 923.8,380.0 924.0,379.7 924.2,379.9 924.5,379.1 924.8,379.8 925.0,379.5 925.2,379.6 925.5,379.9 925.8,379.6 926.0,379.3 926.2,379.5 926.5,379.3 926.8,379.6 927.0,379.5 927.2,379.6 927.5,379.4 927.8,379.1 928.0,379.4 928.2,379.5 928.5,379.6 928.8,379.7 929.0,379.2 929.2,379.8 929.5,379.7 929.8,379.5 930.0,379.6 930.2,379.0 930.5,380.1 930.8,379.4 931.0,379.3 931.2,379.8 931.5,379.6 931.8,379.3 932.0,379.0 932.2,379.4 932.5,379.3 932.8,378.4 933.0,378.0 933.2,378.4 933.2,378.8 933.5,378.1 933.8,378.8 934.0,378.7 934.2,379.3 934.5,379.5 934.8,379.6 935.0,379.1 935.2,379.2 935.5,380.0 935.8,379.7 936.0,379.1 936.2,379.6 936.5,379.8 936.8,379.5 937.0,379.5 937.2,379.5 937.5,379.6 937.8,379.6 938.0,379.6 938.2,379.4 938.5,379.7 938.8,379.6 939.0,379.5 939.2,379.2 939.5,379.4 939.8,379.5 940.0,379.4 940.2,379.4 940.5,379.2 940.8,379.4 941.0,379.1 941.2,379.2 941.5,379.5 941.8,379.6 942.0,379.3 942.2,379.4 942.5,379.5 942.8,379.8 943.0,379.9 943.2,379.4 943.5,379.3 943.8,379.3 944.0,379.8 944.2,379.3 944.5,379.6 944.8,379.4 945.0,379.4 945.2,379.7 945.5,379.6 945.8,380.0 946.0,379.7 946.2,379.9 946.5,379.4 946.8,379.5 947.0,379.3 947.2,379.4 947.5,379.6 947.8,379.4 948.0,379.6 948.2,379.4 948.5,379.4 948.8,379.7 949.0,379.5 949.2,379.5 949.5,379.6 949.8,379.3 950.0,379.1 950.2,379.6 950.5,379.6 950.8,380.0 951.0,379.5 951.2,379.6 951.5,380.0 951.8,379.4 952.0,379.4 952.2,379.7 952.5,379.6 952.8,379.7 953.0,379.3 953.2,379.9 953.5,379.6 953.8,379.0 954.0,379.5 954.2,379.4 954.5,379.5 954.8,379.8 955.0,379.5 955.2,379.4 955.5,379.7 955.8,379.4 956.0,379.2 956.2,379.2 956.5,379.9 956.8,379.7 957.0,379.9 957.2,379.2 957.5,379.4 957.8,379.3 958.0,379.7 958.2,379.8 958.5,379.5 958.8,379.5 959.0,379.7 959.2,379.5 959.5,379.3 959.8,379.4 960.0,379.7 960.2,380.0 960.5,379.6 960.8,379.5 961.0,379.6 961.2,379.6 961.5,379.7 961.8,379.3 962.0,379.5 962.2,379.5 962.5,379.7 962.8,379.6 963.0,379.5 963.2,379.7 963.5,379.8 963.8,379.6 964.0,379.2 964.2,379.5 964.5,379.2 964.8,379.5 965.0,379.6 965.2,379.8 965.5,379.6 965.8,379.2 966.0,379.4 966.2,379.3 966.5,379.3 966.8,379.5 967.0,379.5 967.2,379.5 967.5,379.3 967.8,379.4 968.0,379.4 968.2,379.5 968.5,379.7 968.8,379.6 969.0,379.7 969.2,379.3 969.5,380.0 969.8,379.6 970.0,378.9 970.2,379.6 970.5,379.8 970.8,379.5 971.0,379.2 971.2,379.5 971.5,379.4 971.8,379.5 972.0,379.6 972.2,378.8 972.5,379.5 972.8,379.6 973.0,379.6 973.2,379.4 973.5,379.4 973.8,379.3 974.0,379.5 974.2,379.8 974.5,379.4 974.8,379.6 975.0,379.6 975.2,379.8 975.5,379.6 975.8,379.7 976.0,379.5 976.2,379.8 976.5,379.5 976.8,379.5 977.0,379.8 977.2,379.6 977.5,379.7 977.8,379.3 978.0,380.1 978.2,379.6 978.5,379.9 978.8,379.6 979.0,379.3 979.2,379.6 979.5,379.5 979.8,379.7 980.0,379.0 980.2,379.3 980.5,379.2 980.8,379.8 981.0,379.8 981.2,379.2 981.5,379.5 981.8,379.6 982.0,379.4 982.2,379.8 982.5,379.3 982.8,379.5 983.0,379.4 983.2,379.7 983.5,379.4 983.8,379.7 984.0,379.3 984.2,379.2 984.5,379.3 984.8,379.4 985.0,379.4 985.2,380.1 985.5,379.3 985.8,379.6 986.0,379.5 986.2,379.6 986.5,379.8 986.8,379.6 987.0,379.3 987.2,379.2 987.5,379.6 987.8,379.7 988.0,379.2 988.2,379.7 988.5,379.0 988.8,379.5 989.0,379.7 989.2,379.3 989.5,379.1 989.8,379.8 990.0,379.1 990.2,379.6 990.5,379.2 990.8,379.6 991.0,379.9 991.2,379.4 991.5,379.3 991.8,379.0 992.0,379.1 992.2,379.3 992.5,379.6 992.8,379.6 993.0,379.6 993.2,379.7 993.5,379.6 993.8,380.1 994.0,379.5 994.2,379.5 994.5,378.9 994.8,379.3 995.0,379.6 995.2,379.4 995.5,379.8 995.8,379.6 996.0,379.9 996.2,379.2 996.5,379.4 996.8,379.8 997.0,379.5 997.2,379.3 997.5,379.4 997.8,379.4 998.0,379.7 998.2,379.6 998.5,379.5 998.8,379.2 999.0,379.5 999.2,379.5 999.5,378.9 999.7,379.3 999.8,378.9 1000.0,379.1 1000.2,379.1 1000.5,379.0 1000.8,379.3 1001.0,379.3 1001.2,379.7 1001.5,379.7 1001.8,379.3 1002.0,379.1 1002.2,379.2 1002.5,379.0 1002.8,379.4 1003.0,379.5 1003.2,379.3 1003.5,379.5 1003.8,379.5 1004.0,379.7 1004.2,379.3 1004.5,379.8 1004.8,379.4 1005.0,379.8 1005.2,379.2 1005.5,379.7 1005.8,379.3 1006.0,379.9 1006.2,379.6 1006.5,379.2 1006.8,379.7 1007.0,379.5 1007.2,379.6 1007.5,380.0 1007.8,379.4 1008.0,379.4 1008.2,379.8 1008.5,379.4 1008.8,379.7 1009.0,379.7 1009.2,379.5 1009.5,379.7 1009.8,379.0 1010.0,379.9 1010.2,379.3 1010.5,379.3 1010.8,380.0 1011.0,379.9 1011.2,379.4 1011.5,379.6 1011.8,379.4 1012.0,379.2 1012.2,379.6 1012.5,379.7 1012.8,380.1 1013.0,379.5 1013.2,379.7 1013.5,379.4 1013.8,379.4 1014.0,379.8 1014.2,379.1 1014.5,379.2 1014.8,379.3 1015.0,379.8 1015.2,379.6 1015.5,379.6 1015.8,379.6 1016.0,379.8 1016.2,379.4 1016.5,379.4 1016.8,379.4 1017.0,379.6 1017.2,379.2 1017.5,379.5 1017.8,380.1 1018.0,379.6 1018.2,379.5 1018.5,379.3 1018.8,379.6 1019.0,379.6 1019.2,379.7 1019.5,379.3 1019.8,379.6 1020.0,379.6 1020.2,379.7 1020.5,379.4 1020.8,379.6 1021.0,379.9 1021.2,379.4 1021.5,379.7 1021.8,379.4 1022.0,379.4 1022.2,379.2 1022.5,379.3 1022.8,379.6 1023.0,379.5 1023.2,379.8 1023.5,379.1 1023.8,379.4 1024.0,379.2 1024.2,379.6 1024.5,380.0 1024.8,379.1 1025.0,379.5 1025.2,379.5 1025.5,379.5 1025.8,379.3 1026.0,379.4 1026.2,379.9 1026.5,379.2 1026.8,379.6 1027.0,379.6 1027.2,379.1 1027.5,379.2 1027.8,379.5 1028.0,379.7 1028.2,378.9 1028.5,378.3 1028.8,377.7 1029.0,376.9 1029.2,375.6 1029.5,374.7 1029.8,373.7 1029.9,373.5 1030.0,373.5 1030.2,374.5 1030.5,375.4 1030.8,376.5 1031.0,377.9 1031.2,378.7 1031.5,378.9 1031.8,379.6 1032.0,379.7 1032.2,380.0 1032.5,380.0 1032.8,380.3 1033.0,380.1 1033.2,379.9 1033.5,379.8 1033.8,379.9 1034.0,380.0 1034.2,380.1 1034.5,380.2 1034.8,380.1 1035.0,380.0 1035.2,380.2 1035.5,380.0 1035.8,380.3 1036.0,380.4 1036.2,380.3 1036.5,380.4 1036.8,380.3 1037.0,379.9 1037.2,380.1 1037.5,380.1 1037.8,379.9 1038.0,379.9 1038.2,380.2 1038.5,379.9 1038.8,380.0 1039.0,380.1 1039.2,380.0 1039.5,380.3 1039.8,380.2 1040.0,380.1 1040.2,380.0 1040.5,380.2 1040.8,380.1 1041.0,379.9 1041.2,379.9 1041.5,380.0 1041.8,379.9 1042.0,380.2 1042.2,380.1 1042.5,380.0 1042.8,380.1 1043.0,380.2 1043.2,379.8 1043.5,380.1 1043.8,380.3 1044.0,380.0 1044.2,379.8 1044.5,380.1 1044.8,379.9 1045.0,380.2 1045.2,380.2 1045.5,380.2 1045.8,380.1 1046.0,379.8 1046.2,380.3 1046.5,379.8 1046.8,380.3 1047.0,380.1 1047.2,380.0 1047.5,380.0 1047.8,380.1 1048.0,380.4 1048.2,380.0 1048.5,380.3 1048.8,379.7 1049.0,380.1 1049.2,380.1 1049.5,380.3 1049.8,380.2 1050.0,380.3 1050.2,379.9 1050.5,380.1 1050.8,380.0 1051.0,380.2 1051.2,380.2 1051.5,379.9 1051.8,380.3 1052.0,380.4 1052.2,380.0 1052.5,380.3 1052.8,380.2 1053.0,380.0 1053.2,380.2 1053.5,380.0 1053.8,380.2 1054.0,379.9 1054.2,379.9 1054.5,380.2 1054.8,380.1 1055.0,380.2 1055.2,380.1 1055.5,379.9 1055.8,380.3 1056.0,380.0 1056.2,380.3 1056.5,380.2 1056.8,380.4 1057.0,379.8 1057.2,380.1 1057.5,380.1 1057.8,380.2 1058.0,379.9 1058.2,380.4 1058.5,380.1 1058.8,379.7 1059.0,380.2 1059.2,380.1 1059.5,380.0 1059.8,380.2 1060.0,380.1 1060.2,379.9 1060.5,380.1 1060.8,380.0 1061.0,380.2 1061.2,380.0 1061.5,380.1 1061.8,379.9 1062.0,380.0 1062.2,380.1 1062.5,380.5 1062.8,380.0 1063.0,380.0 1063.2,380.2 1063.5,380.4 1063.8,380.3 1064.0,380.0 1064.2,380.3 1064.5,380.2 1064.8,380.1 1065.0,379.9 1065.2,380.1 1065.5,380.1 1065.8,380.2 1066.0,379.8 1066.2,379.9 1066.5,380.1 1066.8,380.3 1067.0,380.2 1067.2,380.0 1067.5,380.2 1067.8,380.0 1068.0,380.0 1068.2,380.1 1068.5,380.0 1068.8,380.0 1069.0,380.2 1069.2,380.2 1069.5,379.7 1069.8,380.3 1070.0,380.2 1070.2,379.9 1070.5,380.1 1070.8,380.2 1071.0,380.3 1071.2,380.0 1071.5,379.9 1071.8,379.9 1072.0,380.1 1072.2,379.9 1072.5,380.3 1072.8,380.1 1073.0,380.2 1073.2,380.1 1073.5,380.0 1073.8,379.9 1074.0,380.3 1074.2,379.9 1074.5,380.2 1074.8,380.3 1075.0,380.1 1075.2,380.3 1075.5,380.1 1075.8,380.1 1076.0,380.1 1076.2,380.0 1076.5,380.2 1076.8,380.1 1077.0,380.3 1077.2,380.1 1077.5,380.2 1077.8,380.2 1078.0,380.1 1078.2,380.1 1078.5,380.4 1078.8,380.4 1079.0,380.1 1079.2,380.0 1079.5,380.0 1079.8,380.0 1080.0,379.9 1080.2,380.0 1080.5,380.1 1080.8,380.3 1081.0,380.3 1081.2,380.2 1081.5,380.1 1081.8,380.1 1082.0,380.1 1082.2,380.1 1082.5,380.0 1082.8,380.1 1083.0,380.1 1083.2,380.1 1083.5,380.2 1083.8,380.3 1084.0,380.0 1084.2,380.0 1084.5,380.1 1084.8,380.2 1085.0,379.7 1085.2,380.2 1085.5,380.1 1085.8,380.1 1086.0,380.3 1086.2,380.1 1086.5,379.8 1086.8,380.0 1087.0,380.0 1087.2,380.0 1087.5,380.1 1087.8,379.9 1088.0,380.1 1088.2,380.2 1088.5,380.1 1088.8,380.0 1089.0,380.0 1089.2,380.0 1089.5,380.4 1089.8,379.9 1090.0,379.7 1090.2,379.9 1090.5,380.2 1090.8,380.2 1091.0,380.1 1091.2,380.3 1091.5,380.0 1091.8,380.2 1092.0,379.9 1092.2,379.9 1092.5,380.4 1092.8,380.1 1093.0,380.2 1093.2,380.3 1093.5,380.2 1093.8,380.1 1094.0,379.9 1094.2,380.3 1094.5,379.9 1094.8,379.8 1095.0,380.0 1095.2,380.0 1095.5,380.1 1095.8,380.3 1096.0,380.0 1096.2,380.0 1096.5,380.0 1096.8,379.7 1097.0,380.0 1097.2,380.0 1097.5,379.8 1097.8,380.3 1098.0,380.3 1098.2,380.2 1098.5,380.2 1098.8,380.0 1099.0,380.2 1099.2,379.8 1099.5,379.9 1099.8,380.0 1100.0,380.2 1100.2,380.0 1100.5,380.0 1100.8,380.3 1101.0,380.0 1101.2,380.0 1101.5,380.1 1101.8,379.8 1102.0,379.9 1102.2,380.2 1102.5,380.1 1102.8,380.2 1103.0,380.0 1103.2,380.2 1103.5,380.0 1103.8,380.0 1104.0,379.9 1104.2,380.1 1104.5,380.3 1104.8,379.8 1105.0,380.1 1105.2,379.9 1105.5,380.0 1105.8,380.0 1106.0,379.8 1106.2,380.0 1106.5,379.9 1106.8,380.3 1107.0,380.0 1107.2,380.1 1107.5,380.1 1107.8,380.1 1108.0,380.0 1108.2,379.8 1108.5,380.4 1108.8,380.1 1109.0,380.2 1109.2,379.9 1109.5,380.2 1109.8,380.0 1110.0,380.2 1110.2,380.0 1110.5,379.9 1110.8,380.2 1111.0,380.1 1111.2,380.3 1111.5,380.1 1111.8,380.0 1112.0,380.2 1112.2,379.9 1112.5,380.4 1112.8,380.4 1113.0,380.3 1113.2,380.2 1113.5,380.1 1113.8,380.1 1114.0,380.1 1114.2,380.0 1114.5,380.2 1114.8,380.3 1115.0,380.3 1115.2,379.8 1115.5,380.5 1115.8,380.1 1116.0,379.9 1116.2,380.0 1116.5,380.2 1116.8,380.1 1117.0,380.0 1117.2,380.0 1117.5,380.3 1117.8,380.1 1118.0,380.2 1118.2,380.2 1118.5,380.2 1118.8,380.4 1119.0,380.6 1119.2,380.4 1119.5,380.3 1119.8,380.4 1120.0,380.4 1120.2,380.2 1120.5,380.5 1120.8,380.4 1121.0,380.5 1121.2,380.4 1121.5,380.4 1121.8,380.3 1122.0,380.5 1122.2,380.5 1122.5,380.6 1122.8,380.4 1123.0,380.5 1123.2,380.4 1123.5,380.6 1123.8,380.5 1124.0,380.4 1124.2,380.5 1124.5,380.4 1124.8,380.4 1125.0,380.5 1125.2,380.6 1125.5,380.4 1125.8,380.4 1126.0,380.4 1126.2,380.6 1126.5,380.6 1126.8,380.6 1127.0,380.5 1127.2,380.4 1127.5,380.4 1127.8,380.5 1128.0,380.4 1128.2,380.4 1128.5,380.5 1128.8,380.4 1129.0,380.4 1129.2,380.6 1129.5,380.5 1129.8,380.3 1130.0,380.5 1130.2,380.5 1130.5,380.5 1130.8,380.5 1131.0,380.3 1131.2,380.5 1131.5,380.5 1131.8,380.6 1132.0,380.5 1132.2,380.6 1132.5,380.6 1132.8,380.4 1133.0,380.4 1133.2,380.6 1133.5,380.4 1133.8,380.4 1134.0,380.5 1134.2,380.4 1134.5,380.6 1134.8,380.6 1135.0,380.6 1135.2,380.6 1135.5,380.4 1135.8,380.6 1136.0,380.6 1136.2,380.5 1136.5,380.4 1136.8,380.5 1137.0,380.4 1137.2,380.5 1137.5,380.6 1137.8,380.5 1138.0,380.4 1138.2,380.5 1138.5,380.4 1138.8,380.3 1139.0,380.5 1139.2,380.4 1139.5,380.3 1139.8,380.5 1140.0,380.5 1140.2,380.6 1140.5,380.4 1140.8,380.4 1141.0,380.5 1141.2,380.4 1141.5,380.3 1141.8,380.4 1142.0,380.6 1142.2,380.5 1142.5,380.4 1142.8,380.4 1143.0,380.5 1143.2,380.5 1143.5,380.5 1143.8,380.6 1144.0,380.5 1144.2,380.5 1144.5,380.4 1144.8,380.5 1145.0,380.5 1145.2,380.5 1145.5,380.6 1145.8,380.4 1146.0,380.5 1146.2,380.4 1146.5,380.6 1146.8,380.4 1147.0,380.6 1147.2,380.5 1147.5,380.5 1147.8,380.4 1148.0,380.4 1148.2,380.5 1148.5,380.4 1148.8,380.4 1149.0,380.4 1149.2,380.4 1149.5,380.5 1149.8,380.5 1150.0,380.4 1150.2,380.5 1150.5,380.4 1150.8,380.4 1151.0,380.4 1151.2,380.5 1151.5,380.6 1151.8,380.5 1152.0,380.5 1152.2,380.4 1152.5,380.5 1152.8,380.5 1153.0,380.4 1153.2,380.5 1153.5,380.5 1153.8,380.3 1154.0,380.3 1154.2,380.4 1154.5,380.4 1154.8,380.5 1155.0,380.4 1155.2,380.5 1155.5,380.4 1155.8,380.5 1156.0,380.5 1156.2,380.5 1156.5,380.4 1156.8,380.3 1157.0,380.4 1157.2,380.6 1157.5,380.5 1157.8,380.6 1158.0,380.5 1158.2,380.4 1158.5,380.4 1158.8,380.5 1159.0,380.4 1159.2,380.5 1159.5,380.6 1159.8,380.6 1160.0,380.5 1160.2,380.3 1160.5,380.6 1160.8,380.3 1161.0,380.3 1161.2,380.5 1161.5,380.5 1161.8,380.5 1162.0,380.5 1162.2,380.4 1162.5,380.5 1162.8,380.4 1163.0,380.3 1163.2,380.4 1163.5,380.4 1163.8,380.5 1164.0,380.4 1164.2,380.6 1164.5,380.4 1164.8,380.4 1165.0,380.5 1165.2,380.3 1165.5,380.5 1165.8,380.5 1166.0,380.4 1166.2,380.6 1166.5,380.5 1166.8,380.6 1167.0,380.5 1167.2,380.5 1167.5,380.4 1167.8,380.4 1168.0,380.4 1168.2,380.3 1168.5,380.4 1168.8,380.5 1169.0,380.4 1169.2,380.5 1169.5,380.5 1169.8,380.3 1170.0,380.4 1170.2,380.4 1170.5,380.4 1170.8,380.4 1171.0,380.6 1171.2,380.5 1171.5,380.6 1171.8,380.4 1172.0,380.5 1172.2,380.3 1172.5,380.4 1172.8,380.5 1173.0,380.5 1173.2,380.6 1173.5,380.5 1173.8,380.4 1174.0,380.4 1174.2,380.6 1174.5,380.5 1174.8,380.4 1175.0,380.4 1175.2,380.4 1175.5,380.6 1175.8,380.4 1176.0,380.5 1176.2,380.4 1176.5,380.4 1176.8,380.4 1177.0,380.5 1177.2,380.4 1177.5,380.6 1177.8,380.6 1178.0,380.4 1178.2,380.5 1178.5,380.6 1178.8,380.5 1179.0,380.5 1179.2,380.3 1179.5,380.4 1179.8,380.4 1180.0,380.6 1180.2,380.5 1180.5,380.4 1180.8,380.4 1181.0,380.4 1181.2,380.5 1181.5,380.3 1181.8,380.3 1182.0,380.5 1182.2,380.6 1182.5,380.3 1182.8,380.5 1183.0,380.4 1183.2,380.3 1183.5,380.5 1183.8,380.4 1184.0,380.5 1184.2,380.4 1184.5,380.4 1184.8,380.3 1185.0,380.4 1185.2,380.5 1185.5,380.4 1185.8,380.5 1186.0,380.5 1186.2,380.3 1186.5,380.5 1186.8,380.5 1187.0,380.5 1187.2,380.6 1187.5,380.6 1187.8,380.4 1188.0,380.5 1188.2,380.5 1188.5,380.5 1188.8,380.6 1189.0,380.6 1189.2,380.4 1189.5,380.2 1189.8,380.4 1190.0,380.4 1190.2,380.6 1190.5,380.5 1190.8,380.6 1191.0,380.4 1191.2,380.5 1191.5,380.5 1191.8,380.5 1192.0,380.5 1192.2,380.6 1192.5,380.4 1192.8,380.6 1193.0,380.6 1193.2,380.5 1193.5,380.5 1193.8,380.4 1194.0,380.4 1194.2,380.4 1194.5,380.4 1194.8,380.5 1195.0,380.4 1195.2,380.6 1195.5,380.4 1195.8,380.5 1196.0,380.6 1196.2,380.5 1196.5,380.5 1196.8,380.4 1197.0,380.4 1197.2,380.6 1197.5,380.5 1197.8,380.3 1198.0,380.4 1198.2,380.3 1198.5,380.5 1198.8,380.6 1199.0,380.6 1199.2,380.4 1199.5,380.4 1199.8,380.5 1200.0,380.5 1200.2,380.4 1200.5,380.6 1200.8,380.5 1201.0,380.3 1201.2,380.3 1201.5,380.5 1201.8,380.3 1202.0,380.5 1202.2,380.5 1202.5,380.6 1202.8,380.4 1203.0,380.5 1203.2,380.2 1203.5,380.4 1203.8,380.4 1204.0,380.6 1204.2,380.3 1204.5,380.5 1204.8,380.5 1205.0,380.6 1205.2,380.4 1205.5,380.4 1205.8,380.5 1206.0,380.5 1206.2,380.4 1206.5,380.4 1206.8,380.5 1207.0,380.3 1207.2,380.5 1207.5,380.5 1207.8,380.5 1208.0,380.6 1208.2,380.5 1208.5,380.4 1208.8,380.4 1209.0,380.5 1209.2,380.4 1209.5,380.6 1209.8,380.5 1210.0,380.4 1210.2,380.4 1210.5,380.5 1210.8,380.4 1211.0,380.3 1211.2,380.5 1211.5,380.4 1211.8,380.6 1212.0,380.6 1212.2,380.4 1212.5,380.5 1212.8,380.4 1213.0,380.5 1213.2,380.5 1213.5,380.4 1213.8,380.3 1214.0,380.5 1214.2,380.6 1214.5,380.3 1214.8,380.4 1215.0,380.4 1215.2,380.4 1215.5,380.2 1215.8,380.5 1216.0,380.4 1216.2,380.6 1216.5,380.5 1216.8,380.4 1217.0,380.2 1217.2,379.8 1217.5,379.0 1217.8,377.3 1218.0,375.1 1218.2,371.6 1218.5,367.1 1218.8,362.5 1219.0,358.2 1219.2,355.7 1219.4,355.3 1219.5,355.3 1219.8,357.6 1220.0,361.4 1220.2,366.2 1220.5,370.8 1220.8,374.5 1221.0,377.1 1221.2,378.8 1221.5,379.6 1221.8,380.3 1222.0,380.4 1222.2,380.6 1222.5,380.3 1222.8,380.5 1223.0,380.5 1223.2,380.6 1223.5,380.4 1223.8,380.5 1224.0,380.4 1224.2,380.6 1224.5,380.4 1224.8,380.4 1225.0,380.4 1225.2,380.3 1225.5,380.5 1225.8,380.5 1226.0,380.4 1226.2,380.4 1226.5,380.5 1226.8,380.5 1227.0,380.5 1227.2,380.4 1227.5,380.4 1227.8,380.5 1228.0,380.3 1228.2,380.6 1228.5,380.5 1228.8,380.3 1229.0,380.5 1229.2,380.6 1229.5,380.3 1229.8,380.4 1230.0,380.6 1230.2,380.4 1230.5,380.6 1230.8,380.6 1231.0,380.5 1231.2,380.5 1231.5,380.6 1231.8,380.5 1232.0,380.6 1232.2,380.5 1232.5,380.5 1232.8,380.4 1233.0,380.5 1233.2,380.6 1233.5,380.6 1233.8,380.5 1234.0,380.3 1234.2,380.4 1234.5,380.5 1234.8,380.4 1235.0,380.6 1235.2,380.4 1235.5,380.5 1235.8,380.4 1236.0,380.4 1236.2,380.5 1236.5,380.4 1236.8,380.6 1237.0,380.5 1237.2,380.4 1237.5,380.1 1237.8,380.4 1238.0,380.5 1238.2,380.6 1238.5,380.4 1238.8,380.6 1239.0,380.5 1239.2,380.4 1239.5,380.6 1239.8,380.3 1240.0,380.4 1240.2,380.5 1240.5,380.5 1240.8,380.6 1241.0,380.6 1241.2,380.4 1241.5,380.4 1241.8,380.4 1242.0,380.4 1242.2,380.5 1242.5,380.4 1242.8,380.6 1243.0,380.5 1243.2,380.3 1243.5,380.3 1243.8,380.5 1244.0,380.5 1244.2,380.3 1244.5,380.3 1244.8,380.6 1245.0,380.5 1245.2,380.4 1245.5,380.4 1245.8,380.5 1246.0,380.4 1246.2,380.5 1246.5,380.2 1246.8,380.4 1247.0,380.5 1247.2,380.5 1247.5,380.4 1247.8,380.4 1248.0,380.6 1248.2,380.4 1248.5,380.6 1248.8,380.5 1249.0,380.6 1249.2,380.6 1249.5,380.5 1249.8,380.6 1250.0,380.4 1250.2,380.4 1250.5,380.5 1250.8,380.6 1251.0,380.4 1251.2,380.6 1251.5,380.6 1251.8,380.4 1252.0,380.4 1252.2,380.4 1252.5,380.5 1252.8,380.5 1253.0,380.3 1253.2,380.0 1253.5,379.6 1253.8,378.9 1254.0,378.0 1254.2,377.2 1254.5,376.7 1254.8,377.1 1255.0,378.0 1255.2,378.9 1255.5,379.6 1255.8,380.0 1256.0,380.4 1256.2,380.4 1256.5,380.6 1256.8,380.6 1257.0,380.4 1257.2,380.4 1257.5,380.6 1257.8,380.5 1258.0,380.4 1258.2,380.5 1258.5,380.5 1258.8,380.4 1259.0,380.4 1259.2,380.4 1259.5,380.4 1259.8,380.5 1260.0,380.5 1260.2,380.5 1260.5,380.6 1260.8,380.6 1261.0,380.4 1261.2,380.6 1261.5,380.4 1261.8,380.4 1262.0,380.5 1262.2,380.4 1262.5,380.4 1262.8,380.4 1263.0,380.5 1263.2,380.5 1263.5,380.5 1263.8,380.3 1264.0,380.4 1264.2,380.5 1264.5,380.5 1264.8,380.5 1265.0,380.5 1265.2,380.4 1265.5,380.3 1265.8,380.6 1266.0,380.4 1266.2,380.4 1266.5,380.5 1266.8,380.5 1267.0,380.5 1267.2,380.5 1267.5,380.4 1267.8,380.6 1268.0,380.3 1268.2,380.5 1268.5,380.3 1268.8,380.4 1269.0,380.4 1269.2,380.4 1269.5,380.4 1269.8,380.5 1270.0,380.5 1270.2,380.4 1270.5,380.4 1270.8,380.3 1271.0,380.6 1271.2,380.5 1271.5,380.4 1271.8,380.6 1272.0,380.5 1272.2,380.3 1272.5,380.3 1272.8,380.5 1273.0,380.3 1273.2,380.4 1273.5,380.4 1273.8,380.4 1274.0,380.4 1274.2,380.5 1274.5,380.5 1274.8,380.4 1275.0,380.5 1275.2,380.3 1275.5,380.5 1275.8,380.6 1276.0,380.5 1276.2,380.4 1276.5,380.4 1276.8,380.5 1277.0,380.5 1277.2,380.3 1277.5,380.5 1277.8,380.4 1278.0,380.5 1278.2,380.6 1278.5,380.3 1278.8,380.6 1279.0,380.5 1279.2,380.4 1279.5,380.5 1279.8,380.4 1280.0,380.5 1280.2,380.5 1280.5,380.2 1280.8,380.3 1281.0,380.1 1281.2,379.9 1281.5,379.6 1281.8,379.2 1282.0,379.1 1282.2,379.2 1282.5,379.6 1282.8,379.8 1283.0,380.3 1283.2,380.3 1283.5,380.4 1283.8,380.5 1284.0,380.4 1284.2,380.5 1284.5,380.5 1284.8,380.3 1285.0,380.4 1285.2,380.4 1285.5,380.5 1285.8,380.4 1286.0,380.4 1286.2,380.4 1286.5,380.3 1286.8,380.5 1287.0,380.4 1287.2,380.5 1287.5,380.6 1287.8,380.6 1288.0,380.5 1288.2,380.4 1288.5,380.5 1288.8,380.4 1289.0,380.3 1289.2,380.5 1289.5,380.3 1289.8,380.3 1290.0,380.4 1290.2,380.6 1290.5,380.3 1290.8,380.5 1291.0,380.5 1291.2,380.5 1291.5,380.5 1291.8,380.4 1292.0,380.4 1292.2,380.4 1292.5,380.4 1292.8,380.5 1293.0,380.5 1293.2,380.4 1293.5,380.5 1293.8,380.2 1294.0,380.5 1294.2,380.5 1294.5,380.4 1294.8,380.4 1295.0,380.5 1295.2,380.5 1295.5,380.4 1295.8,380.4 1296.0,380.4 1296.2,380.5 1296.5,380.4 1296.8,380.4 1297.0,380.4 1297.2,380.6 1297.5,380.5 1297.8,380.5 1298.0,380.5 1298.2,380.4 1298.5,380.4 1298.8,380.4 1299.0,380.5 1299.2,380.5 1299.5,380.3 1299.8,380.5 1300.0,380.4 1300.2,380.3 1300.5,380.4 1300.8,380.6 1301.0,380.4 1301.2,380.5 1301.5,380.5 1301.8,380.4 1302.0,380.4 1302.2,380.5 1302.5,380.4 1302.8,380.4 1303.0,380.5 1303.2,380.4 1303.5,380.4 1303.8,380.5 1304.0,380.5 1304.2,380.5 1304.5,380.5 1304.8,380.6 1305.0,380.3 1305.2,380.5 1305.5,380.5 1305.8,380.5 1306.0,380.5 1306.2,380.4 1306.5,380.4 1306.8,380.4 1307.0,380.1 1307.2,380.0 1307.5,379.5 1307.8,379.6 1308.0,379.4 1308.2,379.3 1308.5,379.7 1308.8,380.0 1309.0,380.1 1309.2,380.4 1309.5,380.4 1309.8,380.6 1310.0,380.5 1310.2,380.5 1310.5,380.4 1310.8,380.4 1311.0,380.5 1311.2,380.3 1311.5,380.5 1311.8,380.6 1312.0,380.6 1312.2,380.3 1312.5,380.5 1312.8,380.5 1313.0,380.5 1313.2,380.6 1313.5,380.3 1313.8,380.5 1314.0,380.3 1314.2,380.5 1314.5,380.6 1314.8,380.4 1315.0,380.5 1315.2,380.5 1315.5,380.3 1315.8,380.5 1316.0,380.4 1316.2,380.5 1316.5,380.5 1316.8,380.4 1317.0,380.5 1317.2,380.4 1317.5,380.4 1317.8,380.5 1318.0,380.4 1318.2,380.4 1318.5,380.5 1318.8,380.4 1319.0,380.5 1319.2,380.4 1319.5,380.6 1319.8,380.5 1320.0,380.4 1320.2,380.5 1320.5,380.5 1320.8,380.5 1321.0,380.4 1321.2,380.5 1321.5,380.4 1321.8,380.3 1322.0,380.4 1322.2,380.6 1322.5,380.5 1322.8,380.4 1323.0,380.5 1323.2,380.4 1323.5,380.4 1323.8,380.4 1324.0,380.5 1324.2,380.5 1324.5,380.5 1324.8,380.5 1325.0,380.4 1325.2,380.4 1325.5,380.5 1325.8,380.5 1326.0,380.4 1326.2,380.6 1326.5,380.5 1326.8,380.5 1327.0,380.5 1327.2,380.5 1327.5,380.5 1327.8,380.5 1328.0,380.4 1328.2,380.4 1328.5,380.6 1328.8,380.5 1329.0,380.6 1329.2,380.3 1329.5,380.5 1329.8,380.5 1330.0,380.5 1330.2,380.5 1330.5,380.5 1330.8,380.3 1331.0,380.4 1331.2,380.4 1331.5,380.4 1331.8,380.6 1332.0,380.3 1332.2,380.4 1332.5,380.4 1332.8,380.5 1333.0,380.4 1333.2,380.4 1333.5,380.5 1333.8,380.3 1334.0,380.4 1334.2,380.5 1334.5,380.4 1334.8,380.4 1335.0,380.4 1335.2,380.4 1335.5,380.4 1335.8,380.3 1336.0,380.6 1336.2,380.5 1336.5,380.5 1336.8,380.4 1337.0,380.2 1337.2,380.1 1337.5,379.9 1337.8,379.2 1338.0,378.2 1338.2,377.1 1338.5,375.6 1338.8,374.1 1339.0,373.0 1339.2,372.1 1339.4,372.0 1339.5,372.0 1339.8,372.8 1340.0,373.9 1340.2,375.4 1340.5,376.8 1340.8,378.1 1341.0,379.0 1341.2,379.5 1341.5,379.9 1341.8,380.3 1342.0,380.4 1342.2,380.3 1342.5,380.5 1342.8,380.3 1343.0,380.3 1343.2,380.5 1343.5,380.5 1343.8,380.5 1344.0,380.5 1344.2,380.6 1344.5,380.5 1344.8,380.4 1345.0,380.5 1345.2,380.5 1345.5,380.5 1345.8,380.6 1346.0,380.3 1346.2,380.6 1346.5,380.5 1346.8,380.4 1347.0,380.6 1347.2,380.4 1347.5,380.4 1347.8,380.5 1348.0,380.4 1348.2,380.6 1348.5,380.4 1348.8,380.5 1349.0,380.4 1349.2,380.3 1349.5,380.4 1349.8,380.3 1350.0,380.4 1350.2,380.6 1350.5,380.4 1350.8,380.4 1351.0,380.6 1351.2,380.3 1351.5,380.5 1351.8,380.4 1352.0,380.5 1352.2,380.5 1352.5,380.4 1352.8,380.5 1353.0,380.5 1353.2,380.6 1353.5,380.3 1353.8,380.6 1354.0,380.6 1354.2,380.6 1354.5,380.5 1354.8,380.4 1355.0,380.5 1355.2,380.4 1355.5,380.6 1355.8,380.3 1356.0,380.4 1356.2,380.3 1356.5,380.6 1356.8,380.4 1357.0,380.6 1357.2,380.4 1357.5,380.4 1357.8,380.6 1358.0,380.6 1358.2,380.6 1358.5,380.6 1358.8,380.5 1359.0,380.6 1359.2,380.6 1359.5,380.5 1359.8,380.4 1360.0,380.6 1360.2,380.5 1360.5,380.5 1360.8,380.5 1361.0,380.5 1361.2,380.4 1361.5,380.4 1361.8,380.4 1362.0,380.5 1362.2,380.3 1362.5,380.3 1362.8,380.5 1363.0,380.5 1363.2,380.4 1363.5,380.5 1363.8,380.4 1364.0,380.5 1364.2,380.5 1364.5,380.5 1364.8,380.6 1365.0,380.5 1365.2,380.6 1365.5,380.3 1365.8,380.3 1366.0,380.4 1366.2,380.4 1366.5,380.4 1366.8,380.4 1367.0,380.4 1367.2,380.4 1367.5,380.5 1367.8,380.4 1368.0,380.5 1368.2,380.6 1368.5,380.6 1368.8,380.4 1369.0,380.4 1369.2,380.6 1369.5,380.3 1369.8,380.3 1370.0,380.5 1370.2,380.5 1370.5,380.5 1370.8,380.4 1371.0,380.5 1371.2,380.6 1371.5,380.4 1371.8,380.6 1372.0,380.5 1372.2,380.4 1372.5,380.4 1372.8,380.4 1373.0,380.4 1373.2,380.4 1373.5,380.5 1373.8,380.5 1374.0,380.5 1374.2,380.5 1374.5,380.4 1374.8,380.3 1375.0,380.4 1375.2,380.5 1375.5,380.5 1375.8,380.5 1376.0,380.3 1376.2,380.4 1376.5,380.5 1376.8,380.5 1377.0,380.4 1377.2,380.4 1377.5,380.5 1377.8,380.5 1378.0,380.3 1378.2,380.5 1378.5,380.3 1378.8,380.4 1379.0,380.5 1379.2,380.4 1379.5,380.5 1379.8,380.5 1380.0,380.5 1380.2,380.5 1380.5,380.4 1380.8,380.5 1381.0,380.4 1381.2,380.3 1381.5,380.6 1381.8,380.1 1382.0,379.9 1382.2,379.2 1382.5,378.8 1382.8,378.4 1382.9,378.2 1383.0,378.5 1383.2,378.6 1383.5,379.2 1383.8,379.8 1384.0,380.0 1384.2,380.3 1384.5,380.5 1384.8,380.5 1385.0,380.2 1385.2,380.5 1385.5,380.6 1385.8,380.6 1386.0,380.5 1386.2,380.5 1386.5,380.5 1386.8,380.6 1387.0,380.4 1387.2,380.5 1387.5,380.6 1387.8,380.5 1388.0,380.5 1388.2,380.4 1388.5,380.4 1388.8,380.5 1389.0,380.5 1389.2,380.5 1389.5,380.3 1389.8,380.5 1390.0,380.4 1390.2,380.4 1390.5,380.6 1390.8,380.5 1391.0,380.5 1391.2,380.5 1391.5,380.4 1391.8,380.4 1392.0,380.4 1392.2,380.5 1392.5,380.5 1392.8,380.3 1393.0,380.6 1393.2,380.5 1393.5,380.4 1393.8,380.5 1394.0,380.4 1394.2,380.5 1394.5,380.4 1394.8,380.4 1395.0,380.5 1395.2,380.5 1395.5,380.5 1395.8,380.5 1396.0,380.5 1396.2,380.6 1396.5,380.4 1396.8,380.3 1397.0,380.3 1397.2,380.4 1397.5,380.6 1397.8,380.3 1398.0,380.5 1398.2,380.5 1398.5,380.3 1398.8,380.6 1399.0,380.4 1399.2,380.4 1399.5,380.5 1399.8,380.5 1400.0,380.4 1400.2,380.5 1400.5,380.4 1400.8,380.4 1401.0,380.6 1401.2,380.5 1401.5,380.5 1401.8,380.6 1402.0,380.6 1402.2,380.5 1402.5,380.5 1402.8,380.6 1403.0,380.5 1403.2,380.4 1403.5,380.6 1403.8,380.6 1404.0,380.3 1404.2,380.4 1404.5,380.6 1404.8,380.6 1405.0,380.4 1405.2,380.6 1405.5,380.5 1405.8,380.5 1406.0,380.4 1406.2,380.6 1406.5,380.6 1406.8,380.6 1407.0,380.4 1407.2,380.5 1407.5,380.6 1407.8,380.4 1408.0,380.4 1408.2,380.5 1408.5,380.5 1408.8,380.4 1409.0,380.4 1409.2,380.5 1409.5,380.4 1409.8,380.5 1410.0,380.5 1410.2,380.6 1410.5,380.4 1410.8,380.5 1411.0,380.5 1411.2,380.4 1411.5,380.4 1411.8,380.4 1412.0,380.6 1412.2,380.4 1412.5,380.5 1412.8,380.5 1413.0,380.5 1413.2,380.4 1413.5,380.4 1413.8,380.5 1414.0,380.6 1414.2,380.5 1414.5,380.5 1414.8,380.3 1415.0,380.6 1415.2,380.6 1415.5,380.5 1415.8,380.5 1416.0,380.5 1416.2,380.4 1416.5,380.3 1416.8,380.5 1417.0,380.5 1417.2,380.6 1417.5,380.5 1417.8,380.4 1418.0,380.5 1418.2,380.4 1418.5,380.5 1418.8,380.3 1419.0,380.4 1419.2,380.6 1419.5,380.5 1419.8,380.6 1420.0,380.6 1420.2,380.4 1420.5,380.4 1420.8,380.3 1421.0,380.5 1421.2,380.5 1421.5,380.6 1421.8,380.4 1422.0,380.4 1422.2,380.5 1422.5,380.4 1422.8,380.4 1423.0,380.6 1423.2,380.4 1423.5,380.5 1423.8,380.5 1424.0,380.5 1424.2,380.3 1424.5,380.3 1424.8,380.3 1425.0,380.6 1425.2,380.5 1425.5,380.4 1425.8,380.6 1426.0,380.5 1426.2,380.6 1426.5,380.3 1426.8,380.4 1427.0,380.4 1427.2,380.5 1427.5,380.5 1427.8,380.5 1428.0,380.4 1428.2,380.5 1428.5,380.4 1428.8,380.5 1429.0,380.5 1429.2,380.4 1429.5,380.5 1429.8,380.4 1430.0,380.5 1430.2,380.6 1430.5,380.4 1430.8,380.6 1431.0,380.4 1431.2,380.6 1431.5,380.6 1431.8,380.4 1432.0,380.4 1432.2,380.5 1432.5,380.6 1432.8,380.4 1433.0,380.6 1433.2,380.5 1433.5,380.5 1433.8,380.5 1434.0,380.4 1434.2,380.5 1434.5,380.4 1434.8,380.4 1435.0,380.6 1435.2,380.6 1435.5,380.5 1435.8,380.5 1436.0,380.4 1436.2,380.6 1436.5,380.4 1436.8,380.4 1437.0,380.5 1437.2,380.6 1437.5,380.5 1437.8,380.5 1438.0,380.4 1438.2,380.5 1438.5,380.4 1438.8,380.5 1439.0,380.3 1439.2,380.6 1439.5,380.6 1439.8,380.4 1440.0,380.6 1440.2,380.4 1440.5,380.6 1440.8,380.5 1441.0,380.6 1441.2,380.5 1441.5,380.5 1441.8,380.5 1442.0,380.5 1442.2,380.3 1442.5,380.5 1442.8,380.6 1443.0,380.4 1443.2,380.4 1443.5,380.4 1443.8,380.3 1444.0,380.6 1444.2,380.4 1444.5,380.4 1444.8,380.5 1445.0,380.5 1445.2,380.6 1445.5,380.5 1445.8,380.3 1446.0,380.6 1446.2,380.5 1446.5,380.5 1446.8,380.4 1447.0,380.3 1447.2,380.6 1447.5,380.5 1447.8,380.4 1448.0,380.6 1448.2,380.5 1448.5,380.3 1448.8,380.4 1449.0,380.4 1449.2,380.6 1449.5,380.5 1449.8,380.4 1450.0,380.5 1450.2,380.5 1450.5,380.2 1450.8,380.5 1451.0,380.6 1451.2,380.5 1451.5,380.5 1451.8,380.5 1452.0,380.5 1452.2,380.4 1452.5,380.5 1452.8,380.6 1453.0,380.5 1453.2,380.4 1453.5,380.5 1453.8,380.4 1454.0,380.4 1454.2,380.6 1454.5,380.4 1454.8,380.3 1455.0,380.3 1455.2,380.5 1455.5,380.4 1455.8,380.5 1456.0,380.6 1456.2,380.4 1456.5,380.5 1456.8,380.4 1457.0,380.5 1457.2,380.4 1457.5,380.5 1457.8,380.4 1458.0,380.4 1458.2,380.5 1458.5,380.4 1458.8,380.6 1459.0,380.5 1459.2,380.4 1459.5,380.3 1459.8,380.5 1460.0,380.5 1460.2,380.6 1460.5,380.4 1460.8,380.4 1461.0,380.6 1461.2,380.4 1461.5,380.4 1461.8,380.4 1462.0,380.6 1462.2,380.4 1462.5,380.6 1462.8,380.3 1463.0,380.5 1463.2,380.6 1463.5,380.4 1463.8,380.4 1464.0,380.5 1464.2,380.3 1464.5,380.6 1464.8,380.4 1465.0,380.4 1465.2,380.6 1465.5,380.4 1465.8,380.5 1466.0,380.5 1466.2,380.6 1466.5,380.4 1466.8,380.6 1467.0,380.6 1467.2,380.5 1467.5,380.6 1467.8,380.3 1468.0,380.6 1468.2,380.5 1468.5,380.5 1468.8,380.5 1469.0,380.4 1469.2,380.4 1469.5,380.5 1469.8,380.5 1470.0,380.5 1470.2,380.4 1470.5,380.4 1470.8,380.5 1471.0,380.6 1471.2,380.3 1471.5,380.4 1471.8,380.5 1472.0,380.4 1472.2,380.5 1472.5,380.6 1472.8,380.5 1473.0,380.5 1473.2,380.5 1473.5,380.6 1473.8,380.5 1474.0,380.4 1474.2,380.5 1474.5,380.5 1474.8,380.6 1475.0,380.5 1475.2,380.5 1475.5,380.6 1475.8,380.6 1476.0,380.4 1476.2,380.5 1476.5,380.4 1476.8,380.5 1477.0,380.4 1477.2,380.5 1477.5,380.6 1477.8,380.5 1478.0,380.5 1478.2,380.4 1478.5,380.5 1478.8,380.5 1479.0,380.4 1479.2,380.3 1479.5,380.2 1479.8,379.9 1480.0,379.4 1480.2,378.7 1480.5,377.6 1480.8,376.5 1481.0,375.5 1481.2,374.9 1481.4,374.6 1481.5,374.8 1481.8,375.4 1482.0,376.4 1482.2,377.5 1482.5,378.5 1482.8,379.5 1483.0,380.1 1483.2,380.2 1483.5,380.5 1483.8,380.4 1484.0,380.5 1484.2,380.4 1484.5,380.3 1484.8,380.4 1485.0,380.5 1485.2,380.6 1485.5,380.5 1485.8,380.5 1486.0,380.6 1486.2,380.5 1486.5,380.5 1486.8,380.4 1487.0,380.5 1487.2,380.5 1487.5,380.5 1487.8,380.5 1488.0,380.6 1488.2,380.5 1488.5,380.3 1488.8,380.5 1489.0,380.4 1489.2,380.6 1489.5,380.4 1489.8,380.5 1490.0,380.4 1490.2,380.5 1490.5,380.6 1490.8,380.4 1491.0,380.5 1491.2,380.5 1491.5,380.4 1491.8,380.5 1492.0,380.5 1492.2,380.4 1492.5,380.5 1492.8,380.5 1493.0,380.5 1493.2,380.6 1493.5,380.5 1493.8,380.5 1494.0,380.5 1494.2,380.4 1494.5,380.6 1494.8,380.5 1495.0,380.6 1495.2,380.6 1495.5,380.5 1495.8,380.6 1496.0,380.6 1496.2,380.5 1496.5,380.5 1496.8,380.5 1497.0,380.5 1497.2,380.3 1497.5,380.5 1497.8,380.6 1498.0,380.3 1498.2,380.4 1498.5,380.5 1498.8,380.4 1499.0,380.5 1499.2,380.4 1499.5,380.5 1499.8,380.6 1500.0,380.4 1500.2,380.5 1500.5,380.6 1500.8,380.5 1501.0,380.4 1501.2,380.5 1501.5,380.5 1501.8,380.4 1502.0,380.5 1502.2,380.6 1502.5,380.4 1502.8,380.4 1503.0,380.4 1503.2,380.3 1503.5,380.4 1503.8,380.4 1504.0,380.3 1504.2,380.3 1504.5,379.8 1504.8,379.2 1505.0,378.7 1505.2,378.2 1505.4,378.2 1505.5,378.4 1505.8,378.6 1506.0,379.2 1506.2,379.8 1506.5,380.2 1506.8,380.3 1507.0,380.4 1507.2,380.5 1507.5,380.4 1507.8,380.4 1508.0,380.5 1508.2,380.5 1508.5,380.5 1508.8,380.5 1509.0,380.4 1509.2,380.4 1509.5,380.3 1509.8,380.3 1510.0,380.2 1510.2,380.0 1510.5,379.5 1510.8,378.9 1511.0,378.0 1511.2,377.3 1511.5,376.9 1511.6,376.8 1511.8,376.9 1512.0,377.5 1512.2,378.4 1512.5,379.0 1512.8,379.7 1513.0,380.1 1513.2,380.3 1513.5,380.4 1513.8,380.5 1514.0,380.5 1514.2,380.6 1514.5,380.6 1514.8,380.6 1515.0,380.3 1515.2,380.6 1515.5,380.4 1515.8,380.4 1516.0,380.5 1516.2,380.3 1516.5,380.3 1516.8,380.4 1517.0,380.3 1517.2,380.4 1517.5,380.5 1517.8,380.4 1518.0,380.5 1518.2,380.6 1518.5,380.6 1518.8,380.3 1519.0,380.5 1519.2,380.5 1519.5,380.5 1519.8,380.5 1520.0,380.5 1520.2,380.5 1520.5,380.6 1520.8,380.6 1521.0,380.5 1521.2,380.5 1521.5,380.3 1521.8,380.4 1522.0,380.3 1522.2,380.4 1522.5,380.5 1522.8,380.6 1523.0,380.5 1523.2,380.6 1523.5,380.5 1523.8,380.3 1524.0,380.5 1524.2,380.4 1524.5,380.5 1524.8,380.6 1525.0,380.5 1525.2,380.5 1525.5,380.4 1525.8,380.3 1526.0,380.5 1526.2,380.5 1526.5,380.5 1526.8,380.5 1527.0,380.6 1527.2,380.5 1527.5,380.4 1527.8,380.4 1528.0,380.6 1528.2,380.5 1528.5,380.6 1528.8,380.4 1529.0,380.6 1529.2,380.5 1529.5,380.5 1529.8,380.5 1530.0,380.6 1530.2,380.6 1530.5,380.3 1530.8,380.5 1531.0,380.5 1531.2,380.3 1531.5,380.5 1531.8,380.4 1532.0,380.5 1532.2,380.4 1532.5,380.4 1532.8,380.5 1533.0,380.5 1533.2,380.5 1533.5,380.4 1533.8,380.6 1534.0,380.5 1534.2,380.5 1534.5,380.5 1534.8,380.6 1535.0,380.4 1535.2,380.6 1535.5,380.5 1535.8,380.5 1536.0,380.6 1536.2,380.5 1536.5,380.6 1536.8,380.6 1537.0,380.5 1537.2,380.5 1537.5,380.5 1537.8,380.5 1538.0,380.3 1538.2,380.4 1538.5,380.6 1538.8,380.5 1539.0,380.5 1539.2,380.5 1539.5,380.5 1539.8,380.6 1540.0,380.3 1540.2,380.5 1540.5,380.5 1540.8,380.5 1541.0,380.5 1541.2,380.4 1541.5,380.4 1541.8,380.4 1542.0,380.6 1542.2,380.5 1542.5,380.4 1542.8,380.3 1543.0,380.5 1543.2,380.6 1543.5,380.4 1543.8,380.5 1544.0,380.6 1544.2,380.5 1544.5,380.4 1544.8,380.4 1545.0,380.4 1545.2,380.6 1545.5,380.3 1545.8,380.6 1546.0,380.5 1546.2,380.6 1546.5,380.4 1546.8,380.4 1547.0,380.4 1547.2,380.5 1547.5,380.5 1547.8,380.5 1548.0,380.6 1548.2,380.4 1548.5,380.4 1548.8,380.5 1549.0,380.5 1549.2,380.5 1549.5,380.3 1549.8,380.4 1550.0,380.5 1550.2,380.5 1550.5,380.6 1550.8,380.5 1551.0,380.5 1551.2,380.5 1551.5,380.5 1551.8,380.4 1552.0,380.4 1552.2,380.5 1552.5,380.4 1552.8,380.5 1553.0,380.5 1553.2,380.4 1553.5,380.6 1553.8,380.4 1554.0,380.6 1554.2,380.4 1554.5,380.5 1554.8,380.4 1555.0,380.5 1555.2,380.6 1555.5,380.4 1555.8,380.5 1556.0,380.5 1556.2,380.5 1556.5,380.4 1556.8,380.4 1557.0,380.5 1557.2,380.6 1557.5,380.5 1557.8,380.5 1558.0,380.3 1558.2,380.4 1558.5,380.5 1558.8,380.4 1559.0,380.5 1559.2,380.5 1559.5,380.5 1559.8,380.6 1560.0,380.4 1560.2,380.4 1560.5,380.5 1560.8,380.6 1561.0,380.5 1561.2,380.4 1561.5,380.5 1561.8,380.6 1562.0,380.4 1562.2,380.6 1562.5,380.6 1562.8,380.5 1563.0,380.5 1563.2,380.5 1563.5,380.5 1563.8,380.5 1564.0,380.5 1564.2,380.5 1564.5,380.5 1564.8,380.4 1565.0,380.4 1565.2,380.4 1565.5,380.4 1565.8,380.6 1566.0,380.6 1566.2,380.5 1566.5,380.5 1566.8,380.6 1567.0,380.4 1567.2,380.5 1567.5,380.5 1567.8,380.5 1568.0,380.5 1568.2,380.5 1568.5,380.4 1568.8,380.5 1569.0,380.6 1569.2,380.5 1569.5,380.5 1569.8,380.6 1570.0,380.4 1570.2,380.6 1570.5,380.3 1570.8,380.4 1571.0,380.6 1571.2,380.5 1571.5,380.4 1571.8,380.5 1572.0,380.6 1572.2,380.5 1572.5,380.3 1572.8,380.6 1573.0,380.4 1573.2,380.5 1573.5,380.5 1573.8,380.5 1574.0,380.5 1574.2,380.4 1574.5,380.4 1574.8,380.6 1575.0,380.3 1575.2,380.6 1575.5,380.4 1575.8,380.5 1576.0,380.4 1576.2,380.4 1576.5,380.4 1576.8,380.5 1577.0,380.4 1577.2,380.5 1577.5,380.3 1577.8,380.5 1578.0,380.4 1578.2,380.4 1578.5,380.5 1578.8,380.5 1579.0,380.4 1579.2,380.6 1579.5,380.6 1579.8,380.4 1580.0,380.6 1580.2,380.4 1580.5,380.5 1580.8,380.5 1581.0,380.5 1581.2,380.4 1581.5,380.5 1581.8,380.5 1582.0,380.5 1582.2,380.4 1582.5,380.4 1582.8,380.4 1583.0,380.4 1583.2,380.5 1583.5,380.6 1583.8,380.4 1584.0,380.4 1584.2,380.5 1584.5,380.4 1584.8,380.4 1585.0,380.5 1585.2,380.4 1585.5,380.5 1585.8,380.6 1586.0,380.5 1586.2,380.5 1586.5,380.4 1586.8,380.6 1587.0,380.5 1587.2,380.6 1587.5,380.5 1587.8,380.5 1588.0,380.4 1588.2,380.4 1588.5,380.5 1588.8,380.5 1589.0,380.5 1589.2,380.5 1589.5,380.4 1589.8,380.6 1590.0,380.5 1590.2,380.5 1590.5,380.4 1590.8,380.6 1591.0,380.5 1591.2,380.4 1591.5,380.5 1591.8,380.6 1592.0,380.5 1592.2,380.6 1592.5,380.4 1592.8,380.6 1593.0,380.3 1593.2,380.5 1593.5,380.5 1593.8,380.5 1594.0,380.6 1594.2,380.4 1594.5,380.4 1594.8,380.5 1595.0,380.4 1595.2,380.6 1595.5,380.5 1595.8,380.3 1596.0,380.6 1596.2,380.4 1596.5,380.4 1596.8,380.6 1597.0,380.6 1597.2,380.6 1597.5,380.4 1597.8,380.5 1598.0,380.5 1598.2,380.4 1598.5,380.5 1598.8,380.5 1599.0,380.5 1599.2,380.4 1599.5,380.5 1599.8,380.3 1600.0,380.5 1600.2,380.5 1600.5,380.4 1600.8,380.4 1601.0,380.6 1601.2,380.5 1601.5,380.6 1601.8,380.5 1602.0,380.4 1602.2,380.6 1602.5,380.5 1602.8,380.5 1603.0,380.3 1603.2,380.5 1603.5,380.6 1603.8,380.6 1604.0,380.6 1604.2,380.5 1604.5,380.5 1604.8,380.4 1605.0,380.5 1605.2,380.5 1605.5,380.5 1605.8,380.5 1606.0,380.5 1606.2,380.4 1606.5,380.4 1606.8,380.5 1607.0,380.6 1607.2,380.5 1607.5,380.5 1607.8,380.6 1608.0,380.5 1608.2,380.4 1608.5,380.5 1608.8,380.6 1609.0,380.3 1609.2,380.4 1609.5,380.5 1609.8,380.4 1610.0,380.4 1610.2,380.6 1610.5,380.3 1610.8,380.6 1611.0,380.5 1611.2,380.6 1611.5,380.5 1611.8,380.6 1612.0,380.5 1612.2,380.4 1612.5,380.5 1612.8,380.5 1613.0,380.3 1613.2,380.3 1613.5,379.9 1613.8,379.5 1614.0,378.8 1614.2,378.1 1614.5,377.6 1614.7,377.5 1614.8,377.6 1615.0,377.8 1615.2,378.4 1615.5,379.1 1615.8,379.8 1616.0,380.1 1616.2,380.4 1616.5,380.4 1616.8,380.4 1617.0,380.5 1617.2,380.5 1617.5,380.5 1617.8,380.6 1618.0,380.6 1618.2,380.5 1618.5,380.6 1618.8,380.6 1619.0,380.6 1619.2,380.4 1619.5,380.6 1619.8,380.5 1620.0,380.5 1620.2,380.6 1620.5,380.6 1620.8,380.4 1621.0,380.5 1621.2,380.4 1621.5,380.3 1621.8,380.5 1622.0,380.5 1622.2,380.5 1622.5,380.5 1622.8,380.5 1623.0,380.6 1623.2,380.3 1623.5,380.6 1623.8,380.5 1624.0,380.5 1624.2,380.5 1624.5,380.6 1624.8,380.5 1625.0,380.5 1625.2,380.6 1625.5,380.5 1625.8,380.5 1626.0,380.5 1626.2,380.4 1626.5,380.6 1626.8,380.5 1627.0,380.5 1627.2,380.5 1627.5,380.5 1627.8,380.5 1628.0,380.6 1628.2,380.6 1628.5,380.6 1628.8,380.5 1629.0,380.4 1629.2,380.4 1629.5,380.5 1629.8,380.5 1630.0,380.6 1630.2,380.6 1630.5,380.6 1630.8,380.5 1631.0,380.6 1631.2,380.6 1631.5,380.4 1631.8,380.6 1632.0,380.6 1632.2,380.3 1632.5,380.5 1632.8,380.5 1633.0,380.4 1633.2,380.6 1633.5,380.4 1633.8,380.6 1634.0,380.6 1634.2,380.5 1634.5,380.6 1634.8,380.4 1635.0,380.6 1635.2,380.6 1635.5,380.5 1635.8,380.4 1636.0,380.4 1636.2,380.5 1636.5,380.3 1636.8,380.5 1637.0,380.5 1637.2,380.4 1637.5,380.5 1637.8,380.5 1638.0,380.5 1638.2,380.5 1638.5,380.6 1638.8,380.5 1639.0,380.6 1639.2,380.5 1639.5,380.6 1639.8,380.3 1640.0,380.4 1640.2,380.4 1640.5,380.5 1640.8,380.5 1641.0,380.4 1641.2,380.5 1641.5,380.4 1641.8,380.6 1642.0,380.4 1642.2,380.6 1642.5,380.5 1642.8,380.6 1643.0,380.5 1643.2,380.5 1643.5,380.5 1643.8,380.5 1644.0,380.4 1644.2,380.5 1644.5,380.4 1644.8,380.6 1645.0,380.4 1645.2,380.5 1645.5,380.6 1645.8,380.6 1646.0,380.4 1646.2,380.6 1646.5,380.5 1646.8,380.4 1647.0,380.5 1647.2,380.5 1647.5,380.6 1647.8,380.5 1648.0,380.4 1648.2,380.5 1648.5,380.6 1648.8,380.4 1649.0,380.5 1649.2,380.6 1649.5,380.4 1649.8,380.6 1650.0,380.3 1650.2,380.5 1650.5,380.4 1650.8,380.5 1651.0,380.6 1651.2,380.5 1651.5,380.5 1651.8,380.5 1652.0,380.4 1652.2,380.6 1652.5,380.5 1652.8,380.4 1653.0,380.5 1653.2,380.6 1653.5,380.6 1653.8,380.4 1654.0,380.4 1654.2,380.6 1654.5,380.6 1654.8,380.4 1655.0,380.6 1655.2,380.5 1655.5,380.6 1655.8,380.6 1656.0,380.5 1656.2,380.5 1656.5,380.4 1656.8,380.3 1657.0,380.5 1657.2,380.4 1657.5,380.4 1657.8,380.5 1658.0,380.6 1658.2,380.4 1658.5,380.5 1658.8,380.5 1659.0,380.5 1659.2,380.5 1659.5,380.5 1659.8,380.4 1660.0,380.4 1660.2,380.5 1660.5,380.6 1660.8,380.5 1661.0,380.6 1661.2,380.5 1661.5,380.4 1661.8,380.3 1662.0,380.5 1662.2,380.6 1662.5,380.4 1662.8,380.6 1663.0,380.6 1663.2,380.4 1663.5,380.4 1663.8,380.6 1664.0,380.6 1664.2,380.4 1664.5,380.5 1664.8,380.5 1665.0,380.5 1665.2,380.5 1665.5,380.6 1665.8,380.4 1666.0,380.5 1666.2,380.6 1666.5,380.6 1666.8,380.5 1667.0,380.6 1667.2,380.4 1667.5,380.5 1667.8,380.4 1668.0,380.5 1668.2,380.5 1668.5,380.6 1668.8,380.6 1669.0,380.4 1669.2,380.2 1669.5,380.6 1669.8,380.6 1670.0,380.5 1670.2,380.5 1670.5,380.6 1670.8,380.5 1671.0,380.6 1671.2,380.5 1671.5,380.4 1671.8,380.4 1672.0,380.5 1672.2,380.5 1672.5,380.5 1672.8,380.4 1673.0,380.5 1673.2,380.6 1673.5,380.5 1673.8,380.4 1674.0,380.6 1674.2,380.6 1674.5,380.5 1674.8,380.5 1675.0,380.4 1675.2,380.5 1675.5,380.5 1675.8,380.5 1676.0,380.6 1676.2,380.6 1676.5,380.5 1676.8,380.5 1677.0,380.4 1677.2,380.6 1677.5,380.5 1677.8,380.5 1678.0,380.4 1678.2,380.5 1678.5,380.5 1678.8,380.4 1679.0,380.5 1679.2,380.5 1679.5,380.4 1679.8,380.4 1680.0,380.4 1680.2,380.4 1680.5,380.4 1680.8,380.5 1681.0,380.6 1681.2,380.4 1681.5,380.5 1681.8,380.4 1682.0,380.5 1682.2,380.6 1682.5,380.6 1682.8,380.4 1683.0,380.4 1683.2,380.5 1683.5,380.5 1683.8,380.4 1684.0,380.6 1684.2,380.5 1684.5,380.6 1684.8,380.4 1685.0,380.5 1685.2,380.5 1685.5,380.6 1685.8,380.5 1686.0,380.4 1686.2,380.5 1686.5,380.5 1686.8,380.4 1687.0,380.6 1687.2,380.5 1687.5,380.4 1687.8,380.6 1688.0,380.6 1688.2,380.5 1688.5,380.5 1688.8,380.4 1689.0,380.3 1689.2,380.1 1689.5,380.0 1689.8,379.8 1690.0,379.7 1690.2,379.7 1690.5,379.8 1690.8,380.2 1691.0,380.2 1691.2,380.3 1691.5,380.5 1691.8,380.4 1692.0,380.4 1692.2,380.4 1692.5,380.6 1692.8,380.4 1693.0,380.5 1693.2,380.5 1693.5,380.4 1693.8,380.4 1694.0,380.6 1694.2,380.5 1694.5,380.5 1694.8,380.6 1695.0,380.4 1695.2,380.5 1695.5,380.5 1695.8,380.5 1696.0,380.4 1696.2,380.5 1696.5,380.5 1696.8,380.4 1697.0,380.5 1697.2,380.5 1697.5,380.6 1697.8,380.4 1698.0,380.5 1698.2,380.5 1698.5,380.5 1698.8,380.5 1699.0,380.6 1699.2,380.6 1699.5,380.5 1699.8,380.5 1700.0,380.4 1700.2,380.6 1700.5,380.5 1700.8,380.6 1701.0,380.4 1701.2,380.6 1701.5,380.4 1701.8,380.4 1702.0,380.5 1702.2,380.4 1702.5,380.6 1702.8,380.5 1703.0,380.6 1703.2,380.5 1703.5,380.5 1703.8,380.4 1704.0,380.2 1704.2,380.0 1704.5,379.8 1704.8,379.6 1705.0,379.6 1705.2,379.6 1705.5,379.6 1705.8,380.1 1706.0,380.2 1706.2,380.4 1706.5,380.4 1706.8,380.4 1707.0,380.5 1707.2,380.6 1707.5,380.5 1707.8,380.4 1708.0,380.5 1708.2,380.4 1708.5,380.5 1708.8,380.6 1709.0,380.5 1709.2,380.5 1709.5,380.5 1709.8,380.5 1710.0,380.5 1710.2,380.5 1710.5,380.5 1710.8,380.5 1711.0,380.6 1711.2,380.5 1711.5,380.5 1711.8,380.6 1712.0,380.5 1712.2,380.5 1712.5,380.5 1712.8,380.4 1713.0,380.5 1713.2,380.6 1713.5,380.6 1713.8,380.4 1714.0,380.5 1714.2,380.6 1714.5,380.5 1714.8,380.5 1715.0,380.5 1715.2,380.4 1715.5,380.6 1715.8,380.5 1716.0,380.5 1716.2,380.5 1716.5,380.6 1716.8,380.5 1717.0,380.6 1717.2,380.4 1717.5,380.4 1717.8,380.4 1718.0,380.4 1718.2,380.5 1718.5,380.4 1718.8,380.5 1719.0,380.4 1719.2,380.6 1719.5,380.5 1719.8,380.5 1720.0,380.4 1720.2,380.5 1720.5,380.3 1720.8,380.3 1721.0,380.6 1721.2,380.5 1721.5,380.6 1721.8,380.5 1722.0,380.5 1722.2,380.5 1722.5,380.4 1722.8,380.4 1723.0,380.5 1723.2,380.5 1723.5,380.5 1723.8,380.5 1724.0,380.5 1724.2,380.5 1724.5,380.5 1724.8,380.6 1725.0,380.4 1725.2,380.4 1725.5,380.5 1725.8,380.6 1726.0,380.4 1726.2,380.5 1726.5,380.6 1726.8,380.5 1727.0,380.4 1727.2,380.5 1727.5,380.4 1727.8,380.4 1728.0,380.5 1728.2,380.6 1728.5,380.6 1728.8,380.5 1729.0,380.4 1729.2,380.6 1729.5,380.5 1729.8,380.5 1730.0,380.6 1730.2,380.6 1730.5,380.5 1730.8,380.5 1731.0,380.5 1731.2,380.6 1731.5,380.5 1731.8,380.6 1732.0,380.4 1732.2,380.5 1732.5,380.5 1732.8,380.4 1733.0,380.5 1733.2,380.4 1733.5,380.4 1733.8,380.5 1734.0,380.4 1734.2,380.5 1734.5,380.4 1734.8,380.5 1735.0,380.6 1735.2,380.5 1735.5,380.5 1735.8,380.5 1736.0,380.5 1736.2,380.4 1736.5,380.5 1736.8,380.5 1737.0,380.6 1737.2,380.5 1737.5,380.4 1737.8,380.4 1738.0,380.5 1738.2,380.5 1738.5,380.6 1738.8,380.5 1739.0,380.6 1739.2,380.6 1739.5,380.4 1739.8,380.6 1740.0,380.4 1740.2,380.6 1740.5,380.5 1740.8,380.6 1741.0,380.5 1741.2,380.6 1741.5,380.5 1741.8,380.5 1742.0,380.5 1742.2,380.5 1742.5,380.4 1742.8,380.5 1743.0,380.4 1743.2,380.5 1743.5,380.5 1743.8,380.3 1744.0,380.6 1744.2,380.6 1744.5,380.6 1744.8,380.5 1745.0,380.5 1745.2,380.2 1745.5,380.5 1745.8,380.4 1746.0,380.4 1746.2,380.5 1746.5,380.5 1746.8,380.4 1747.0,380.5 1747.2,380.5 1747.5,380.5 1747.8,380.6 1748.0,380.6 1748.2,380.5 1748.5,380.5 1748.8,380.6 1749.0,380.5 1749.2,380.5 1749.5,380.5 1749.8,380.4 1750.0,380.5 1750.2,380.5 1750.5,380.6 1750.8,380.6 1751.0,380.5 1751.2,380.6 1751.5,380.5 1751.8,380.6 1752.0,380.6 1752.2,380.4 1752.5,380.6 1752.8,380.6 1753.0,380.6 1753.2,380.5 1753.5,380.3 1753.8,380.6 1754.0,380.5 1754.2,380.5 1754.5,380.4 1754.8,380.5 1755.0,380.6 1755.2,380.4 1755.5,380.6 1755.8,380.5 1756.0,380.6 1756.2,380.6 1756.5,380.5 1756.8,380.4 1757.0,380.4 1757.2,380.5 1757.5,380.5 1757.8,380.5 1758.0,380.5 1758.2,380.5 1758.5,380.5 1758.8,380.5 1759.0,380.5 1759.2,380.5 1759.5,380.5 1759.8,380.6 1760.0,380.4 1760.2,380.5 1760.5,380.4 1760.8,380.5 1761.0,380.4 1761.2,380.6 1761.5,380.3 1761.8,380.5 1762.0,380.6 1762.2,380.5 1762.5,380.3 1762.8,380.5 1763.0,380.6 1763.2,380.5 1763.5,380.4 1763.8,380.6 1764.0,380.5 1764.2,380.5 1764.5,380.3 1764.8,380.5 1765.0,380.4 1765.2,380.6 1765.5,380.6 1765.8,380.4 1766.0,380.5 1766.2,380.6 1766.5,380.5 1766.8,380.5 1767.0,380.5 1767.2,380.5 1767.5,380.5 1767.8,380.5 1768.0,380.4 1768.2,380.3 1768.5,380.0 1768.8,379.7 1769.0,379.2 1769.2,379.1 1769.4,378.9 1769.5,378.9 1769.8,379.2 1770.0,379.5 1770.2,379.8 1770.5,380.1 1770.8,380.5 1771.0,380.4 1771.2,380.5 1771.5,380.5 1771.8,380.5 1772.0,380.5 1772.2,380.4 1772.5,380.5 1772.8,380.5 1773.0,380.6 1773.2,380.5 1773.5,380.5 1773.8,380.4 1774.0,380.6 1774.2,380.5 1774.5,380.5 1774.8,380.6 1775.0,380.5" fill="none" stroke="#ff5020" stroke-width="0.7" stroke-linejoin="round"/>
<path d="M81.8,381 L83,379.0 L84.5,379.6 L87,380.4 L87,381 Z" fill="#aab4c2" fill-opacity="0.8"/>
</g>
<g opacity="0.6"><path d="M1733,68.2 L1710.6,106.8 L1755.4,106.8 Z" fill="#f8cf45" stroke="#444" stroke-width="2.6" stroke-linejoin="miter"/><path d="M1726.4,87.0 C1726.4,84.2 1727.9,82.9 1729.5,83.9 C1730.9,85.0 1732.2,89.5 1733.3,93.0" fill="none" stroke="#333" stroke-width="1.8" stroke-linecap="round"/><path d="M1737.3,82.9 L1739.7,83.9 L1734.4,93.4 L1733.2,92.8 Z" fill="#333"/><path d="M1732.6,93.8 L1734.2,93.8 L1733.9,100.5 L1733.8,104.0 L1731.8,104.0 L1732.2,100.5 Z" fill="#333"/></g>
<path d="M78,59H1776 M79,58V382.45 M1775,58V382.45 M78,381.45H1776" fill="none" stroke="#444" stroke-width="2"/>
<g fill="#444" font-family="Liberation Sans, sans-serif" stroke="#444" stroke-width="0.12">
<text x="832.60" y="30.40" font-size="17.00" textLength="148.94" lengthAdjust="spacingAndGlyphs">Energy Spectrum</text>
<text x="31.10" y="91.03" font-size="12.00" textLength="45.16" lengthAdjust="spacingAndGlyphs">10k cts</text>
<text x="68.40" y="326.07" font-size="12.00" textLength="6.93" lengthAdjust="spacingAndGlyphs">2</text>
<text x="68.40" y="267.31" font-size="12.00" textLength="6.93" lengthAdjust="spacingAndGlyphs">4</text>
<text x="68.40" y="208.55" font-size="12.00" textLength="6.93" lengthAdjust="spacingAndGlyphs">6</text>
<text x="68.40" y="149.79" font-size="12.00" textLength="6.93" lengthAdjust="spacingAndGlyphs">8</text>
<text x="68.30" y="384.80" font-size="12.00" textLength="7.04" lengthAdjust="spacingAndGlyphs">0</text>
<text x="63.18" y="396.90" font-size="12.00" textLength="34.55" lengthAdjust="spacingAndGlyphs">0 keV</text>
<text x="257.75" y="396.90" font-size="12.00" textLength="51.15" lengthAdjust="spacingAndGlyphs">200 keV</text>
<text x="462.12" y="396.90" font-size="12.00" textLength="50.11" lengthAdjust="spacingAndGlyphs">400 keV</text>
<text x="665.50" y="396.90" font-size="12.00" textLength="50.11" lengthAdjust="spacingAndGlyphs">600 keV</text>
<text x="868.88" y="396.90" font-size="12.00" textLength="50.13" lengthAdjust="spacingAndGlyphs">800 keV</text>
<text x="1067.35" y="396.90" font-size="12.00" textLength="59.94" lengthAdjust="spacingAndGlyphs">1000 keV</text>
<text x="1270.73" y="396.90" font-size="12.00" textLength="58.96" lengthAdjust="spacingAndGlyphs">1200 keV</text>
<text x="1474.10" y="396.90" font-size="12.00" textLength="58.96" lengthAdjust="spacingAndGlyphs">1400 keV</text>
<text x="1677.48" y="396.90" font-size="12.00" textLength="59.96" lengthAdjust="spacingAndGlyphs">1600 keV</text>
<text x="881.20" y="509.90" font-size="14.00" textLength="91.85" lengthAdjust="spacingAndGlyphs">Energy [keV]</text>
<text x="120.30" y="512.20" font-size="12.00" textLength="98.52" lengthAdjust="spacingAndGlyphs">Clean Spectrum</text>
<text x="268.50" y="512.20" font-size="12.00" textLength="137.22" lengthAdjust="spacingAndGlyphs">Background Spectrum</text>
<text transform="translate(40.80,258.60) rotate(-90)" font-size="14.00" textLength="77.29" lengthAdjust="spacingAndGlyphs">Counts [1]</text>
</g>
<rect x="85" y="505" width="30" height="6" fill="#ff9f7c"/>
<rect x="234" y="505" width="30" height="6" fill="#b0b9c5"/>
<rect x="79.5" y="415.5" width="1694.0" height="63.0" fill="#fff" stroke="#444" stroke-width="1"/>
<path d="M80.5,478.5 L80.5,476.7 81.2,476.5 82.0,475.4 82.7,474.4 83.5,474.3 84.2,474.6 85.0,475.4 85.7,475.4 86.5,475.4 87.2,475.6 88.0,475.9 88.7,475.9 89.5,475.8 90.2,476.0 91.0,476.2 91.7,476.3 92.5,476.2 93.2,476.4 94.0,476.3 94.7,476.2 95.5,476.3 96.2,476.6 97.0,476.3 97.7,476.6 98.5,476.5 99.2,476.4 100.0,476.6 100.7,476.6 101.5,476.6 102.2,476.7 103.0,476.6 103.7,476.5 104.5,476.8 105.2,476.9 106.0,476.6 106.7,476.7 107.5,476.7 108.2,476.6 109.0,476.7 109.7,476.8 110.5,476.7 111.2,477.0 112.0,477.0 112.7,476.7 113.5,476.7 114.2,476.6 115.0,476.8 115.7,476.9 116.5,476.9 117.2,476.8 118.0,476.9 118.7,476.8 119.5,477.0 120.2,476.9 121.0,476.6 121.7,476.9 122.4,476.8 123.2,476.8 123.9,477.0 124.7,476.9 125.4,476.9 126.2,476.9 126.9,476.6 127.6,476.3 128.2,476.5 128.9,476.7 129.7,476.9 130.4,476.7 131.2,476.6 131.9,477.0 132.7,476.8 133.4,477.0 134.2,476.2 134.3,476.1 134.7,476.5 135.4,477.0 136.2,476.7 136.9,476.9 137.7,476.8 138.4,476.4 139.2,476.7 139.9,476.7 140.7,476.5 141.4,476.5 142.2,476.7 142.9,476.2 143.7,476.5 144.4,476.2 145.2,476.0 145.9,476.2 146.7,475.8 147.4,475.8 148.2,475.5 148.9,475.6 149.7,475.5 150.4,475.7 151.2,476.0 151.9,476.2 152.7,475.7 153.4,475.7 154.2,475.7 154.9,475.1 155.7,467.5 156.1,459.9 156.2,460.2 156.9,473.5 157.7,475.1 158.4,459.8 158.8,448.5 158.9,449.5 159.7,473.0 160.4,474.4 160.8,473.7 160.9,474.0 161.7,475.7 162.4,476.1 163.2,476.3 163.9,476.5 164.6,476.5 165.4,476.4 165.7,475.8 165.9,476.0 166.6,476.8 167.4,476.7 168.1,473.2 168.7,468.1 169.4,474.7 170.1,477.0 170.9,476.0 171.6,473.1 172.1,475.0 172.9,476.6 173.6,476.6 174.4,476.4 175.1,476.7 175.9,476.7 176.6,477.0 177.4,476.8 178.1,477.0 178.9,476.9 179.6,477.1 180.4,476.9 181.1,476.9 181.9,477.0 182.6,477.0 183.4,476.9 184.1,476.8 184.9,476.9 185.6,477.0 186.4,477.1 187.1,477.1 187.9,477.1 188.6,477.1 189.4,476.8 190.1,477.0 190.9,477.0 191.6,477.1 192.4,476.8 193.1,477.2 193.9,477.2 194.6,477.1 195.4,477.1 196.1,477.0 196.9,476.9 197.6,477.2 198.4,476.9 199.1,476.9 199.9,477.1 200.6,476.9 201.4,477.1 202.1,477.3 202.9,476.8 203.6,477.1 204.4,476.8 205.1,477.2 205.9,477.0 206.6,476.9 207.3,476.7 208.1,476.9 208.8,476.9 209.6,476.9 210.3,477.0 211.1,477.0 211.8,477.1 212.6,477.0 213.3,476.9 214.1,477.0 214.8,477.0 215.6,477.1 216.3,476.9 217.1,477.1 217.8,476.9 218.6,476.9 219.3,476.9 220.1,476.8 220.8,477.1 221.6,477.2 222.3,477.1 223.1,477.0 223.8,476.7 224.6,477.1 225.3,476.8 226.1,477.0 226.8,476.8 227.6,476.9 228.3,477.1 229.1,476.8 229.8,477.0 230.6,476.9 231.3,477.0 232.1,477.2 232.8,476.8 233.6,476.8 234.3,476.9 235.1,476.6 235.8,476.8 236.6,476.7 237.3,476.9 238.1,477.1 238.8,476.9 239.6,476.8 240.3,476.7 241.1,477.0 241.8,476.9 242.6,477.0 243.3,476.7 244.1,476.7 244.8,476.8 245.6,476.9 246.3,476.8 247.1,477.0 247.8,476.9 248.6,476.9 249.3,476.9 250.0,476.8 250.8,476.9 251.5,477.0 252.3,476.7 253.0,476.6 253.8,476.7 254.5,476.9 255.3,476.7 256.0,476.7 256.8,476.7 257.5,476.8 258.3,476.9 259.0,476.7 259.8,476.6 260.5,476.9 261.3,476.8 262.0,477.0 262.8,476.8 263.5,476.9 264.3,476.6 265.0,476.7 265.8,476.8 266.5,476.8 267.3,476.9 268.0,476.8 268.8,476.1 269.5,465.9 269.8,463.6 270.3,470.6 271.0,476.8 271.8,477.0 272.5,476.8 273.3,476.8 274.0,476.8 274.8,477.0 275.5,476.9 276.3,477.0 277.0,477.1 277.8,477.0 278.5,477.0 279.3,476.8 280.0,476.7 280.2,476.6 280.5,476.9 281.3,477.0 282.0,477.0 282.8,477.1 283.5,477.0 284.3,477.1 285.0,476.8 285.8,477.2 286.5,477.1 287.3,477.2 288.0,477.3 288.8,477.2 289.5,477.1 290.3,477.3 291.0,477.3 291.7,477.2 292.5,477.1 293.2,476.9 294.0,477.2 294.7,477.3 295.5,477.3 296.2,477.2 297.0,477.2 297.7,477.3 298.5,477.4 299.2,477.2 300.0,477.4 300.7,477.5 301.5,477.5 302.2,477.5 303.0,477.3 303.7,477.4 304.5,477.4 305.2,477.3 306.0,477.4 306.7,477.3 307.5,477.5 308.2,477.3 309.0,477.3 309.7,477.4 310.5,477.3 311.2,477.3 312.0,477.5 312.7,477.5 313.5,477.5 314.2,477.5 315.0,477.4 315.7,477.3 316.5,477.3 317.2,477.5 318.0,477.3 318.7,477.6 319.5,477.4 320.2,477.4 321.0,477.7 321.7,477.4 322.5,477.4 323.2,477.6 324.0,477.4 324.7,477.3 325.5,470.6 326.1,458.3 326.7,469.5 327.5,477.5 328.2,477.7 329.0,477.5 329.7,477.8 330.5,477.7 331.2,477.8 332.0,477.8 332.7,477.7 333.5,477.9 334.2,477.6 334.9,477.9 335.7,477.8 336.4,477.8 337.2,477.7 337.9,477.8 338.7,477.8 339.4,477.8 340.2,477.8 340.9,477.9 341.7,477.7 342.4,477.5 343.2,476.9 343.5,476.8 343.7,477.0 344.4,477.5 345.2,477.9 345.9,477.9 346.7,477.9 347.4,477.9 348.2,477.8 348.9,477.7 349.7,477.9 350.4,477.9 351.2,477.8 351.9,477.6 352.7,477.6 353.4,477.8 354.2,477.9 354.9,477.9 355.7,477.9 356.4,477.8 357.2,477.8 357.9,477.7 358.7,477.4 359.3,477.1 359.9,477.4 360.7,477.9 361.4,477.8 362.2,477.9 362.9,477.8 363.7,477.7 364.4,477.8 365.2,477.8 365.9,477.8 366.7,477.9 367.4,477.8 368.2,478.0 368.9,477.9 369.7,477.9 370.4,477.9 371.2,477.7 371.9,477.9 372.7,477.9 373.4,478.0 374.2,477.9 374.9,477.8 375.7,477.8 376.4,477.9 377.1,478.0 377.9,477.9 378.6,477.9 379.4,475.7 380.1,450.6 380.5,439.2 380.6,440.0 381.4,469.9 382.1,477.6 382.9,477.8 383.6,478.0 384.4,477.9 385.1,477.8 385.9,478.0 386.6,477.9 387.4,478.0 388.1,477.9 388.9,477.9 389.6,478.0 390.4,477.8 391.1,477.8 391.9,477.9 392.6,477.9 393.4,477.9 394.1,477.9 394.9,478.0 395.6,478.0 396.4,477.8 397.1,478.0 397.9,477.8 398.6,477.8 399.4,478.0 400.1,478.0 400.9,477.8 401.6,478.0 402.4,478.0 403.1,478.1 403.9,478.0 404.6,477.9 405.4,478.0 406.1,478.2 406.9,477.9 407.6,478.1 408.4,478.0 409.1,477.9 409.9,477.9 410.6,477.9 411.4,478.0 412.1,478.0 412.9,478.0 413.6,478.1 414.4,478.1 415.1,478.0 415.9,478.0 416.6,478.0 417.4,478.1 418.1,478.0 418.8,478.0 419.6,477.9 420.3,478.0 421.1,478.2 421.8,477.9 422.6,478.1 423.3,477.9 424.1,478.0 424.8,477.8 425.6,478.1 426.3,477.9 427.1,478.0 427.8,478.0 428.6,478.0 429.3,478.0 430.1,478.0 430.8,478.0 431.6,477.9 432.3,478.1 433.1,477.9 433.8,478.1 434.6,477.9 435.3,478.0 436.1,478.1 436.8,473.8 437.6,435.3 438.0,419.3 438.1,420.5 438.8,464.1 439.6,477.8 440.3,478.2 441.1,478.1 441.8,478.0 442.6,478.0 443.3,478.0 444.1,478.0 444.8,477.9 445.6,478.0 446.3,478.1 447.1,478.0 447.8,478.0 448.6,477.8 449.3,478.0 450.1,478.1 450.8,478.0 451.6,478.1 452.3,477.9 453.1,478.0 453.8,478.1 454.6,478.0 455.3,478.1 456.1,478.1 456.8,478.0 457.6,477.9 458.3,478.1 459.1,478.0 459.8,477.8 460.6,478.0 461.3,478.1 462.0,478.1 462.8,478.1 463.5,478.0 464.3,478.0 465.0,478.1 465.8,478.1 466.5,478.0 467.3,478.1 468.0,478.0 468.8,478.1 469.5,478.0 470.3,478.0 471.0,478.1 471.8,478.1 472.5,478.0 473.3,477.9 474.0,477.8 474.5,477.6 474.8,477.7 475.5,478.0 476.3,478.1 477.0,478.1 477.8,478.0 478.5,478.0 479.3,478.0 480.0,478.0 480.8,478.1 481.5,478.1 482.3,478.1 483.0,478.1 483.8,478.0 484.5,478.1 485.3,478.1 486.0,478.1 486.8,478.1 487.5,478.1 488.3,478.1 489.0,477.9 489.8,478.1 490.5,478.1 491.3,478.2 492.0,477.8 492.4,477.7 492.5,477.7 493.3,478.0 494.0,478.1 494.8,478.0 495.5,478.0 496.3,478.2 497.0,478.1 497.8,478.1 498.5,478.2 499.3,478.2 500.0,478.1 500.8,478.2 501.5,478.1 502.3,478.1 503.0,478.0 503.7,478.1 504.5,478.1 505.2,478.1 506.0,478.0 506.7,478.1 507.5,478.1 508.2,478.1 509.0,478.1 509.7,478.1 510.5,478.2 511.2,478.2 512.0,478.2 512.7,478.2 513.5,478.0 514.2,478.2 515.0,478.2 515.7,478.0 516.5,478.1 517.2,478.2 518.0,478.1 518.7,478.1 519.5,478.2 520.2,478.0 521.0,478.1 521.7,478.0 522.5,478.1 523.2,478.0 524.0,478.2 524.7,478.1 525.5,478.1 526.2,478.1 527.0,478.0 527.7,478.1 528.5,478.1 529.2,478.2 530.0,478.1 530.7,478.1 531.5,478.2 532.2,478.2 533.0,478.1 533.7,478.3 534.5,478.1 535.2,478.1 536.0,478.2 536.7,478.2 537.5,478.1 538.2,478.2 539.0,478.1 539.7,478.1 540.5,478.1 541.2,478.1 542.0,478.1 542.5,478.0 542.7,478.0 543.5,478.2 544.2,478.0 545.0,478.2 545.7,478.0 546.4,478.1 547.2,478.2 547.9,478.1 548.7,478.1 549.4,478.1 550.2,478.2 550.9,478.2 551.7,478.2 552.4,478.2 553.2,478.2 553.9,478.0 554.7,478.2 555.4,478.2 556.2,478.1 556.9,478.2 557.7,478.0 558.4,478.1 559.2,478.2 559.9,478.2 560.7,478.2 561.4,478.1 562.2,478.2 562.9,478.2 563.7,478.2 564.4,478.2 565.2,478.2 565.9,478.1 566.7,478.1 567.4,478.2 568.2,478.2 568.5,478.1 568.7,478.1 569.4,478.2 570.2,478.2 570.9,478.1 571.7,478.2 572.4,478.1 573.2,478.2 573.9,478.1 574.7,478.1 574.9,478.0 575.4,478.1 576.2,478.1 576.9,478.1 577.7,478.3 578.4,478.3 579.2,478.2 579.9,478.1 580.7,478.3 581.4,478.1 582.2,478.2 582.9,478.2 583.7,478.1 584.4,478.2 585.2,478.2 585.9,478.1 586.7,478.2 587.4,478.2 588.1,478.1 588.9,478.2 589.6,478.2 590.4,478.2 591.1,478.2 591.9,478.2 592.6,478.3 593.4,478.2 594.1,478.3 594.9,478.3 595.6,478.2 596.4,478.1 597.1,478.2 597.9,478.3 598.6,478.1 599.4,478.2 600.1,478.2 600.9,478.1 601.6,478.2 602.4,478.2 603.1,478.3 603.9,478.2 604.6,478.2 605.4,478.2 606.1,478.3 606.9,478.3 607.6,478.4 608.4,478.2 609.1,478.2 609.9,478.2 610.6,478.2 611.4,478.2 612.1,478.3 612.9,478.2 613.6,478.2 614.4,478.2 615.1,478.2 615.9,478.2 616.6,478.3 617.4,478.3 618.1,478.2 618.9,478.3 619.6,478.3 620.4,478.3 621.1,478.3 621.9,478.3 622.6,478.4 623.4,478.3 624.1,478.2 624.9,478.3 625.6,478.3 626.4,478.2 627.1,478.2 627.9,478.3 628.6,478.2 629.4,478.2 630.1,478.2 630.8,478.2 631.6,478.1 632.3,478.3 633.1,478.3 633.8,478.3 634.6,478.3 635.3,478.2 636.1,478.3 636.8,478.3 637.6,478.2 638.3,478.2 639.1,478.2 639.8,478.2 640.6,478.3 641.3,478.4 642.1,478.2 642.8,478.3 643.6,478.3 644.3,478.3 645.1,478.3 645.8,478.3 646.6,478.3 647.3,478.2 648.1,478.3 648.8,478.3 649.6,478.3 650.3,478.2 651.1,478.3 651.8,478.3 652.6,478.3 653.3,478.3 654.1,478.4 654.8,478.3 655.6,478.3 656.3,478.3 657.1,478.2 657.8,478.3 658.6,478.3 659.3,478.2 660.1,478.2 660.8,478.3 661.6,478.3 662.3,478.4 663.1,478.3 663.8,478.3 664.6,478.2 665.3,478.3 666.1,478.3 666.8,478.3 667.6,478.3 668.3,478.3 669.1,478.1 669.8,478.1 670.6,478.2 671.3,478.2 672.1,478.3 672.8,478.3 673.5,478.4 674.3,478.3 675.0,478.3 675.8,478.4 676.5,478.3 677.3,478.3 678.0,478.3 678.8,478.3 679.5,478.3 680.3,478.3 681.0,478.4 681.8,478.2 682.5,478.3 683.3,478.3 684.0,478.3 684.8,478.3 685.5,478.2 686.3,478.3 687.0,478.3 687.8,478.3 688.5,478.3 689.3,478.3 690.0,478.2 690.8,478.3 691.5,478.3 692.3,478.3 693.0,478.4 693.8,478.3 694.5,478.3 695.3,478.3 696.0,478.3 696.8,478.3 697.5,478.2 698.3,474.3 699.0,453.3 699.5,444.6 699.5,444.8 700.3,465.3 701.0,477.3 701.8,478.3 702.5,478.4 703.3,478.3 704.0,478.3 704.8,478.3 705.5,478.3 706.3,478.3 707.0,478.3 707.8,478.3 708.5,478.4 709.3,478.3 710.0,478.3 710.8,478.4 711.5,478.3 712.3,478.4 713.0,478.3 713.8,478.3 714.5,478.3 715.2,478.3 716.0,478.3 716.7,478.3 717.5,478.3 718.2,478.2 719.0,478.3 719.7,478.5 720.5,478.3 721.2,478.3 722.0,478.3 722.7,478.4 723.5,478.4 724.2,478.4 725.0,478.4 725.7,478.3 726.5,478.3 727.2,478.4 728.0,478.3 728.7,478.3 729.5,478.3 730.2,478.3 731.0,478.3 731.7,478.3 732.5,478.4 733.2,478.3 734.0,478.4 734.7,478.4 735.5,478.3 736.2,478.3 737.0,478.4 737.7,478.3 738.5,478.4 739.2,478.3 740.0,478.3 740.7,478.3 741.5,478.3 742.2,478.3 743.0,478.4 743.7,478.4 744.5,478.3 745.2,478.4 746.0,478.4 746.7,478.4 747.5,478.3 748.2,478.3 749.0,478.4 749.7,478.4 750.5,478.4 751.2,478.3 752.0,478.4 752.7,478.4 753.5,478.2 754.2,478.4 755.0,478.2 755.7,477.7 756.2,477.5 756.5,477.5 757.2,478.1 757.9,478.3 758.7,478.4 759.4,478.4 760.2,478.4 760.9,478.3 761.7,478.4 762.4,478.4 763.2,478.3 763.9,478.5 764.7,478.4 765.4,478.4 766.2,478.4 766.9,478.4 767.7,478.4 768.4,478.3 769.2,478.3 769.9,478.3 770.7,478.3 771.4,478.3 772.2,478.4 772.9,478.3 773.7,478.4 774.4,478.3 775.2,478.3 775.9,478.4 776.7,478.4 777.4,478.3 778.2,478.4 778.9,478.3 779.7,478.3 780.4,478.4 781.2,478.4 781.9,478.4 782.7,478.3 783.4,478.4 784.2,478.4 784.9,478.3 785.7,478.4 786.4,478.3 787.2,478.4 787.9,478.3 788.7,478.4 789.4,478.4 790.2,478.4 790.9,478.4 791.7,478.4 792.4,478.4 793.2,478.3 793.9,478.1 794.0,478.0 794.4,478.1 795.2,478.3 795.9,478.4 796.7,478.4 797.4,478.4 798.2,478.5 798.9,478.4 799.6,478.3 800.4,478.4 801.1,478.3 801.9,478.3 802.6,478.3 803.4,478.3 804.1,478.4 804.9,478.4 805.6,478.3 806.4,478.4 807.1,478.3 807.9,478.3 808.6,478.3 809.4,478.3 810.1,478.3 810.9,478.3 811.6,478.2 811.8,478.3 812.1,478.3 812.9,478.3 813.6,478.4 814.4,478.3 815.1,478.3 815.9,478.4 816.6,478.3 817.4,478.3 818.1,478.4 818.9,478.3 819.6,478.4 820.4,478.4 821.1,478.4 821.9,478.5 822.6,478.4 823.4,478.4 824.1,478.3 824.9,478.3 825.6,478.4 826.4,478.4 827.1,478.3 827.9,478.3 828.6,478.4 829.4,478.4 830.1,478.4 830.9,478.5 831.6,478.4 832.4,478.3 833.1,478.4 833.9,478.3 834.3,478.3 834.4,478.3 835.1,478.3 835.9,478.4 836.6,478.4 837.4,478.4 838.1,478.4 838.9,478.4 839.6,478.4 840.4,478.3 841.1,478.3 841.8,478.3 842.6,478.3 843.3,478.4 844.1,478.4 844.8,478.2 845.0,478.2 845.3,478.2 846.1,478.3 846.8,478.5 847.6,478.3 848.3,478.4 849.1,478.4 849.8,478.4 850.6,478.3 851.3,478.3 852.1,478.4 852.8,478.4 853.6,478.4 854.3,478.3 855.1,478.4 855.8,478.3 856.6,478.4 857.3,478.4 858.1,478.4 858.8,478.4 859.6,478.0 860.3,476.9 861.1,476.0 861.8,476.9 862.6,478.1 863.3,478.3 864.1,478.3 864.8,478.4 865.6,478.4 866.3,478.4 867.1,478.4 867.8,478.4 868.6,478.3 869.3,478.4 870.1,478.3 870.8,478.3 871.6,478.4 872.3,478.4 873.1,478.4 873.8,478.4 874.6,478.4 875.3,478.4 876.1,478.4 876.8,478.3 877.6,478.3 878.3,478.0 878.8,477.9 878.8,477.9 879.6,478.2 880.3,478.5 881.1,478.4 881.8,478.4 882.6,478.4 883.3,478.4 884.1,478.4 884.8,478.4 885.5,478.4 886.3,478.4 887.0,478.4 887.8,478.3 888.5,478.3 889.3,478.4 890.0,478.4 890.8,478.4 891.5,478.3 892.3,478.4 893.0,478.3 893.8,478.4 894.5,478.3 895.3,478.4 896.0,478.3 896.8,478.4 897.5,478.3 898.3,478.2 899.0,477.8 899.1,477.7 899.5,477.9 900.3,478.3 901.0,478.4 901.8,478.3 902.5,478.4 903.3,478.4 904.0,478.4 904.8,478.4 905.5,478.4 906.3,478.4 907.0,478.4 907.8,478.4 908.5,478.4 909.3,478.4 910.0,478.4 910.8,478.4 911.5,478.3 912.3,478.3 913.0,478.4 913.8,478.3 914.5,478.4 915.3,478.4 916.0,478.4 916.8,478.4 917.5,478.3 918.3,478.4 919.0,478.3 919.8,478.4 920.5,478.3 921.3,478.4 922.0,478.3 922.8,478.4 923.5,478.4 924.3,478.4 925.0,478.5 925.8,478.4 926.5,478.4 927.2,478.3 928.0,478.4 928.7,478.4 929.5,478.4 930.2,478.4 931.0,478.4 931.7,478.4 932.5,478.1 932.7,478.2 933.0,478.1 933.7,478.3 934.5,478.3 935.2,478.4 936.0,478.4 936.7,478.4 937.5,478.4 938.2,478.4 939.0,478.4 939.7,478.4 940.5,478.3 941.2,478.4 942.0,478.4 942.7,478.4 943.5,478.4 944.2,478.4 945.0,478.4 945.7,478.5 946.5,478.3 947.2,478.4 948.0,478.4 948.7,478.4 949.5,478.3 950.2,478.5 951.0,478.5 951.7,478.4 952.5,478.3 953.2,478.3 954.0,478.4 954.7,478.4 955.5,478.3 956.2,478.4 957.0,478.4 957.7,478.4 958.5,478.4 959.2,478.4 960.0,478.4 960.7,478.4 961.5,478.4 962.2,478.4 963.0,478.4 963.7,478.4 964.5,478.4 965.2,478.3 966.0,478.3 966.7,478.4 967.5,478.4 968.2,478.4 968.9,478.5 969.7,478.4 970.4,478.3 971.2,478.4 971.9,478.4 972.7,478.4 973.4,478.4 974.2,478.4 974.9,478.4 975.7,478.4 976.4,478.4 977.2,478.3 977.9,478.5 978.7,478.4 979.4,478.3 980.2,478.4 980.9,478.4 981.7,478.4 982.4,478.4 983.2,478.4 983.9,478.3 984.7,478.5 985.4,478.4 986.2,478.4 986.9,478.4 987.7,478.4 988.4,478.4 989.2,478.4 989.9,478.3 990.7,478.4 991.4,478.3 992.2,478.4 992.9,478.4 993.7,478.4 994.4,478.4 995.2,478.4 995.9,478.4 996.7,478.3 997.4,478.4 998.2,478.3 998.9,478.3 999.1,478.3 999.4,478.3 1000.2,478.3 1000.9,478.4 1001.7,478.3 1002.4,478.4 1003.2,478.4 1003.9,478.4 1004.7,478.3 1005.4,478.5 1006.2,478.4 1006.9,478.5 1007.7,478.4 1008.4,478.4 1009.2,478.3 1009.9,478.3 1010.7,478.4 1011.4,478.3 1012.1,478.5 1012.9,478.4 1013.6,478.3 1014.4,478.4 1015.1,478.4 1015.9,478.4 1016.6,478.3 1017.4,478.4 1018.1,478.4 1018.9,478.3 1019.6,478.4 1020.4,478.5 1021.1,478.4 1021.9,478.3 1022.6,478.4 1023.4,478.3 1024.1,478.3 1024.9,478.4 1025.6,478.5 1026.4,478.4 1027.1,478.4 1027.9,478.2 1028.6,477.6 1029.3,477.2 1029.9,477.6 1030.6,478.2 1031.4,478.4 1032.1,478.5 1032.9,478.4 1033.6,478.5 1034.4,478.5 1035.1,478.5 1035.9,478.5 1036.6,478.5 1037.4,478.5 1038.1,478.5 1038.9,478.5 1039.6,478.5 1040.4,478.5 1041.1,478.5 1041.9,478.5 1042.6,478.4 1043.4,478.5 1044.1,478.5 1044.9,478.5 1045.6,478.5 1046.4,478.5 1047.1,478.5 1047.9,478.5 1048.6,478.5 1049.4,478.5 1050.1,478.5 1050.9,478.5 1051.6,478.5 1052.4,478.5 1053.1,478.5 1053.8,478.5 1054.6,478.5 1055.3,478.5 1056.1,478.6 1056.8,478.5 1057.6,478.6 1058.3,478.5 1059.1,478.5 1059.8,478.5 1060.6,478.5 1061.3,478.5 1062.1,478.5 1062.8,478.6 1063.6,478.5 1064.3,478.5 1065.1,478.5 1065.8,478.5 1066.6,478.5 1067.3,478.5 1068.1,478.5 1068.8,478.4 1069.6,478.5 1070.3,478.5 1071.1,478.5 1071.8,478.5 1072.6,478.5 1073.3,478.5 1074.1,478.5 1074.8,478.5 1075.6,478.5 1076.3,478.5 1077.1,478.5 1077.8,478.5 1078.6,478.5 1079.3,478.5 1080.1,478.5 1080.8,478.5 1081.6,478.5 1082.3,478.5 1083.1,478.5 1083.8,478.5 1084.6,478.5 1085.3,478.5 1086.1,478.5 1086.8,478.5 1087.6,478.5 1088.3,478.5 1089.1,478.5 1089.8,478.5 1090.6,478.5 1091.3,478.5 1092.1,478.5 1092.8,478.5 1093.6,478.5 1094.3,478.5 1095.1,478.5 1095.8,478.5 1096.5,478.5 1097.3,478.5 1098.0,478.5 1098.8,478.4 1099.5,478.5 1100.3,478.5 1101.0,478.4 1101.8,478.5 1102.5,478.5 1103.3,478.5 1104.0,478.4 1104.8,478.5 1105.5,478.5 1106.3,478.5 1107.0,478.5 1107.8,478.6 1108.5,478.5 1109.3,478.5 1110.0,478.5 1110.8,478.5 1111.5,478.5 1112.3,478.5 1113.0,478.5 1113.8,478.5 1114.5,478.4 1115.3,478.5 1116.0,478.5 1116.8,478.5 1117.5,478.5 1118.3,478.6 1119.0,478.6 1119.8,478.6 1120.5,478.6 1121.3,478.6 1122.0,478.6 1122.8,478.6 1123.5,478.6 1124.3,478.6 1125.0,478.6 1125.8,478.6 1126.5,478.5 1127.3,478.6 1128.0,478.6 1128.8,478.6 1129.5,478.6 1130.3,478.5 1131.0,478.6 1131.8,478.6 1132.5,478.6 1133.3,478.6 1134.0,478.6 1134.8,478.5 1135.5,478.6 1136.3,478.5 1137.0,478.6 1137.8,478.6 1138.5,478.6 1139.2,478.6 1140.0,478.6 1140.7,478.5 1141.5,478.6 1142.2,478.6 1143.0,478.6 1143.7,478.6 1144.5,478.6 1145.2,478.6 1146.0,478.6 1146.7,478.6 1147.5,478.6 1148.2,478.6 1149.0,478.6 1149.7,478.6 1150.5,478.6 1151.2,478.6 1152.0,478.6 1152.7,478.6 1153.5,478.6 1154.2,478.6 1155.0,478.6 1155.7,478.6 1156.5,478.6 1157.2,478.6 1158.0,478.6 1158.7,478.6 1159.5,478.5 1160.2,478.5 1161.0,478.6 1161.7,478.6 1162.5,478.6 1163.2,478.6 1164.0,478.6 1164.7,478.6 1165.5,478.6 1166.2,478.6 1167.0,478.5 1167.7,478.6 1168.5,478.6 1169.2,478.6 1170.0,478.6 1170.7,478.6 1171.5,478.5 1172.2,478.6 1173.0,478.6 1173.7,478.6 1174.5,478.5 1175.2,478.6 1176.0,478.6 1176.7,478.6 1177.5,478.6 1178.2,478.6 1179.0,478.6 1179.7,478.6 1180.5,478.6 1181.2,478.6 1181.9,478.6 1182.7,478.6 1183.4,478.6 1184.2,478.6 1184.9,478.6 1185.7,478.6 1186.4,478.6 1187.2,478.6 1187.9,478.6 1188.7,478.5 1189.4,478.6 1190.2,478.6 1190.9,478.6 1191.7,478.6 1192.4,478.6 1193.2,478.5 1193.9,478.6 1194.7,478.6 1195.4,478.6 1196.2,478.5 1196.9,478.5 1197.7,478.6 1198.4,478.6 1199.2,478.6 1199.9,478.6 1200.7,478.6 1201.4,478.6 1202.2,478.6 1202.9,478.6 1203.7,478.6 1204.4,478.6 1205.2,478.6 1205.9,478.6 1206.7,478.6 1207.4,478.6 1208.2,478.6 1208.9,478.6 1209.7,478.6 1210.4,478.6 1211.2,478.6 1211.9,478.6 1212.7,478.6 1213.4,478.6 1214.2,478.6 1214.9,478.6 1215.7,478.6 1216.4,478.4 1217.2,477.5 1217.9,475.1 1218.6,473.7 1219.2,474.8 1219.9,477.4 1220.7,478.4 1221.4,478.6 1222.2,478.6 1222.9,478.6 1223.6,478.5 1224.4,478.5 1225.1,478.6 1225.9,478.6 1226.6,478.6 1227.4,478.6 1228.1,478.6 1228.9,478.6 1229.6,478.6 1230.4,478.6 1231.1,478.6 1231.9,478.6 1232.6,478.6 1233.4,478.6 1234.1,478.6 1234.9,478.6 1235.6,478.6 1236.4,478.5 1237.1,478.6 1237.9,478.6 1238.6,478.6 1239.4,478.6 1240.1,478.6 1240.9,478.6 1241.6,478.6 1242.4,478.5 1243.1,478.6 1243.9,478.6 1244.6,478.5 1245.4,478.6 1246.1,478.6 1246.9,478.6 1247.6,478.6 1248.4,478.6 1249.1,478.6 1249.9,478.6 1250.6,478.6 1251.4,478.5 1252.1,478.5 1252.9,478.3 1253.6,477.8 1254.4,478.3 1255.1,478.6 1255.9,478.6 1256.6,478.6 1257.4,478.6 1258.1,478.6 1258.9,478.6 1259.6,478.6 1260.4,478.6 1261.1,478.6 1261.9,478.5 1262.6,478.6 1263.4,478.6 1264.1,478.6 1264.9,478.6 1265.6,478.6 1266.3,478.6 1267.1,478.5 1267.8,478.6 1268.6,478.5 1269.3,478.6 1270.1,478.6 1270.8,478.6 1271.6,478.5 1272.3,478.5 1273.1,478.6 1273.8,478.6 1274.6,478.6 1275.3,478.6 1276.1,478.6 1276.8,478.6 1277.6,478.5 1278.3,478.6 1279.1,478.6 1279.8,478.5 1280.6,478.4 1281.1,478.3 1281.3,478.3 1282.1,478.5 1282.8,478.6 1283.6,478.6 1284.3,478.5 1285.1,478.6 1285.8,478.6 1286.6,478.6 1287.3,478.6 1288.1,478.5 1288.8,478.5 1289.6,478.5 1290.3,478.6 1291.1,478.6 1291.8,478.6 1292.6,478.6 1293.3,478.6 1294.1,478.6 1294.8,478.6 1295.6,478.6 1296.3,478.6 1297.1,478.6 1297.8,478.6 1298.6,478.5 1299.3,478.5 1300.1,478.6 1300.8,478.5 1301.6,478.6 1302.3,478.6 1303.1,478.6 1303.8,478.6 1304.6,478.6 1305.3,478.6 1306.1,478.5 1306.8,478.4 1307.1,478.4 1307.6,478.4 1308.3,478.6 1309.0,478.6 1309.8,478.6 1310.5,478.6 1311.3,478.5 1312.0,478.6 1312.8,478.6 1313.5,478.6 1314.3,478.6 1315.0,478.5 1315.8,478.6 1316.5,478.6 1317.3,478.6 1318.0,478.6 1318.8,478.6 1319.5,478.6 1320.3,478.6 1321.0,478.6 1321.8,478.5 1322.5,478.6 1323.3,478.6 1324.0,478.6 1324.8,478.6 1325.5,478.6 1326.3,478.6 1327.0,478.6 1327.8,478.6 1328.5,478.6 1329.3,478.6 1330.0,478.6 1330.8,478.6 1331.5,478.6 1332.3,478.6 1333.0,478.6 1333.8,478.6 1334.5,478.5 1335.3,478.6 1336.0,478.5 1336.8,478.3 1337.5,477.6 1338.3,476.9 1338.4,476.9 1338.8,477.1 1339.5,477.8 1340.3,478.4 1341.0,478.6 1341.8,478.5 1342.5,478.6 1343.3,478.6 1344.0,478.6 1344.8,478.6 1345.5,478.6 1346.3,478.6 1347.0,478.6 1347.8,478.6 1348.5,478.6 1349.3,478.6 1350.0,478.6 1350.7,478.6 1351.5,478.6 1352.2,478.6 1353.0,478.6 1353.7,478.6 1354.5,478.6 1355.2,478.5 1356.0,478.6 1356.7,478.6 1357.5,478.6 1358.2,478.6 1359.0,478.6 1359.7,478.6 1360.5,478.6 1361.2,478.5 1362.0,478.6 1362.7,478.6 1363.5,478.6 1364.2,478.6 1365.0,478.5 1365.7,478.5 1366.5,478.6 1367.2,478.6 1368.0,478.6 1368.7,478.5 1369.5,478.6 1370.2,478.6 1371.0,478.6 1371.7,478.6 1372.5,478.6 1373.2,478.6 1374.0,478.6 1374.7,478.6 1375.5,478.6 1376.2,478.6 1377.0,478.5 1377.7,478.5 1378.5,478.6 1379.2,478.6 1380.0,478.6 1380.7,478.5 1381.5,478.2 1381.9,478.1 1382.0,478.2 1382.7,478.4 1383.5,478.6 1384.2,478.6 1385.0,478.6 1385.7,478.6 1386.5,478.6 1387.2,478.6 1388.0,478.6 1388.7,478.6 1389.5,478.6 1390.2,478.6 1391.0,478.5 1391.7,478.5 1392.4,478.6 1393.2,478.6 1393.9,478.6 1394.7,478.6 1395.4,478.6 1396.2,478.5 1396.9,478.6 1397.7,478.6 1398.4,478.6 1399.2,478.6 1399.9,478.6 1400.7,478.6 1401.4,478.6 1402.2,478.6 1402.9,478.5 1403.7,478.6 1404.4,478.6 1405.2,478.6 1405.9,478.6 1406.7,478.6 1407.4,478.6 1408.2,478.6 1408.9,478.6 1409.7,478.6 1410.4,478.6 1411.2,478.6 1411.9,478.6 1412.7,478.6 1413.4,478.6 1414.2,478.6 1414.9,478.6 1415.7,478.6 1416.4,478.6 1417.2,478.5 1417.9,478.6 1418.7,478.6 1419.4,478.6 1420.2,478.6 1420.9,478.6 1421.7,478.6 1422.4,478.6 1423.2,478.5 1423.9,478.6 1424.7,478.6 1425.4,478.5 1426.2,478.6 1426.9,478.6 1427.7,478.6 1428.4,478.6 1429.2,478.6 1429.9,478.6 1430.7,478.6 1431.4,478.6 1432.2,478.6 1432.9,478.6 1433.7,478.6 1434.4,478.6 1435.1,478.6 1435.9,478.6 1436.6,478.6 1437.4,478.6 1438.1,478.6 1438.9,478.6 1439.6,478.6 1440.4,478.6 1441.1,478.5 1441.9,478.6 1442.6,478.5 1443.4,478.6 1444.1,478.6 1444.9,478.6 1445.6,478.6 1446.4,478.6 1447.1,478.6 1447.9,478.6 1448.6,478.6 1449.4,478.5 1450.1,478.6 1450.9,478.6 1451.6,478.6 1452.4,478.6 1453.1,478.6 1453.9,478.5 1454.6,478.6 1455.4,478.6 1456.1,478.6 1456.9,478.6 1457.6,478.6 1458.4,478.5 1459.1,478.6 1459.9,478.6 1460.6,478.6 1461.4,478.6 1462.1,478.6 1462.9,478.6 1463.6,478.6 1464.4,478.6 1465.1,478.6 1465.9,478.6 1466.6,478.5 1467.4,478.6 1468.1,478.6 1468.9,478.6 1469.6,478.6 1470.4,478.6 1471.1,478.6 1471.9,478.6 1472.6,478.6 1473.4,478.6 1474.1,478.6 1474.9,478.6 1475.6,478.6 1476.4,478.6 1477.1,478.6 1477.8,478.5 1478.6,478.5 1479.3,478.0 1480.1,477.5 1480.2,477.4 1480.6,477.6 1481.3,478.2 1482.1,478.5 1482.8,478.6 1483.6,478.6 1484.3,478.6 1485.1,478.6 1485.8,478.6 1486.6,478.6 1487.3,478.5 1488.1,478.6 1488.8,478.6 1489.6,478.6 1490.3,478.6 1491.1,478.6 1491.8,478.6 1492.6,478.6 1493.3,478.6 1494.1,478.6 1494.8,478.6 1495.6,478.6 1496.3,478.6 1497.1,478.6 1497.8,478.6 1498.6,478.6 1499.3,478.6 1500.1,478.6 1500.8,478.6 1501.6,478.6 1502.3,478.6 1503.1,478.5 1503.8,478.2 1504.2,478.1 1504.3,478.2 1505.1,478.4 1505.8,478.6 1506.6,478.6 1507.3,478.6 1508.1,478.6 1508.8,478.5 1509.6,478.3 1510.3,477.9 1510.4,477.9 1510.8,478.0 1511.6,478.4 1512.3,478.5 1513.1,478.6 1513.8,478.5 1514.6,478.5 1515.3,478.5 1516.1,478.6 1516.8,478.6 1517.6,478.5 1518.3,478.6 1519.1,478.6 1519.8,478.6 1520.5,478.6 1521.3,478.6 1522.0,478.6 1522.8,478.6 1523.5,478.6 1524.3,478.6 1525.0,478.6 1525.8,478.6 1526.5,478.6 1527.3,478.6 1528.0,478.6 1528.8,478.6 1529.5,478.6 1530.3,478.6 1531.0,478.6 1531.8,478.6 1532.5,478.6 1533.3,478.6 1534.0,478.6 1534.8,478.6 1535.5,478.6 1536.3,478.6 1537.0,478.6 1537.8,478.6 1538.5,478.6 1539.3,478.6 1540.0,478.5 1540.8,478.6 1541.5,478.5 1542.3,478.6 1543.0,478.6 1543.8,478.6 1544.5,478.6 1545.3,478.5 1546.0,478.6 1546.8,478.6 1547.5,478.6 1548.3,478.5 1549.0,478.6 1549.8,478.6 1550.5,478.6 1551.3,478.6 1552.0,478.6 1552.8,478.6 1553.5,478.6 1554.3,478.6 1555.0,478.6 1555.8,478.6 1556.5,478.6 1557.3,478.6 1558.0,478.6 1558.8,478.6 1559.5,478.6 1560.3,478.6 1561.0,478.6 1561.8,478.6 1562.5,478.6 1563.2,478.6 1564.0,478.6 1564.7,478.6 1565.5,478.6 1566.2,478.6 1567.0,478.6 1567.7,478.6 1568.5,478.6 1569.2,478.5 1570.0,478.6 1570.7,478.6 1571.5,478.6 1572.2,478.6 1573.0,478.6 1573.7,478.5 1574.5,478.6 1575.2,478.6 1576.0,478.6 1576.7,478.6 1577.5,478.6 1578.2,478.6 1579.0,478.5 1579.7,478.6 1580.5,478.6 1581.2,478.6 1582.0,478.6 1582.7,478.6 1583.5,478.5 1584.2,478.6 1585.0,478.6 1585.7,478.6 1586.5,478.6 1587.2,478.6 1588.0,478.6 1588.7,478.6 1589.5,478.6 1590.2,478.6 1591.0,478.6 1591.7,478.5 1592.5,478.6 1593.2,478.5 1594.0,478.6 1594.7,478.6 1595.5,478.6 1596.2,478.6 1597.0,478.6 1597.7,478.6 1598.5,478.5 1599.2,478.6 1600.0,478.6 1600.7,478.6 1601.5,478.6 1602.2,478.6 1603.0,478.6 1603.7,478.6 1604.4,478.6 1605.2,478.6 1605.9,478.6 1606.7,478.6 1607.4,478.6 1608.2,478.6 1608.9,478.6 1609.7,478.6 1610.4,478.6 1611.2,478.6 1611.9,478.5 1612.7,478.2 1613.4,478.0 1613.9,478.2 1614.7,478.5 1615.4,478.6 1616.2,478.6 1616.9,478.6 1617.7,478.6 1618.4,478.6 1619.2,478.6 1619.9,478.6 1620.7,478.6 1621.4,478.6 1622.2,478.6 1622.9,478.6 1623.7,478.6 1624.4,478.6 1625.2,478.6 1625.9,478.6 1626.7,478.6 1627.4,478.6 1628.2,478.6 1628.9,478.6 1629.7,478.6 1630.4,478.6 1631.2,478.6 1631.9,478.6 1632.7,478.6 1633.4,478.6 1634.2,478.6 1634.9,478.6 1635.7,478.6 1636.4,478.6 1637.2,478.6 1637.9,478.6 1638.7,478.5 1639.4,478.6 1640.2,478.6 1640.9,478.6 1641.7,478.6 1642.4,478.6 1643.2,478.6 1643.9,478.6 1644.7,478.6 1645.4,478.6 1646.2,478.6 1646.9,478.6 1647.6,478.6 1648.4,478.6 1649.1,478.5 1649.9,478.6 1650.6,478.6 1651.4,478.6 1652.1,478.6 1652.9,478.6 1653.6,478.6 1654.4,478.6 1655.1,478.6 1655.9,478.6 1656.6,478.6 1657.4,478.6 1658.1,478.6 1658.9,478.6 1659.6,478.6 1660.4,478.5 1661.1,478.6 1661.9,478.5 1662.6,478.6 1663.4,478.6 1664.1,478.6 1664.9,478.6 1665.6,478.6 1666.4,478.6 1667.1,478.6 1667.9,478.5 1668.6,478.6 1669.4,478.6 1670.1,478.6 1670.9,478.6 1671.6,478.6 1672.4,478.6 1673.1,478.6 1673.9,478.6 1674.6,478.6 1675.4,478.6 1676.1,478.6 1676.9,478.6 1677.6,478.6 1678.4,478.6 1679.1,478.6 1679.9,478.6 1680.6,478.6 1681.4,478.6 1682.1,478.6 1682.9,478.6 1683.6,478.6 1684.4,478.6 1685.1,478.6 1685.9,478.6 1686.6,478.6 1687.4,478.6 1688.1,478.5 1688.6,478.4 1688.8,478.4 1689.6,478.5 1690.3,478.6 1691.1,478.6 1691.8,478.6 1692.6,478.6 1693.3,478.6 1694.1,478.6 1694.8,478.6 1695.6,478.6 1696.3,478.6 1697.1,478.6 1697.8,478.6 1698.6,478.5 1699.3,478.6 1700.1,478.6 1700.8,478.6 1701.6,478.6 1702.3,478.6 1703.1,478.4 1703.6,478.4 1703.8,478.4 1704.6,478.5 1705.3,478.6 1706.1,478.6 1706.8,478.6 1707.6,478.6 1708.3,478.6 1709.1,478.6 1709.8,478.6 1710.6,478.6 1711.3,478.6 1712.1,478.6 1712.8,478.6 1713.6,478.6 1714.3,478.6 1715.1,478.6 1715.8,478.6 1716.6,478.6 1717.3,478.6 1718.1,478.6 1718.8,478.6 1719.6,478.6 1720.3,478.6 1721.1,478.6 1721.8,478.6 1722.6,478.6 1723.3,478.6 1724.1,478.6 1724.8,478.6 1725.6,478.6 1726.3,478.6 1727.1,478.6 1727.8,478.6 1728.6,478.6 1729.3,478.6 1730.1,478.6 1730.8,478.6 1731.5,478.6 1732.3,478.6 1733.0,478.6 1733.8,478.6 1734.5,478.6 1735.3,478.6 1736.0,478.6 1736.8,478.6 1737.5,478.6 1738.3,478.6 1739.0,478.6 1739.8,478.6 1740.5,478.6 1741.3,478.6 1742.0,478.6 1742.8,478.6 1743.5,478.6 1744.3,478.5 1745.0,478.6 1745.8,478.6 1746.5,478.6 1747.3,478.6 1748.0,478.6 1748.8,478.6 1749.5,478.6 1750.3,478.6 1751.0,478.6 1751.8,478.6 1752.5,478.6 1753.3,478.6 1754.0,478.6 1754.8,478.6 1755.5,478.6 1756.3,478.6 1757.0,478.6 1757.8,478.6 1758.5,478.5 1759.3,478.6 1760.0,478.5 1760.8,478.6 1761.5,478.6 1762.3,478.6 1763.0,478.5 1763.8,478.6 1764.5,478.6 1765.3,478.6 1766.0,478.6 1766.8,478.5 1767.5,478.3 1767.9,478.3 1768.0,478.3 1768.8,478.4 1769.5,478.5 1770.3,478.6 1771.0,478.6 1771.8,478.6 1772.5,478.6 1773.3,478.6 L1773.3,478.5 Z" fill="#ffa07a"/>
<path d="M80.5,476.7 81.2,476.5 82.0,475.4 82.7,474.4 83.5,474.3 84.2,474.6 85.0,475.4 85.7,475.4 86.5,475.4 87.2,475.6 88.0,475.9 88.7,475.9 89.5,475.8 90.2,476.0 91.0,476.2 91.7,476.3 92.5,476.2 93.2,476.4 94.0,476.3 94.7,476.2 95.5,476.3 96.2,476.6 97.0,476.3 97.7,476.6 98.5,476.5 99.2,476.4 100.0,476.6 100.7,476.6 101.5,476.6 102.2,476.7 103.0,476.6 103.7,476.5 104.5,476.8 105.2,476.9 106.0,476.6 106.7,476.7 107.5,476.7 108.2,476.6 109.0,476.7 109.7,476.8 110.5,476.7 111.2,477.0 112.0,477.0 112.7,476.7 113.5,476.7 114.2,476.6 115.0,476.8 115.7,476.9 116.5,476.9 117.2,476.8 118.0,476.9 118.7,476.8 119.5,477.0 120.2,476.9 121.0,476.6 121.7,476.9 122.4,476.8 123.2,476.8 123.9,477.0 124.7,476.9 125.4,476.9 126.2,476.9 126.9,476.6 127.6,476.3 128.2,476.5 128.9,476.7 129.7,476.9 130.4,476.7 131.2,476.6 131.9,477.0 132.7,476.8 133.4,477.0 134.2,476.2 134.3,476.1 134.7,476.5 135.4,477.0 136.2,476.7 136.9,476.9 137.7,476.8 138.4,476.4 139.2,476.7 139.9,476.7 140.7,476.5 141.4,476.5 142.2,476.7 142.9,476.2 143.7,476.5 144.4,476.2 145.2,476.0 145.9,476.2 146.7,475.8 147.4,475.8 148.2,475.5 148.9,475.6 149.7,475.5 150.4,475.7 151.2,476.0 151.9,476.2 152.7,475.7 153.4,475.7 154.2,475.7 154.9,475.1 155.7,467.5 156.1,459.9 156.2,460.2 156.9,473.5 157.7,475.1 158.4,459.8 158.8,448.5 158.9,449.5 159.7,473.0 160.4,474.4 160.8,473.7 160.9,474.0 161.7,475.7 162.4,476.1 163.2,476.3 163.9,476.5 164.6,476.5 165.4,476.4 165.7,475.8 165.9,476.0 166.6,476.8 167.4,476.7 168.1,473.2 168.7,468.1 169.4,474.7 170.1,477.0 170.9,476.0 171.6,473.1 172.1,475.0 172.9,476.6 173.6,476.6 174.4,476.4 175.1,476.7 175.9,476.7 176.6,477.0 177.4,476.8 178.1,477.0 178.9,476.9 179.6,477.1 180.4,476.9 181.1,476.9 181.9,477.0 182.6,477.0 183.4,476.9 184.1,476.8 184.9,476.9 185.6,477.0 186.4,477.1 187.1,477.1 187.9,477.1 188.6,477.1 189.4,476.8 190.1,477.0 190.9,477.0 191.6,477.1 192.4,476.8 193.1,477.2 193.9,477.2 194.6,477.1 195.4,477.1 196.1,477.0 196.9,476.9 197.6,477.2 198.4,476.9 199.1,476.9 199.9,477.1 200.6,476.9 201.4,477.1 202.1,477.3 202.9,476.8 203.6,477.1 204.4,476.8 205.1,477.2 205.9,477.0 206.6,476.9 207.3,476.7 208.1,476.9 208.8,476.9 209.6,476.9 210.3,477.0 211.1,477.0 211.8,477.1 212.6,477.0 213.3,476.9 214.1,477.0 214.8,477.0 215.6,477.1 216.3,476.9 217.1,477.1 217.8,476.9 218.6,476.9 219.3,476.9 220.1,476.8 220.8,477.1 221.6,477.2 222.3,477.1 223.1,477.0 223.8,476.7 224.6,477.1 225.3,476.8 226.1,477.0 226.8,476.8 227.6,476.9 228.3,477.1 229.1,476.8 229.8,477.0 230.6,476.9 231.3,477.0 232.1,477.2 232.8,476.8 233.6,476.8 234.3,476.9 235.1,476.6 235.8,476.8 236.6,476.7 237.3,476.9 238.1,477.1 238.8,476.9 239.6,476.8 240.3,476.7 241.1,477.0 241.8,476.9 242.6,477.0 243.3,476.7 244.1,476.7 244.8,476.8 245.6,476.9 246.3,476.8 247.1,477.0 247.8,476.9 248.6,476.9 249.3,476.9 250.0,476.8 250.8,476.9 251.5,477.0 252.3,476.7 253.0,476.6 253.8,476.7 254.5,476.9 255.3,476.7 256.0,476.7 256.8,476.7 257.5,476.8 258.3,476.9 259.0,476.7 259.8,476.6 260.5,476.9 261.3,476.8 262.0,477.0 262.8,476.8 263.5,476.9 264.3,476.6 265.0,476.7 265.8,476.8 266.5,476.8 267.3,476.9 268.0,476.8 268.8,476.1 269.5,465.9 269.8,463.6 270.3,470.6 271.0,476.8 271.8,477.0 272.5,476.8 273.3,476.8 274.0,476.8 274.8,477.0 275.5,476.9 276.3,477.0 277.0,477.1 277.8,477.0 278.5,477.0 279.3,476.8 280.0,476.7 280.2,476.6 280.5,476.9 281.3,477.0 282.0,477.0 282.8,477.1 283.5,477.0 284.3,477.1 285.0,476.8 285.8,477.2 286.5,477.1 287.3,477.2 288.0,477.3 288.8,477.2 289.5,477.1 290.3,477.3 291.0,477.3 291.7,477.2 292.5,477.1 293.2,476.9 294.0,477.2 294.7,477.3 295.5,477.3 296.2,477.2 297.0,477.2 297.7,477.3 298.5,477.4 299.2,477.2 300.0,477.4 300.7,477.5 301.5,477.5 302.2,477.5 303.0,477.3 303.7,477.4 304.5,477.4 305.2,477.3 306.0,477.4 306.7,477.3 307.5,477.5 308.2,477.3 309.0,477.3 309.7,477.4 310.5,477.3 311.2,477.3 312.0,477.5 312.7,477.5 313.5,477.5 314.2,477.5 315.0,477.4 315.7,477.3 316.5,477.3 317.2,477.5 318.0,477.3 318.7,477.6 319.5,477.4 320.2,477.4 321.0,477.7 321.7,477.4 322.5,477.4 323.2,477.6 324.0,477.4 324.7,477.3 325.5,470.6 326.1,458.3 326.7,469.5 327.5,477.5 328.2,477.7 329.0,477.5 329.7,477.8 330.5,477.7 331.2,477.8 332.0,477.8 332.7,477.7 333.5,477.9 334.2,477.6 334.9,477.9 335.7,477.8 336.4,477.8 337.2,477.7 337.9,477.8 338.7,477.8 339.4,477.8 340.2,477.8 340.9,477.9 341.7,477.7 342.4,477.5 343.2,476.9 343.5,476.8 343.7,477.0 344.4,477.5 345.2,477.9 345.9,477.9 346.7,477.9 347.4,477.9 348.2,477.8 348.9,477.7 349.7,477.9 350.4,477.9 351.2,477.8 351.9,477.6 352.7,477.6 353.4,477.8 354.2,477.9 354.9,477.9 355.7,477.9 356.4,477.8 357.2,477.8 357.9,477.7 358.7,477.4 359.3,477.1 359.9,477.4 360.7,477.9 361.4,477.8 362.2,477.9 362.9,477.8 363.7,477.7 364.4,477.8 365.2,477.8 365.9,477.8 366.7,477.9 367.4,477.8 368.2,478.0 368.9,477.9 369.7,477.9 370.4,477.9 371.2,477.7 371.9,477.9 372.7,477.9 373.4,478.0 374.2,477.9 374.9,477.8 375.7,477.8 376.4,477.9 377.1,478.0 377.9,477.9 378.6,477.9 379.4,475.7 380.1,450.6 380.5,439.2 380.6,440.0 381.4,469.9 382.1,477.6 382.9,477.8 383.6,478.0 384.4,477.9 385.1,477.8 385.9,478.0 386.6,477.9 387.4,478.0 388.1,477.9 388.9,477.9 389.6,478.0 390.4,477.8 391.1,477.8 391.9,477.9 392.6,477.9 393.4,477.9 394.1,477.9 394.9,478.0 395.6,478.0 396.4,477.8 397.1,478.0 397.9,477.8 398.6,477.8 399.4,478.0 400.1,478.0 400.9,477.8 401.6,478.0 402.4,478.0 403.1,478.1 403.9,478.0 404.6,477.9 405.4,478.0 406.1,478.2 406.9,477.9 407.6,478.1 408.4,478.0 409.1,477.9 409.9,477.9 410.6,477.9 411.4,478.0 412.1,478.0 412.9,478.0 413.6,478.1 414.4,478.1 415.1,478.0 415.9,478.0 416.6,478.0 417.4,478.1 418.1,478.0 418.8,478.0 419.6,477.9 420.3,478.0 421.1,478.2 421.8,477.9 422.6,478.1 423.3,477.9 424.1,478.0 424.8,477.8 425.6,478.1 426.3,477.9 427.1,478.0 427.8,478.0 428.6,478.0 429.3,478.0 430.1,478.0 430.8,478.0 431.6,477.9 432.3,478.1 433.1,477.9 433.8,478.1 434.6,477.9 435.3,478.0 436.1,478.1 436.8,473.8 437.6,435.3 438.0,419.3 438.1,420.5 438.8,464.1 439.6,477.8 440.3,478.2 441.1,478.1 441.8,478.0 442.6,478.0 443.3,478.0 444.1,478.0 444.8,477.9 445.6,478.0 446.3,478.1 447.1,478.0 447.8,478.0 448.6,477.8 449.3,478.0 450.1,478.1 450.8,478.0 451.6,478.1 452.3,477.9 453.1,478.0 453.8,478.1 454.6,478.0 455.3,478.1 456.1,478.1 456.8,478.0 457.6,477.9 458.3,478.1 459.1,478.0 459.8,477.8 460.6,478.0 461.3,478.1 462.0,478.1 462.8,478.1 463.5,478.0 464.3,478.0 465.0,478.1 465.8,478.1 466.5,478.0 467.3,478.1 468.0,478.0 468.8,478.1 469.5,478.0 470.3,478.0 471.0,478.1 471.8,478.1 472.5,478.0 473.3,477.9 474.0,477.8 474.5,477.6 474.8,477.7 475.5,478.0 476.3,478.1 477.0,478.1 477.8,478.0 478.5,478.0 479.3,478.0 480.0,478.0 480.8,478.1 481.5,478.1 482.3,478.1 483.0,478.1 483.8,478.0 484.5,478.1 485.3,478.1 486.0,478.1 486.8,478.1 487.5,478.1 488.3,478.1 489.0,477.9 489.8,478.1 490.5,478.1 491.3,478.2 492.0,477.8 492.4,477.7 492.5,477.7 493.3,478.0 494.0,478.1 494.8,478.0 495.5,478.0 496.3,478.2 497.0,478.1 497.8,478.1 498.5,478.2 499.3,478.2 500.0,478.1 500.8,478.2 501.5,478.1 502.3,478.1 503.0,478.0 503.7,478.1 504.5,478.1 505.2,478.1 506.0,478.0 506.7,478.1 507.5,478.1 508.2,478.1 509.0,478.1 509.7,478.1 510.5,478.2 511.2,478.2 512.0,478.2 512.7,478.2 513.5,478.0 514.2,478.2 515.0,478.2 515.7,478.0 516.5,478.1 517.2,478.2 518.0,478.1 518.7,478.1 519.5,478.2 520.2,478.0 521.0,478.1 521.7,478.0 522.5,478.1 523.2,478.0 524.0,478.2 524.7,478.1 525.5,478.1 526.2,478.1 527.0,478.0 527.7,478.1 528.5,478.1 529.2,478.2 530.0,478.1 530.7,478.1 531.5,478.2 532.2,478.2 533.0,478.1 533.7,478.3 534.5,478.1 535.2,478.1 536.0,478.2 536.7,478.2 537.5,478.1 538.2,478.2 539.0,478.1 539.7,478.1 540.5,478.1 541.2,478.1 542.0,478.1 542.5,478.0 542.7,478.0 543.5,478.2 544.2,478.0 545.0,478.2 545.7,478.0 546.4,478.1 547.2,478.2 547.9,478.1 548.7,478.1 549.4,478.1 550.2,478.2 550.9,478.2 551.7,478.2 552.4,478.2 553.2,478.2 553.9,478.0 554.7,478.2 555.4,478.2 556.2,478.1 556.9,478.2 557.7,478.0 558.4,478.1 559.2,478.2 559.9,478.2 560.7,478.2 561.4,478.1 562.2,478.2 562.9,478.2 563.7,478.2 564.4,478.2 565.2,478.2 565.9,478.1 566.7,478.1 567.4,478.2 568.2,478.2 568.5,478.1 568.7,478.1 569.4,478.2 570.2,478.2 570.9,478.1 571.7,478.2 572.4,478.1 573.2,478.2 573.9,478.1 574.7,478.1 574.9,478.0 575.4,478.1 576.2,478.1 576.9,478.1 577.7,478.3 578.4,478.3 579.2,478.2 579.9,478.1 580.7,478.3 581.4,478.1 582.2,478.2 582.9,478.2 583.7,478.1 584.4,478.2 585.2,478.2 585.9,478.1 586.7,478.2 587.4,478.2 588.1,478.1 588.9,478.2 589.6,478.2 590.4,478.2 591.1,478.2 591.9,478.2 592.6,478.3 593.4,478.2 594.1,478.3 594.9,478.3 595.6,478.2 596.4,478.1 597.1,478.2 597.9,478.3 598.6,478.1 599.4,478.2 600.1,478.2 600.9,478.1 601.6,478.2 602.4,478.2 603.1,478.3 603.9,478.2 604.6,478.2 605.4,478.2 606.1,478.3 606.9,478.3 607.6,478.4 608.4,478.2 609.1,478.2 609.9,478.2 610.6,478.2 611.4,478.2 612.1,478.3 612.9,478.2 613.6,478.2 614.4,478.2 615.1,478.2 615.9,478.2 616.6,478.3 617.4,478.3 618.1,478.2 618.9,478.3 619.6,478.3 620.4,478.3 621.1,478.3 621.9,478.3 622.6,478.4 623.4,478.3 624.1,478.2 624.9,478.3 625.6,478.3 626.4,478.2 627.1,478.2 627.9,478.3 628.6,478.2 629.4,478.2 630.1,478.2 630.8,478.2 631.6,478.1 632.3,478.3 633.1,478.3 633.8,478.3 634.6,478.3 635.3,478.2 636.1,478.3 636.8,478.3 637.6,478.2 638.3,478.2 639.1,478.2 639.8,478.2 640.6,478.3 641.3,478.4 642.1,478.2 642.8,478.3 643.6,478.3 644.3,478.3 645.1,478.3 645.8,478.3 646.6,478.3 647.3,478.2 648.1,478.3 648.8,478.3 649.6,478.3 650.3,478.2 651.1,478.3 651.8,478.3 652.6,478.3 653.3,478.3 654.1,478.4 654.8,478.3 655.6,478.3 656.3,478.3 657.1,478.2 657.8,478.3 658.6,478.3 659.3,478.2 660.1,478.2 660.8,478.3 661.6,478.3 662.3,478.4 663.1,478.3 663.8,478.3 664.6,478.2 665.3,478.3 666.1,478.3 666.8,478.3 667.6,478.3 668.3,478.3 669.1,478.1 669.8,478.1 670.6,478.2 671.3,478.2 672.1,478.3 672.8,478.3 673.5,478.4 674.3,478.3 675.0,478.3 675.8,478.4 676.5,478.3 677.3,478.3 678.0,478.3 678.8,478.3 679.5,478.3 680.3,478.3 681.0,478.4 681.8,478.2 682.5,478.3 683.3,478.3 684.0,478.3 684.8,478.3 685.5,478.2 686.3,478.3 687.0,478.3 687.8,478.3 688.5,478.3 689.3,478.3 690.0,478.2 690.8,478.3 691.5,478.3 692.3,478.3 693.0,478.4 693.8,478.3 694.5,478.3 695.3,478.3 696.0,478.3 696.8,478.3 697.5,478.2 698.3,474.3 699.0,453.3 699.5,444.6 699.5,444.8 700.3,465.3 701.0,477.3 701.8,478.3 702.5,478.4 703.3,478.3 704.0,478.3 704.8,478.3 705.5,478.3 706.3,478.3 707.0,478.3 707.8,478.3 708.5,478.4 709.3,478.3 710.0,478.3 710.8,478.4 711.5,478.3 712.3,478.4 713.0,478.3 713.8,478.3 714.5,478.3 715.2,478.3 716.0,478.3 716.7,478.3 717.5,478.3 718.2,478.2 719.0,478.3 719.7,478.5 720.5,478.3 721.2,478.3 722.0,478.3 722.7,478.4 723.5,478.4 724.2,478.4 725.0,478.4 725.7,478.3 726.5,478.3 727.2,478.4 728.0,478.3 728.7,478.3 729.5,478.3 730.2,478.3 731.0,478.3 731.7,478.3 732.5,478.4 733.2,478.3 734.0,478.4 734.7,478.4 735.5,478.3 736.2,478.3 737.0,478.4 737.7,478.3 738.5,478.4 739.2,478.3 740.0,478.3 740.7,478.3 741.5,478.3 742.2,478.3 743.0,478.4 743.7,478.4 744.5,478.3 745.2,478.4 746.0,478.4 746.7,478.4 747.5,478.3 748.2,478.3 749.0,478.4 749.7,478.4 750.5,478.4 751.2,478.3 752.0,478.4 752.7,478.4 753.5,478.2 754.2,478.4 755.0,478.2 755.7,477.7 756.2,477.5 756.5,477.5 757.2,478.1 757.9,478.3 758.7,478.4 759.4,478.4 760.2,478.4 760.9,478.3 761.7,478.4 762.4,478.4 763.2,478.3 763.9,478.5 764.7,478.4 765.4,478.4 766.2,478.4 766.9,478.4 767.7,478.4 768.4,478.3 769.2,478.3 769.9,478.3 770.7,478.3 771.4,478.3 772.2,478.4 772.9,478.3 773.7,478.4 774.4,478.3 775.2,478.3 775.9,478.4 776.7,478.4 777.4,478.3 778.2,478.4 778.9,478.3 779.7,478.3 780.4,478.4 781.2,478.4 781.9,478.4 782.7,478.3 783.4,478.4 784.2,478.4 784.9,478.3 785.7,478.4 786.4,478.3 787.2,478.4 787.9,478.3 788.7,478.4 789.4,478.4 790.2,478.4 790.9,478.4 791.7,478.4 792.4,478.4 793.2,478.3 793.9,478.1 794.0,478.0 794.4,478.1 795.2,478.3 795.9,478.4 796.7,478.4 797.4,478.4 798.2,478.5 798.9,478.4 799.6,478.3 800.4,478.4 801.1,478.3 801.9,478.3 802.6,478.3 803.4,478.3 804.1,478.4 804.9,478.4 805.6,478.3 806.4,478.4 807.1,478.3 807.9,478.3 808.6,478.3 809.4,478.3 810.1,478.3 810.9,478.3 811.6,478.2 811.8,478.3 812.1,478.3 812.9,478.3 813.6,478.4 814.4,478.3 815.1,478.3 815.9,478.4 816.6,478.3 817.4,478.3 818.1,478.4 818.9,478.3 819.6,478.4 820.4,478.4 821.1,478.4 821.9,478.5 822.6,478.4 823.4,478.4 824.1,478.3 824.9,478.3 825.6,478.4 826.4,478.4 827.1,478.3 827.9,478.3 828.6,478.4 829.4,478.4 830.1,478.4 830.9,478.5 831.6,478.4 832.4,478.3 833.1,478.4 833.9,478.3 834.3,478.3 834.4,478.3 835.1,478.3 835.9,478.4 836.6,478.4 837.4,478.4 838.1,478.4 838.9,478.4 839.6,478.4 840.4,478.3 841.1,478.3 841.8,478.3 842.6,478.3 843.3,478.4 844.1,478.4 844.8,478.2 845.0,478.2 845.3,478.2 846.1,478.3 846.8,478.5 847.6,478.3 848.3,478.4 849.1,478.4 849.8,478.4 850.6,478.3 851.3,478.3 852.1,478.4 852.8,478.4 853.6,478.4 854.3,478.3 855.1,478.4 855.8,478.3 856.6,478.4 857.3,478.4 858.1,478.4 858.8,478.4 859.6,478.0 860.3,476.9 861.1,476.0 861.8,476.9 862.6,478.1 863.3,478.3 864.1,478.3 864.8,478.4 865.6,478.4 866.3,478.4 867.1,478.4 867.8,478.4 868.6,478.3 869.3,478.4 870.1,478.3 870.8,478.3 871.6,478.4 872.3,478.4 873.1,478.4 873.8,478.4 874.6,478.4 875.3,478.4 876.1,478.4 876.8,478.3 877.6,478.3 878.3,478.0 878.8,477.9 878.8,477.9 879.6,478.2 880.3,478.5 881.1,478.4 881.8,478.4 882.6,478.4 883.3,478.4 884.1,478.4 884.8,478.4 885.5,478.4 886.3,478.4 887.0,478.4 887.8,478.3 888.5,478.3 889.3,478.4 890.0,478.4 890.8,478.4 891.5,478.3 892.3,478.4 893.0,478.3 893.8,478.4 894.5,478.3 895.3,478.4 896.0,478.3 896.8,478.4 897.5,478.3 898.3,478.2 899.0,477.8 899.1,477.7 899.5,477.9 900.3,478.3 901.0,478.4 901.8,478.3 902.5,478.4 903.3,478.4 904.0,478.4 904.8,478.4 905.5,478.4 906.3,478.4 907.0,478.4 907.8,478.4 908.5,478.4 909.3,478.4 910.0,478.4 910.8,478.4 911.5,478.3 912.3,478.3 913.0,478.4 913.8,478.3 914.5,478.4 915.3,478.4 916.0,478.4 916.8,478.4 917.5,478.3 918.3,478.4 919.0,478.3 919.8,478.4 920.5,478.3 921.3,478.4 922.0,478.3 922.8,478.4 923.5,478.4 924.3,478.4 925.0,478.5 925.8,478.4 926.5,478.4 927.2,478.3 928.0,478.4 928.7,478.4 929.5,478.4 930.2,478.4 931.0,478.4 931.7,478.4 932.5,478.1 932.7,478.2 933.0,478.1 933.7,478.3 934.5,478.3 935.2,478.4 936.0,478.4 936.7,478.4 937.5,478.4 938.2,478.4 939.0,478.4 939.7,478.4 940.5,478.3 941.2,478.4 942.0,478.4 942.7,478.4 943.5,478.4 944.2,478.4 945.0,478.4 945.7,478.5 946.5,478.3 947.2,478.4 948.0,478.4 948.7,478.4 949.5,478.3 950.2,478.5 951.0,478.5 951.7,478.4 952.5,478.3 953.2,478.3 954.0,478.4 954.7,478.4 955.5,478.3 956.2,478.4 957.0,478.4 957.7,478.4 958.5,478.4 959.2,478.4 960.0,478.4 960.7,478.4 961.5,478.4 962.2,478.4 963.0,478.4 963.7,478.4 964.5,478.4 965.2,478.3 966.0,478.3 966.7,478.4 967.5,478.4 968.2,478.4 968.9,478.5 969.7,478.4 970.4,478.3 971.2,478.4 971.9,478.4 972.7,478.4 973.4,478.4 974.2,478.4 974.9,478.4 975.7,478.4 976.4,478.4 977.2,478.3 977.9,478.5 978.7,478.4 979.4,478.3 980.2,478.4 980.9,478.4 981.7,478.4 982.4,478.4 983.2,478.4 983.9,478.3 984.7,478.5 985.4,478.4 986.2,478.4 986.9,478.4 987.7,478.4 988.4,478.4 989.2,478.4 989.9,478.3 990.7,478.4 991.4,478.3 992.2,478.4 992.9,478.4 993.7,478.4 994.4,478.4 995.2,478.4 995.9,478.4 996.7,478.3 997.4,478.4 998.2,478.3 998.9,478.3 999.1,478.3 999.4,478.3 1000.2,478.3 1000.9,478.4 1001.7,478.3 1002.4,478.4 1003.2,478.4 1003.9,478.4 1004.7,478.3 1005.4,478.5 1006.2,478.4 1006.9,478.5 1007.7,478.4 1008.4,478.4 1009.2,478.3 1009.9,478.3 1010.7,478.4 1011.4,478.3 1012.1,478.5 1012.9,478.4 1013.6,478.3 1014.4,478.4 1015.1,478.4 1015.9,478.4 1016.6,478.3 1017.4,478.4 1018.1,478.4 1018.9,478.3 1019.6,478.4 1020.4,478.5 1021.1,478.4 1021.9,478.3 1022.6,478.4 1023.4,478.3 1024.1,478.3 1024.9,478.4 1025.6,478.5 1026.4,478.4 1027.1,478.4 1027.9,478.2 1028.6,477.6 1029.3,477.2 1029.9,477.6 1030.6,478.2 1031.4,478.4 1032.1,478.5 1032.9,478.4 1033.6,478.5 1034.4,478.5 1035.1,478.5 1035.9,478.5 1036.6,478.5 1037.4,478.5 1038.1,478.5 1038.9,478.5 1039.6,478.5 1040.4,478.5 1041.1,478.5 1041.9,478.5 1042.6,478.4 1043.4,478.5 1044.1,478.5 1044.9,478.5 1045.6,478.5 1046.4,478.5 1047.1,478.5 1047.9,478.5 1048.6,478.5 1049.4,478.5 1050.1,478.5 1050.9,478.5 1051.6,478.5 1052.4,478.5 1053.1,478.5 1053.8,478.5 1054.6,478.5 1055.3,478.5 1056.1,478.6 1056.8,478.5 1057.6,478.6 1058.3,478.5 1059.1,478.5 1059.8,478.5 1060.6,478.5 1061.3,478.5 1062.1,478.5 1062.8,478.6 1063.6,478.5 1064.3,478.5 1065.1,478.5 1065.8,478.5 1066.6,478.5 1067.3,478.5 1068.1,478.5 1068.8,478.4 1069.6,478.5 1070.3,478.5 1071.1,478.5 1071.8,478.5 1072.6,478.5 1073.3,478.5 1074.1,478.5 1074.8,478.5 1075.6,478.5 1076.3,478.5 1077.1,478.5 1077.8,478.5 1078.6,478.5 1079.3,478.5 1080.1,478.5 1080.8,478.5 1081.6,478.5 1082.3,478.5 1083.1,478.5 1083.8,478.5 1084.6,478.5 1085.3,478.5 1086.1,478.5 1086.8,478.5 1087.6,478.5 1088.3,478.5 1089.1,478.5 1089.8,478.5 1090.6,478.5 1091.3,478.5 1092.1,478.5 1092.8,478.5 1093.6,478.5 1094.3,478.5 1095.1,478.5 1095.8,478.5 1096.5,478.5 1097.3,478.5 1098.0,478.5 1098.8,478.4 1099.5,478.5 1100.3,478.5 1101.0,478.4 1101.8,478.5 1102.5,478.5 1103.3,478.5 1104.0,478.4 1104.8,478.5 1105.5,478.5 1106.3,478.5 1107.0,478.5 1107.8,478.6 1108.5,478.5 1109.3,478.5 1110.0,478.5 1110.8,478.5 1111.5,478.5 1112.3,478.5 1113.0,478.5 1113.8,478.5 1114.5,478.4 1115.3,478.5 1116.0,478.5 1116.8,478.5 1117.5,478.5 1118.3,478.6 1119.0,478.6 1119.8,478.6 1120.5,478.6 1121.3,478.6 1122.0,478.6 1122.8,478.6 1123.5,478.6 1124.3,478.6 1125.0,478.6 1125.8,478.6 1126.5,478.5 1127.3,478.6 1128.0,478.6 1128.8,478.6 1129.5,478.6 1130.3,478.5 1131.0,478.6 1131.8,478.6 1132.5,478.6 1133.3,478.6 1134.0,478.6 1134.8,478.5 1135.5,478.6 1136.3,478.5 1137.0,478.6 1137.8,478.6 1138.5,478.6 1139.2,478.6 1140.0,478.6 1140.7,478.5 1141.5,478.6 1142.2,478.6 1143.0,478.6 1143.7,478.6 1144.5,478.6 1145.2,478.6 1146.0,478.6 1146.7,478.6 1147.5,478.6 1148.2,478.6 1149.0,478.6 1149.7,478.6 1150.5,478.6 1151.2,478.6 1152.0,478.6 1152.7,478.6 1153.5,478.6 1154.2,478.6 1155.0,478.6 1155.7,478.6 1156.5,478.6 1157.2,478.6 1158.0,478.6 1158.7,478.6 1159.5,478.5 1160.2,478.5 1161.0,478.6 1161.7,478.6 1162.5,478.6 1163.2,478.6 1164.0,478.6 1164.7,478.6 1165.5,478.6 1166.2,478.6 1167.0,478.5 1167.7,478.6 1168.5,478.6 1169.2,478.6 1170.0,478.6 1170.7,478.6 1171.5,478.5 1172.2,478.6 1173.0,478.6 1173.7,478.6 1174.5,478.5 1175.2,478.6 1176.0,478.6 1176.7,478.6 1177.5,478.6 1178.2,478.6 1179.0,478.6 1179.7,478.6 1180.5,478.6 1181.2,478.6 1181.9,478.6 1182.7,478.6 1183.4,478.6 1184.2,478.6 1184.9,478.6 1185.7,478.6 1186.4,478.6 1187.2,478.6 1187.9,478.6 1188.7,478.5 1189.4,478.6 1190.2,478.6 1190.9,478.6 1191.7,478.6 1192.4,478.6 1193.2,478.5 1193.9,478.6 1194.7,478.6 1195.4,478.6 1196.2,478.5 1196.9,478.5 1197.7,478.6 1198.4,478.6 1199.2,478.6 1199.9,478.6 1200.7,478.6 1201.4,478.6 1202.2,478.6 1202.9,478.6 1203.7,478.6 1204.4,478.6 1205.2,478.6 1205.9,478.6 1206.7,478.6 1207.4,478.6 1208.2,478.6 1208.9,478.6 1209.7,478.6 1210.4,478.6 1211.2,478.6 1211.9,478.6 1212.7,478.6 1213.4,478.6 1214.2,478.6 1214.9,478.6 1215.7,478.6 1216.4,478.4 1217.2,477.5 1217.9,475.1 1218.6,473.7 1219.2,474.8 1219.9,477.4 1220.7,478.4 1221.4,478.6 1222.2,478.6 1222.9,478.6 1223.6,478.5 1224.4,478.5 1225.1,478.6 1225.9,478.6 1226.6,478.6 1227.4,478.6 1228.1,478.6 1228.9,478.6 1229.6,478.6 1230.4,478.6 1231.1,478.6 1231.9,478.6 1232.6,478.6 1233.4,478.6 1234.1,478.6 1234.9,478.6 1235.6,478.6 1236.4,478.5 1237.1,478.6 1237.9,478.6 1238.6,478.6 1239.4,478.6 1240.1,478.6 1240.9,478.6 1241.6,478.6 1242.4,478.5 1243.1,478.6 1243.9,478.6 1244.6,478.5 1245.4,478.6 1246.1,478.6 1246.9,478.6 1247.6,478.6 1248.4,478.6 1249.1,478.6 1249.9,478.6 1250.6,478.6 1251.4,478.5 1252.1,478.5 1252.9,478.3 1253.6,477.8 1254.4,478.3 1255.1,478.6 1255.9,478.6 1256.6,478.6 1257.4,478.6 1258.1,478.6 1258.9,478.6 1259.6,478.6 1260.4,478.6 1261.1,478.6 1261.9,478.5 1262.6,478.6 1263.4,478.6 1264.1,478.6 1264.9,478.6 1265.6,478.6 1266.3,478.6 1267.1,478.5 1267.8,478.6 1268.6,478.5 1269.3,478.6 1270.1,478.6 1270.8,478.6 1271.6,478.5 1272.3,478.5 1273.1,478.6 1273.8,478.6 1274.6,478.6 1275.3,478.6 1276.1,478.6 1276.8,478.6 1277.6,478.5 1278.3,478.6 1279.1,478.6 1279.8,478.5 1280.6,478.4 1281.1,478.3 1281.3,478.3 1282.1,478.5 1282.8,478.6 1283.6,478.6 1284.3,478.5 1285.1,478.6 1285.8,478.6 1286.6,478.6 1287.3,478.6 1288.1,478.5 1288.8,478.5 1289.6,478.5 1290.3,478.6 1291.1,478.6 1291.8,478.6 1292.6,478.6 1293.3,478.6 1294.1,478.6 1294.8,478.6 1295.6,478.6 1296.3,478.6 1297.1,478.6 1297.8,478.6 1298.6,478.5 1299.3,478.5 1300.1,478.6 1300.8,478.5 1301.6,478.6 1302.3,478.6 1303.1,478.6 1303.8,478.6 1304.6,478.6 1305.3,478.6 1306.1,478.5 1306.8,478.4 1307.1,478.4 1307.6,478.4 1308.3,478.6 1309.0,478.6 1309.8,478.6 1310.5,478.6 1311.3,478.5 1312.0,478.6 1312.8,478.6 1313.5,478.6 1314.3,478.6 1315.0,478.5 1315.8,478.6 1316.5,478.6 1317.3,478.6 1318.0,478.6 1318.8,478.6 1319.5,478.6 1320.3,478.6 1321.0,478.6 1321.8,478.5 1322.5,478.6 1323.3,478.6 1324.0,478.6 1324.8,478.6 1325.5,478.6 1326.3,478.6 1327.0,478.6 1327.8,478.6 1328.5,478.6 1329.3,478.6 1330.0,478.6 1330.8,478.6 1331.5,478.6 1332.3,478.6 1333.0,478.6 1333.8,478.6 1334.5,478.5 1335.3,478.6 1336.0,478.5 1336.8,478.3 1337.5,477.6 1338.3,476.9 1338.4,476.9 1338.8,477.1 1339.5,477.8 1340.3,478.4 1341.0,478.6 1341.8,478.5 1342.5,478.6 1343.3,478.6 1344.0,478.6 1344.8,478.6 1345.5,478.6 1346.3,478.6 1347.0,478.6 1347.8,478.6 1348.5,478.6 1349.3,478.6 1350.0,478.6 1350.7,478.6 1351.5,478.6 1352.2,478.6 1353.0,478.6 1353.7,478.6 1354.5,478.6 1355.2,478.5 1356.0,478.6 1356.7,478.6 1357.5,478.6 1358.2,478.6 1359.0,478.6 1359.7,478.6 1360.5,478.6 1361.2,478.5 1362.0,478.6 1362.7,478.6 1363.5,478.6 1364.2,478.6 1365.0,478.5 1365.7,478.5 1366.5,478.6 1367.2,478.6 1368.0,478.6 1368.7,478.5 1369.5,478.6 1370.2,478.6 1371.0,478.6 1371.7,478.6 1372.5,478.6 1373.2,478.6 1374.0,478.6 1374.7,478.6 1375.5,478.6 1376.2,478.6 1377.0,478.5 1377.7,478.5 1378.5,478.6 1379.2,478.6 1380.0,478.6 1380.7,478.5 1381.5,478.2 1381.9,478.1 1382.0,478.2 1382.7,478.4 1383.5,478.6 1384.2,478.6 1385.0,478.6 1385.7,478.6 1386.5,478.6 1387.2,478.6 1388.0,478.6 1388.7,478.6 1389.5,478.6 1390.2,478.6 1391.0,478.5 1391.7,478.5 1392.4,478.6 1393.2,478.6 1393.9,478.6 1394.7,478.6 1395.4,478.6 1396.2,478.5 1396.9,478.6 1397.7,478.6 1398.4,478.6 1399.2,478.6 1399.9,478.6 1400.7,478.6 1401.4,478.6 1402.2,478.6 1402.9,478.5 1403.7,478.6 1404.4,478.6 1405.2,478.6 1405.9,478.6 1406.7,478.6 1407.4,478.6 1408.2,478.6 1408.9,478.6 1409.7,478.6 1410.4,478.6 1411.2,478.6 1411.9,478.6 1412.7,478.6 1413.4,478.6 1414.2,478.6 1414.9,478.6 1415.7,478.6 1416.4,478.6 1417.2,478.5 1417.9,478.6 1418.7,478.6 1419.4,478.6 1420.2,478.6 1420.9,478.6 1421.7,478.6 1422.4,478.6 1423.2,478.5 1423.9,478.6 1424.7,478.6 1425.4,478.5 1426.2,478.6 1426.9,478.6 1427.7,478.6 1428.4,478.6 1429.2,478.6 1429.9,478.6 1430.7,478.6 1431.4,478.6 1432.2,478.6 1432.9,478.6 1433.7,478.6 1434.4,478.6 1435.1,478.6 1435.9,478.6 1436.6,478.6 1437.4,478.6 1438.1,478.6 1438.9,478.6 1439.6,478.6 1440.4,478.6 1441.1,478.5 1441.9,478.6 1442.6,478.5 1443.4,478.6 1444.1,478.6 1444.9,478.6 1445.6,478.6 1446.4,478.6 1447.1,478.6 1447.9,478.6 1448.6,478.6 1449.4,478.5 1450.1,478.6 1450.9,478.6 1451.6,478.6 1452.4,478.6 1453.1,478.6 1453.9,478.5 1454.6,478.6 1455.4,478.6 1456.1,478.6 1456.9,478.6 1457.6,478.6 1458.4,478.5 1459.1,478.6 1459.9,478.6 1460.6,478.6 1461.4,478.6 1462.1,478.6 1462.9,478.6 1463.6,478.6 1464.4,478.6 1465.1,478.6 1465.9,478.6 1466.6,478.5 1467.4,478.6 1468.1,478.6 1468.9,478.6 1469.6,478.6 1470.4,478.6 1471.1,478.6 1471.9,478.6 1472.6,478.6 1473.4,478.6 1474.1,478.6 1474.9,478.6 1475.6,478.6 1476.4,478.6 1477.1,478.6 1477.8,478.5 1478.6,478.5 1479.3,478.0 1480.1,477.5 1480.2,477.4 1480.6,477.6 1481.3,478.2 1482.1,478.5 1482.8,478.6 1483.6,478.6 1484.3,478.6 1485.1,478.6 1485.8,478.6 1486.6,478.6 1487.3,478.5 1488.1,478.6 1488.8,478.6 1489.6,478.6 1490.3,478.6 1491.1,478.6 1491.8,478.6 1492.6,478.6 1493.3,478.6 1494.1,478.6 1494.8,478.6 1495.6,478.6 1496.3,478.6 1497.1,478.6 1497.8,478.6 1498.6,478.6 1499.3,478.6 1500.1,478.6 1500.8,478.6 1501.6,478.6 1502.3,478.6 1503.1,478.5 1503.8,478.2 1504.2,478.1 1504.3,478.2 1505.1,478.4 1505.8,478.6 1506.6,478.6 1507.3,478.6 1508.1,478.6 1508.8,478.5 1509.6,478.3 1510.3,477.9 1510.4,477.9 1510.8,478.0 1511.6,478.4 1512.3,478.5 1513.1,478.6 1513.8,478.5 1514.6,478.5 1515.3,478.5 1516.1,478.6 1516.8,478.6 1517.6,478.5 1518.3,478.6 1519.1,478.6 1519.8,478.6 1520.5,478.6 1521.3,478.6 1522.0,478.6 1522.8,478.6 1523.5,478.6 1524.3,478.6 1525.0,478.6 1525.8,478.6 1526.5,478.6 1527.3,478.6 1528.0,478.6 1528.8,478.6 1529.5,478.6 1530.3,478.6 1531.0,478.6 1531.8,478.6 1532.5,478.6 1533.3,478.6 1534.0,478.6 1534.8,478.6 1535.5,478.6 1536.3,478.6 1537.0,478.6 1537.8,478.6 1538.5,478.6 1539.3,478.6 1540.0,478.5 1540.8,478.6 1541.5,478.5 1542.3,478.6 1543.0,478.6 1543.8,478.6 1544.5,478.6 1545.3,478.5 1546.0,478.6 1546.8,478.6 1547.5,478.6 1548.3,478.5 1549.0,478.6 1549.8,478.6 1550.5,478.6 1551.3,478.6 1552.0,478.6 1552.8,478.6 1553.5,478.6 1554.3,478.6 1555.0,478.6 1555.8,478.6 1556.5,478.6 1557.3,478.6 1558.0,478.6 1558.8,478.6 1559.5,478.6 1560.3,478.6 1561.0,478.6 1561.8,478.6 1562.5,478.6 1563.2,478.6 1564.0,478.6 1564.7,478.6 1565.5,478.6 1566.2,478.6 1567.0,478.6 1567.7,478.6 1568.5,478.6 1569.2,478.5 1570.0,478.6 1570.7,478.6 1571.5,478.6 1572.2,478.6 1573.0,478.6 1573.7,478.5 1574.5,478.6 1575.2,478.6 1576.0,478.6 1576.7,478.6 1577.5,478.6 1578.2,478.6 1579.0,478.5 1579.7,478.6 1580.5,478.6 1581.2,478.6 1582.0,478.6 1582.7,478.6 1583.5,478.5 1584.2,478.6 1585.0,478.6 1585.7,478.6 1586.5,478.6 1587.2,478.6 1588.0,478.6 1588.7,478.6 1589.5,478.6 1590.2,478.6 1591.0,478.6 1591.7,478.5 1592.5,478.6 1593.2,478.5 1594.0,478.6 1594.7,478.6 1595.5,478.6 1596.2,478.6 1597.0,478.6 1597.7,478.6 1598.5,478.5 1599.2,478.6 1600.0,478.6 1600.7,478.6 1601.5,478.6 1602.2,478.6 1603.0,478.6 1603.7,478.6 1604.4,478.6 1605.2,478.6 1605.9,478.6 1606.7,478.6 1607.4,478.6 1608.2,478.6 1608.9,478.6 1609.7,478.6 1610.4,478.6 1611.2,478.6 1611.9,478.5 1612.7,478.2 1613.4,478.0 1613.9,478.2 1614.7,478.5 1615.4,478.6 1616.2,478.6 1616.9,478.6 1617.7,478.6 1618.4,478.6 1619.2,478.6 1619.9,478.6 1620.7,478.6 1621.4,478.6 1622.2,478.6 1622.9,478.6 1623.7,478.6 1624.4,478.6 1625.2,478.6 1625.9,478.6 1626.7,478.6 1627.4,478.6 1628.2,478.6 1628.9,478.6 1629.7,478.6 1630.4,478.6 1631.2,478.6 1631.9,478.6 1632.7,478.6 1633.4,478.6 1634.2,478.6 1634.9,478.6 1635.7,478.6 1636.4,478.6 1637.2,478.6 1637.9,478.6 1638.7,478.5 1639.4,478.6 1640.2,478.6 1640.9,478.6 1641.7,478.6 1642.4,478.6 1643.2,478.6 1643.9,478.6 1644.7,478.6 1645.4,478.6 1646.2,478.6 1646.9,478.6 1647.6,478.6 1648.4,478.6 1649.1,478.5 1649.9,478.6 1650.6,478.6 1651.4,478.6 1652.1,478.6 1652.9,478.6 1653.6,478.6 1654.4,478.6 1655.1,478.6 1655.9,478.6 1656.6,478.6 1657.4,478.6 1658.1,478.6 1658.9,478.6 1659.6,478.6 1660.4,478.5 1661.1,478.6 1661.9,478.5 1662.6,478.6 1663.4,478.6 1664.1,478.6 1664.9,478.6 1665.6,478.6 1666.4,478.6 1667.1,478.6 1667.9,478.5 1668.6,478.6 1669.4,478.6 1670.1,478.6 1670.9,478.6 1671.6,478.6 1672.4,478.6 1673.1,478.6 1673.9,478.6 1674.6,478.6 1675.4,478.6 1676.1,478.6 1676.9,478.6 1677.6,478.6 1678.4,478.6 1679.1,478.6 1679.9,478.6 1680.6,478.6 1681.4,478.6 1682.1,478.6 1682.9,478.6 1683.6,478.6 1684.4,478.6 1685.1,478.6 1685.9,478.6 1686.6,478.6 1687.4,478.6 1688.1,478.5 1688.6,478.4 1688.8,478.4 1689.6,478.5 1690.3,478.6 1691.1,478.6 1691.8,478.6 1692.6,478.6 1693.3,478.6 1694.1,478.6 1694.8,478.6 1695.6,478.6 1696.3,478.6 1697.1,478.6 1697.8,478.6 1698.6,478.5 1699.3,478.6 1700.1,478.6 1700.8,478.6 1701.6,478.6 1702.3,478.6 1703.1,478.4 1703.6,478.4 1703.8,478.4 1704.6,478.5 1705.3,478.6 1706.1,478.6 1706.8,478.6 1707.6,478.6 1708.3,478.6 1709.1,478.6 1709.8,478.6 1710.6,478.6 1711.3,478.6 1712.1,478.6 1712.8,478.6 1713.6,478.6 1714.3,478.6 1715.1,478.6 1715.8,478.6 1716.6,478.6 1717.3,478.6 1718.1,478.6 1718.8,478.6 1719.6,478.6 1720.3,478.6 1721.1,478.6 1721.8,478.6 1722.6,478.6 1723.3,478.6 1724.1,478.6 1724.8,478.6 1725.6,478.6 1726.3,478.6 1727.1,478.6 1727.8,478.6 1728.6,478.6 1729.3,478.6 1730.1,478.6 1730.8,478.6 1731.5,478.6 1732.3,478.6 1733.0,478.6 1733.8,478.6 1734.5,478.6 1735.3,478.6 1736.0,478.6 1736.8,478.6 1737.5,478.6 1738.3,478.6 1739.0,478.6 1739.8,478.6 1740.5,478.6 1741.3,478.6 1742.0,478.6 1742.8,478.6 1743.5,478.6 1744.3,478.5 1745.0,478.6 1745.8,478.6 1746.5,478.6 1747.3,478.6 1748.0,478.6 1748.8,478.6 1749.5,478.6 1750.3,478.6 1751.0,478.6 1751.8,478.6 1752.5,478.6 1753.3,478.6 1754.0,478.6 1754.8,478.6 1755.5,478.6 1756.3,478.6 1757.0,478.6 1757.8,478.6 1758.5,478.5 1759.3,478.6 1760.0,478.5 1760.8,478.6 1761.5,478.6 1762.3,478.6 1763.0,478.5 1763.8,478.6 1764.5,478.6 1765.3,478.6 1766.0,478.6 1766.8,478.5 1767.5,478.3 1767.9,478.3 1768.0,478.3 1768.8,478.4 1769.5,478.5 1770.3,478.6 1771.0,478.6 1771.8,478.6 1772.5,478.6 1773.3,478.6" fill="none" stroke="#ff5020" stroke-width="0.7"/>
<path d="M79.0,478.5H1774.0" stroke="#444" stroke-width="1" stroke-opacity="0.6"/>
<rect x="77.5" y="432.5" width="4" height="30.5" rx="0.8" fill="#fff" stroke="#444" stroke-width="1"/>
<rect x="1772.5" y="432.5" width="4" height="30.5" rx="0.8" fill="#fff" stroke="#444" stroke-width="1"/>
</svg></body></html>
